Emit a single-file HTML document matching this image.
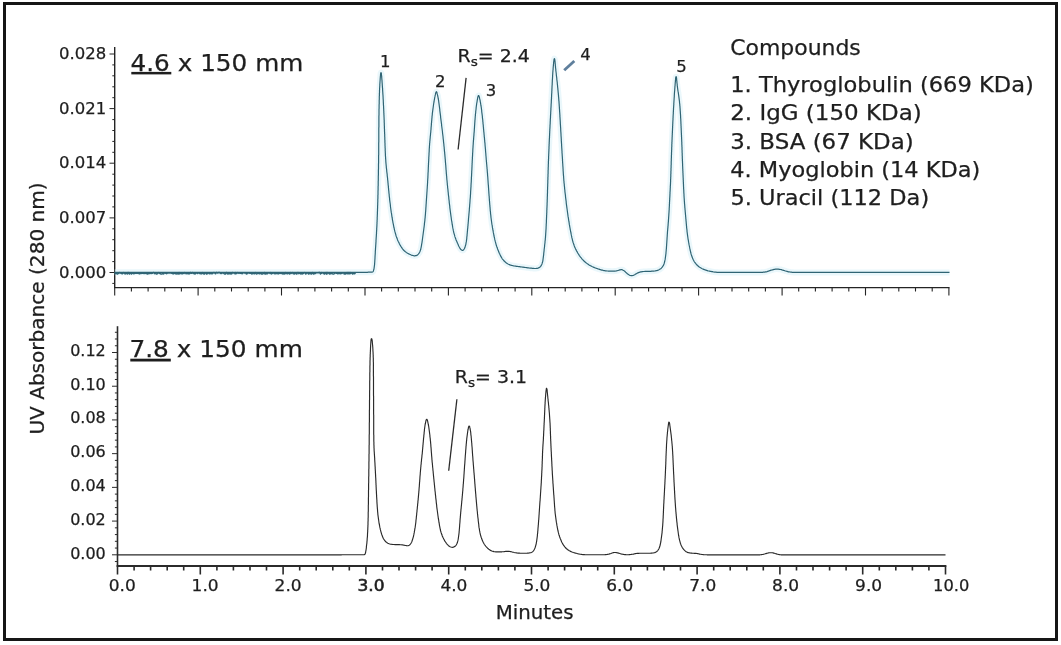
<!DOCTYPE html>
<html lang="en"><head><meta charset="utf-8"><title>SEC chromatograms</title>
<style>html,body{margin:0;padding:0;background:#fff}svg{display:block}</style></head>
<body>
<svg width="1061" height="645" viewBox="0 0 1061 645" font-family='"DejaVu Sans", "Liberation Sans", sans-serif' fill="#222">
<rect x="4.5" y="3.5" width="1052" height="636" fill="#fff" stroke="#161616" stroke-width="3"/>
<g stroke="#242424" stroke-width="1.4" fill="none">
<path d="M114.7 47 V288"/>
<path d="M114.10000000000001 287.6 H949.5" stroke-width="1.4"/>
<path d="M114.7 287.4 V295.6M131.4 287.4 V291.6M148.1 287.4 V291.6M164.8 287.4 V291.6M181.4 287.4 V291.6M198.1 287.4 V295.6M214.8 287.4 V291.6M231.5 287.4 V291.6M248.2 287.4 V291.6M264.9 287.4 V291.6M281.5 287.4 V295.6M298.2 287.4 V291.6M314.9 287.4 V291.6M331.6 287.4 V291.6M348.3 287.4 V291.6M365.0 287.4 V295.6M381.6 287.4 V291.6M398.3 287.4 V291.6M415.0 287.4 V291.6M431.7 287.4 V291.6M448.4 287.4 V295.6M465.1 287.4 V291.6M481.7 287.4 V291.6M498.4 287.4 V291.6M515.1 287.4 V291.6M531.8 287.4 V295.6M548.5 287.4 V291.6M565.2 287.4 V291.6M581.9 287.4 V291.6M598.5 287.4 V291.6M615.2 287.4 V295.6M631.9 287.4 V291.6M648.6 287.4 V291.6M665.3 287.4 V291.6M682.0 287.4 V291.6M698.6 287.4 V295.6M715.3 287.4 V291.6M732.0 287.4 V291.6M748.7 287.4 V291.6M765.4 287.4 V291.6M782.1 287.4 V295.6M798.7 287.4 V291.6M815.4 287.4 V291.6M832.1 287.4 V291.6M848.8 287.4 V291.6M865.5 287.4 V295.6M882.2 287.4 V291.6M898.8 287.4 V291.6M915.5 287.4 V291.6M932.2 287.4 V291.6M948.9 287.4 V295.6" stroke-width="1.1"/>
<path d="M112.3 283.4 H114.7M109.5 272.5 H114.7M112.3 261.6 H114.7M112.3 250.7 H114.7M112.3 239.7 H114.7M112.3 228.8 H114.7M109.5 217.9 H114.7M112.3 206.9 H114.7M112.3 196.0 H114.7M112.3 185.1 H114.7M112.3 174.2 H114.7M109.5 163.2 H114.7M112.3 152.3 H114.7M112.3 141.4 H114.7M112.3 130.5 H114.7M112.3 119.6 H114.7M109.5 108.6 H114.7M112.3 97.7 H114.7M112.3 86.8 H114.7M112.3 75.8 H114.7M112.3 64.9 H114.7M109.5 54.0 H114.7" stroke-width="1"/>
</g>
<g stroke="#2b2b2b" fill="none">
<path d="M117.5 326.2 V566.5" stroke-width="1.6"/>
<path d="M116.7 565.9 H946.3" stroke-width="2"/>
<path d="M117.5 565.5 V574.6M134.1 565.5 V570.4M150.6 565.5 V570.4M167.2 565.5 V570.4M183.7 565.5 V570.4M200.3 565.5 V574.6M216.9 565.5 V570.4M233.4 565.5 V570.4M250.0 565.5 V570.4M266.5 565.5 V570.4M283.1 565.5 V574.6M299.7 565.5 V570.4M316.2 565.5 V570.4M332.8 565.5 V570.4M349.3 565.5 V570.4M365.9 565.5 V574.6M382.5 565.5 V570.4M399.0 565.5 V570.4M415.6 565.5 V570.4M432.1 565.5 V570.4M448.7 565.5 V574.6M465.3 565.5 V570.4M481.8 565.5 V570.4M498.4 565.5 V570.4M514.9 565.5 V570.4M531.5 565.5 V574.6M548.1 565.5 V570.4M564.6 565.5 V570.4M581.2 565.5 V570.4M597.7 565.5 V570.4M614.3 565.5 V574.6M630.9 565.5 V570.4M647.4 565.5 V570.4M664.0 565.5 V570.4M680.5 565.5 V570.4M697.1 565.5 V574.6M713.7 565.5 V570.4M730.2 565.5 V570.4M746.8 565.5 V570.4M763.3 565.5 V570.4M779.9 565.5 V574.6M796.5 565.5 V570.4M813.0 565.5 V570.4M829.6 565.5 V570.4M846.1 565.5 V570.4M862.7 565.5 V574.6M879.3 565.5 V570.4M895.8 565.5 V570.4M912.4 565.5 V570.4M928.9 565.5 V570.4M945.5 565.5 V574.6" stroke-width="1.6"/>
<path d="M114.9 561.54 H117.5M112.0 554.80 H117.5M114.9 548.06 H117.5M114.9 541.31 H117.5M114.9 534.57 H117.5M114.9 527.83 H117.5M112.0 521.08 H117.5M114.9 514.34 H117.5M114.9 507.60 H117.5M114.9 500.85 H117.5M114.9 494.11 H117.5M112.0 487.37 H117.5M114.9 480.62 H117.5M114.9 473.88 H117.5M114.9 467.14 H117.5M114.9 460.39 H117.5M112.0 453.65 H117.5M114.9 446.91 H117.5M114.9 440.16 H117.5M114.9 433.42 H117.5M114.9 426.68 H117.5M112.0 419.93 H117.5M114.9 413.19 H117.5M114.9 406.45 H117.5M114.9 399.70 H117.5M114.9 392.96 H117.5M112.0 386.22 H117.5M114.9 379.47 H117.5M114.9 372.73 H117.5M114.9 365.99 H117.5M114.9 359.24 H117.5M112.0 352.50 H117.5M114.9 345.76 H117.5M114.9 339.01 H117.5M114.9 332.27 H117.5" stroke-width="1"/>
</g>
<path d="M114.7 272.3 L115.9 272.3 L116.3 272.3 L116.8 272.3 L117.3 272.3 L117.9 272.3 L118.6 272.3 L119.3 272.3 L120.0 272.3 L120.7 272.3 L121.5 272.3 L122.2 272.3 L123.0 272.3 L123.7 272.3 L124.5 272.3 L125.2 272.3 L126.0 272.3 L126.7 272.3 L127.4 272.3 L128.2 272.3 L128.9 272.3 L129.7 272.3 L130.5 272.3 L131.2 272.3 L131.9 272.3 L132.7 272.3 L133.5 272.3 L134.2 272.3 L134.9 272.3 L135.7 272.3 L136.5 272.3 L137.2 272.3 L137.9 272.3 L138.7 272.3 L139.4 272.3 L140.2 272.3 L140.9 272.3 L141.7 272.3 L142.4 272.3 L143.2 272.3 L143.9 272.3 L144.7 272.3 L145.4 272.3 L146.2 272.3 L146.9 272.3 L147.7 272.3 L148.4 272.3 L149.2 272.3 L150.0 272.3 L150.7 272.3 L151.4 272.3 L152.2 272.3 L152.9 272.3 L153.7 272.3 L154.5 272.3 L155.2 272.3 L155.9 272.3 L156.7 272.3 L157.4 272.3 L158.2 272.3 L158.9 272.3 L159.7 272.3 L160.4 272.3 L161.2 272.3 L161.9 272.3 L162.7 272.3 L163.5 272.3 L164.2 272.3 L165.0 272.3 L165.7 272.3 L166.4 272.3 L167.2 272.3 L168.0 272.3 L168.7 272.3 L169.4 272.3 L170.2 272.3 L170.9 272.3 L171.7 272.3 L172.4 272.3 L173.2 272.3 L173.9 272.3 L174.7 272.3 L175.5 272.3 L176.2 272.3 L176.9 272.3 L177.7 272.3 L178.4 272.3 L179.2 272.3 L179.9 272.3 L180.7 272.3 L181.5 272.3 L182.2 272.3 L182.9 272.3 L183.7 272.3 L184.5 272.3 L185.2 272.3 L186.0 272.3 L186.7 272.3 L187.4 272.3 L188.2 272.3 L188.9 272.3 L189.7 272.3 L190.4 272.3 L191.2 272.3 L192.0 272.3 L192.7 272.3 L193.4 272.3 L194.2 272.3 L195.0 272.3 L195.7 272.3 L196.4 272.3 L197.2 272.3 L197.9 272.3 L198.7 272.3 L199.4 272.3 L200.2 272.3 L200.9 272.3 L201.7 272.3 L202.5 272.3 L203.2 272.3 L204.0 272.3 L204.7 272.3 L205.5 272.3 L206.2 272.3 L207.0 272.3 L207.7 272.3 L208.4 272.3 L209.2 272.3 L209.9 272.3 L210.7 272.3 L211.4 272.3 L212.2 272.3 L213.0 272.3 L213.7 272.3 L214.5 272.3 L215.2 272.3 L216.0 272.3 L216.7 272.3 L217.4 272.3 L218.2 272.3 L218.9 272.3 L219.7 272.3 L220.5 272.3 L221.2 272.3 L221.9 272.3 L222.7 272.3 L223.4 272.3 L224.2 272.3 L225.0 272.3 L225.7 272.3 L226.4 272.3 L227.2 272.3 L228.0 272.3 L228.7 272.3 L229.4 272.3 L230.2 272.3 L230.9 272.3 L231.7 272.3 L232.5 272.3 L233.2 272.3 L233.9 272.3 L234.7 272.3 L235.4 272.3 L236.2 272.3 L236.9 272.3 L237.7 272.3 L238.5 272.3 L239.2 272.3 L240.0 272.3 L240.7 272.3 L241.4 272.3 L242.2 272.3 L242.9 272.3 L243.7 272.3 L244.5 272.3 L245.2 272.3 L246.0 272.3 L246.7 272.3 L247.5 272.3 L248.2 272.3 L248.9 272.3 L249.7 272.3 L250.5 272.3 L251.2 272.3 L251.9 272.3 L252.7 272.3 L253.4 272.3 L254.2 272.3 L254.9 272.3 L255.7 272.3 L256.4 272.3 L257.2 272.3 L257.9 272.3 L258.7 272.3 L259.4 272.3 L260.2 272.3 L261.0 272.3 L261.7 272.3 L262.4 272.3 L263.2 272.3 L263.9 272.3 L264.7 272.3 L265.5 272.3 L266.2 272.3 L267.0 272.3 L267.7 272.3 L268.4 272.3 L269.2 272.3 L269.9 272.3 L270.7 272.3 L271.4 272.3 L272.2 272.3 L273.0 272.3 L273.7 272.3 L274.4 272.3 L275.2 272.3 L276.0 272.3 L276.7 272.3 L277.4 272.3 L278.2 272.3 L278.9 272.3 L279.7 272.3 L280.4 272.3 L281.2 272.3 L281.9 272.3 L282.7 272.3 L283.4 272.3 L284.2 272.3 L284.9 272.3 L285.7 272.3 L286.5 272.3 L287.2 272.3 L287.9 272.3 L288.7 272.3 L289.4 272.3 L290.2 272.3 L291.0 272.3 L291.7 272.3 L292.4 272.3 L293.2 272.3 L294.0 272.3 L294.7 272.3 L295.5 272.3 L296.2 272.3 L296.9 272.3 L297.7 272.3 L298.4 272.3 L299.2 272.3 L299.9 272.3 L300.7 272.3 L301.4 272.3 L302.2 272.3 L302.9 272.3 L303.7 272.3 L304.5 272.3 L305.2 272.3 L305.9 272.3 L306.7 272.3 L307.5 272.3 L308.2 272.3 L309.0 272.3 L309.7 272.3 L310.4 272.3 L311.2 272.3 L312.0 272.3 L312.7 272.3 L313.4 272.3 L314.2 272.3 L314.9 272.3 L315.7 272.3 L316.5 272.3 L317.2 272.3 L317.9 272.3 L318.7 272.3 L319.4 272.3 L320.2 272.3 L320.9 272.3 L321.7 272.3 L322.4 272.3 L323.2 272.3 L323.9 272.3 L324.7 272.3 L325.5 272.3 L326.2 272.3 L326.9 272.3 L327.7 272.3 L328.5 272.3 L329.2 272.3 L330.0 272.3 L330.7 272.3 L331.4 272.3 L332.2 272.3 L332.9 272.3 L333.7 272.3 L334.4 272.3 L335.2 272.3 L336.0 272.3 L336.7 272.3 L337.4 272.3 L338.2 272.3 L339.0 272.3 L339.7 272.3 L340.4 272.3 L341.2 272.3 L341.9 272.3 L342.7 272.3 L343.4 272.3 L344.2 272.3 L344.9 272.3 L345.7 272.3 L346.4 272.3 L347.2 272.3 L347.9 272.3 L348.7 272.3 L349.4 272.3 L350.2 272.3 L350.9 272.3 L351.7 272.3 L352.4 272.3 L353.2 272.3 L353.9 272.3 L354.7 272.3 L355.4 272.3 L356.2 272.3 L356.9 272.3 L357.7 272.3 L358.4 272.3 L359.2 272.3 L359.9 272.3 L360.7 272.3 L361.4 272.3 L362.2 272.3 L362.9 272.3 L363.7 272.3 L364.4 272.3 L365.2 272.3 L365.9 272.3 L366.7 272.3 L367.4 272.3 L368.2 272.2 L368.9 272.2 L369.7 272.2 L370.4 272.2 L371.2 272.2 L371.9 272.2 L372.6 272.0 L373.1 271.6 L373.4 270.9 L373.6 270.2 L373.8 269.5 L374.0 268.8 L374.1 268.0 L374.2 267.3 L374.3 266.6 L374.4 265.8 L374.5 265.1 L374.6 264.3 L374.6 263.6 L374.7 262.8 L374.7 262.1 L374.8 261.3 L374.8 260.6 L374.9 259.8 L374.9 259.1 L375.0 258.3 L375.0 257.6 L375.0 256.9 L375.1 256.1 L375.1 255.4 L375.2 254.6 L375.2 253.9 L375.3 253.1 L375.3 252.4 L375.3 251.6 L375.4 250.9 L375.4 250.1 L375.5 249.4 L375.5 248.6 L375.6 247.9 L375.6 247.1 L375.7 246.4 L375.7 245.6 L375.8 244.9 L375.8 244.1 L375.9 243.4 L375.9 242.6 L376.0 241.9 L376.0 241.1 L376.0 240.4 L376.1 239.6 L376.1 238.9 L376.2 238.1 L376.2 237.4 L376.3 236.6 L376.3 235.9 L376.4 235.1 L376.4 234.4 L376.5 233.6 L376.5 232.9 L376.5 232.1 L376.6 231.4 L376.6 230.6 L376.7 229.9 L376.7 229.1 L376.7 228.4 L376.8 227.7 L376.8 226.9 L376.9 226.2 L376.9 225.4 L376.9 224.7 L377.0 223.9 L377.0 223.2 L377.0 222.4 L377.1 221.7 L377.1 220.9 L377.1 220.2 L377.2 219.4 L377.2 218.7 L377.2 217.9 L377.2 217.2 L377.3 216.4 L377.3 215.7 L377.3 214.9 L377.4 214.2 L377.4 213.4 L377.4 212.7 L377.4 211.9 L377.5 211.2 L377.5 210.4 L377.5 209.7 L377.5 208.9 L377.6 208.2 L377.6 207.4 L377.6 206.7 L377.6 205.9 L377.7 205.2 L377.7 204.4 L377.7 203.7 L377.7 202.9 L377.8 202.2 L377.8 201.4 L377.8 200.7 L377.8 199.9 L377.8 199.2 L377.9 198.4 L377.9 197.7 L377.9 196.9 L377.9 196.2 L377.9 195.4 L378.0 194.7 L378.0 193.9 L378.0 193.2 L378.0 192.4 L378.0 191.7 L378.0 190.9 L378.1 190.2 L378.1 189.4 L378.1 188.7 L378.1 187.9 L378.1 187.2 L378.1 186.4 L378.2 185.7 L378.2 184.9 L378.2 184.2 L378.2 183.4 L378.2 182.7 L378.2 181.9 L378.2 181.2 L378.3 180.4 L378.3 179.7 L378.3 178.9 L378.3 178.2 L378.3 177.4 L378.3 176.7 L378.3 175.9 L378.4 175.2 L378.4 174.4 L378.4 173.7 L378.4 172.9 L378.4 172.2 L378.4 171.4 L378.4 170.7 L378.4 169.9 L378.5 169.2 L378.5 168.4 L378.5 167.7 L378.5 166.9 L378.5 166.2 L378.5 165.4 L378.5 164.7 L378.5 163.9 L378.6 163.2 L378.6 162.4 L378.6 161.7 L378.6 160.9 L378.6 160.2 L378.6 159.4 L378.6 158.7 L378.6 157.9 L378.6 157.2 L378.6 156.4 L378.6 155.7 L378.7 154.9 L378.7 154.2 L378.7 153.4 L378.7 152.7 L378.7 151.9 L378.7 151.2 L378.7 150.4 L378.7 149.7 L378.7 148.9 L378.7 148.2 L378.7 147.4 L378.7 146.7 L378.7 145.9 L378.7 145.2 L378.7 144.4 L378.7 143.7 L378.7 142.9 L378.8 142.2 L378.8 141.4 L378.8 140.7 L378.8 139.9 L378.8 139.2 L378.8 138.4 L378.8 137.7 L378.8 136.9 L378.8 136.2 L378.8 135.4 L378.8 134.7 L378.8 133.9 L378.8 133.2 L378.8 132.4 L378.8 131.7 L378.8 130.9 L378.8 130.2 L378.8 129.4 L378.8 128.7 L378.8 127.9 L378.9 127.2 L378.9 126.4 L378.9 125.7 L378.9 124.9 L378.9 124.2 L378.9 123.4 L378.9 122.7 L378.9 121.9 L378.9 121.2 L378.9 120.4 L378.9 119.7 L378.9 118.9 L378.9 118.2 L378.9 117.4 L378.9 116.7 L378.9 115.9 L379.0 115.2 L379.0 114.4 L379.0 113.7 L379.0 112.9 L379.0 112.2 L379.0 111.4 L379.0 110.7 L379.0 109.9 L379.0 109.2 L379.1 108.4 L379.1 107.7 L379.1 106.9 L379.1 106.2 L379.1 105.4 L379.1 104.7 L379.2 103.9 L379.2 103.2 L379.2 102.4 L379.2 101.7 L379.2 100.9 L379.2 100.2 L379.3 99.4 L379.3 98.7 L379.3 97.9 L379.3 97.2 L379.3 96.4 L379.4 95.7 L379.4 94.9 L379.4 94.2 L379.4 93.4 L379.5 92.7 L379.5 91.9 L379.5 91.2 L379.5 90.4 L379.6 89.7 L379.6 88.9 L379.6 88.2 L379.7 87.4 L379.7 86.7 L379.8 85.9 L379.8 85.2 L379.8 84.4 L379.9 83.7 L379.9 82.9 L380.0 82.2 L380.0 81.5 L380.1 80.7 L380.1 80.0 L380.2 79.2 L380.2 78.5 L380.3 77.7 L380.3 77.0 L380.4 76.2 L380.5 75.5 L380.5 74.8 L380.6 74.0 L380.7 73.3 L380.9 72.7 L381.1 72.6 L381.2 73.0 L381.4 73.7 L381.4 74.4 L381.5 75.2 L381.6 75.9 L381.7 76.6 L381.7 77.4 L381.8 78.1 L381.8 78.9 L381.9 79.6 L382.0 80.4 L382.0 81.1 L382.1 81.9 L382.1 82.6 L382.2 83.4 L382.2 84.1 L382.3 84.8 L382.3 85.6 L382.4 86.3 L382.4 87.1 L382.5 87.8 L382.6 88.6 L382.6 89.3 L382.6 90.1 L382.7 90.8 L382.7 91.6 L382.8 92.3 L382.8 93.1 L382.9 93.8 L382.9 94.6 L383.0 95.3 L383.0 96.1 L383.1 96.8 L383.1 97.6 L383.1 98.3 L383.2 99.1 L383.2 99.8 L383.3 100.6 L383.3 101.3 L383.3 102.1 L383.4 102.8 L383.4 103.6 L383.4 104.3 L383.5 105.1 L383.5 105.8 L383.6 106.6 L383.6 107.3 L383.6 108.1 L383.7 108.8 L383.7 109.6 L383.7 110.3 L383.8 111.1 L383.8 111.8 L383.8 112.6 L383.9 113.3 L383.9 114.1 L383.9 114.8 L384.0 115.6 L384.0 116.3 L384.0 117.0 L384.1 117.8 L384.1 118.5 L384.1 119.3 L384.2 120.0 L384.2 120.8 L384.2 121.5 L384.2 122.3 L384.3 123.0 L384.3 123.8 L384.3 124.5 L384.3 125.3 L384.4 126.0 L384.4 126.8 L384.4 127.5 L384.4 128.3 L384.5 129.0 L384.5 129.8 L384.5 130.5 L384.5 131.3 L384.6 132.0 L384.6 132.8 L384.6 133.5 L384.7 134.3 L384.7 135.0 L384.7 135.8 L384.7 136.5 L384.8 137.3 L384.8 138.0 L384.8 138.8 L384.8 139.5 L384.9 140.3 L384.9 141.0 L384.9 141.8 L384.9 142.5 L385.0 143.3 L385.0 144.0 L385.0 144.8 L385.0 145.5 L385.1 146.3 L385.1 147.0 L385.1 147.8 L385.2 148.5 L385.2 149.3 L385.2 150.0 L385.2 150.8 L385.3 151.5 L385.3 152.3 L385.3 153.0 L385.4 153.8 L385.4 154.5 L385.4 155.3 L385.5 156.0 L385.5 156.8 L385.6 157.5 L385.6 158.3 L385.7 159.0 L385.7 159.8 L385.8 160.5 L385.8 161.3 L385.9 162.0 L385.9 162.8 L386.0 163.5 L386.1 164.3 L386.1 165.0 L386.2 165.7 L386.3 166.5 L386.3 167.2 L386.4 168.0 L386.5 168.7 L386.6 169.5 L386.7 170.2 L386.7 171.0 L386.8 171.7 L386.9 172.5 L387.0 173.2 L387.1 173.9 L387.2 174.7 L387.2 175.4 L387.3 176.2 L387.4 176.9 L387.5 177.7 L387.6 178.4 L387.6 179.2 L387.7 179.9 L387.8 180.7 L387.9 181.4 L387.9 182.2 L388.0 182.9 L388.1 183.6 L388.1 184.4 L388.2 185.1 L388.3 185.9 L388.4 186.6 L388.4 187.4 L388.5 188.1 L388.6 188.9 L388.6 189.6 L388.7 190.4 L388.8 191.1 L388.9 191.9 L388.9 192.6 L389.0 193.4 L389.1 194.1 L389.2 194.8 L389.2 195.6 L389.3 196.3 L389.4 197.1 L389.5 197.8 L389.6 198.6 L389.6 199.3 L389.7 200.1 L389.8 200.8 L389.9 201.6 L390.0 202.3 L390.1 203.0 L390.2 203.8 L390.3 204.5 L390.4 205.3 L390.4 206.0 L390.5 206.8 L390.6 207.5 L390.7 208.3 L390.8 209.0 L390.9 209.7 L391.0 210.5 L391.1 211.2 L391.2 212.0 L391.3 212.7 L391.5 213.4 L391.6 214.2 L391.7 214.9 L391.8 215.7 L391.9 216.4 L392.0 217.2 L392.2 217.9 L392.3 218.6 L392.4 219.4 L392.5 220.1 L392.7 220.8 L392.8 221.6 L392.9 222.3 L393.1 223.1 L393.2 223.8 L393.4 224.5 L393.5 225.3 L393.6 226.0 L393.8 226.7 L393.9 227.5 L394.1 228.2 L394.3 228.9 L394.4 229.7 L394.6 230.4 L394.8 231.1 L395.0 231.9 L395.2 232.6 L395.4 233.3 L395.6 234.0 L395.8 234.7 L396.0 235.5 L396.2 236.2 L396.5 236.9 L396.7 237.6 L397.0 238.3 L397.3 239.0 L397.5 239.7 L397.8 240.4 L398.1 241.1 L398.4 241.7 L398.8 242.4 L399.1 243.1 L399.4 243.8 L399.8 244.4 L400.1 245.1 L400.5 245.7 L400.9 246.4 L401.3 247.0 L401.7 247.6 L402.1 248.2 L402.5 248.8 L403.0 249.4 L403.5 250.0 L404.0 250.5 L404.6 251.0 L405.1 251.5 L405.7 251.9 L406.3 252.4 L406.9 252.8 L407.5 253.2 L408.2 253.5 L408.8 253.9 L409.5 254.2 L410.2 254.5 L410.8 254.8 L411.5 255.1 L412.2 255.3 L412.9 255.5 L413.6 255.7 L414.2 255.8 L414.9 255.8 L415.5 255.7 L416.2 255.6 L416.7 255.4 L417.3 255.1 L417.8 254.7 L418.3 254.2 L418.7 253.7 L419.1 253.1 L419.5 252.5 L419.8 251.8 L420.1 251.2 L420.3 250.5 L420.6 249.8 L420.8 249.1 L420.9 248.3 L421.1 247.6 L421.2 246.9 L421.4 246.1 L421.5 245.4 L421.6 244.7 L421.7 243.9 L421.9 243.2 L422.0 242.4 L422.1 241.7 L422.2 241.0 L422.3 240.2 L422.4 239.5 L422.5 238.7 L422.6 238.0 L422.7 237.2 L422.8 236.5 L422.9 235.7 L423.0 235.0 L423.1 234.3 L423.2 233.5 L423.3 232.8 L423.4 232.0 L423.5 231.3 L423.6 230.5 L423.7 229.8 L423.8 229.1 L423.9 228.3 L424.0 227.6 L424.1 226.8 L424.2 226.1 L424.3 225.3 L424.4 224.6 L424.4 223.9 L424.5 223.1 L424.6 222.4 L424.7 221.6 L424.8 220.9 L424.9 220.1 L424.9 219.4 L425.0 218.6 L425.1 217.9 L425.2 217.1 L425.2 216.4 L425.3 215.6 L425.4 214.9 L425.4 214.2 L425.5 213.4 L425.5 212.7 L425.6 211.9 L425.7 211.2 L425.7 210.4 L425.8 209.7 L425.8 208.9 L425.9 208.2 L425.9 207.4 L426.0 206.7 L426.0 205.9 L426.1 205.2 L426.1 204.4 L426.2 203.7 L426.2 202.9 L426.3 202.2 L426.3 201.4 L426.4 200.7 L426.4 199.9 L426.5 199.2 L426.5 198.4 L426.6 197.7 L426.6 196.9 L426.7 196.2 L426.7 195.4 L426.8 194.7 L426.8 194.0 L426.9 193.2 L426.9 192.5 L427.0 191.7 L427.0 191.0 L427.1 190.2 L427.1 189.5 L427.2 188.7 L427.2 188.0 L427.3 187.2 L427.3 186.5 L427.4 185.7 L427.4 185.0 L427.5 184.2 L427.5 183.5 L427.6 182.7 L427.6 182.0 L427.6 181.2 L427.7 180.5 L427.7 179.7 L427.8 179.0 L427.8 178.2 L427.9 177.5 L427.9 176.7 L427.9 176.0 L428.0 175.2 L428.0 174.5 L428.0 173.7 L428.1 173.0 L428.1 172.2 L428.2 171.5 L428.2 170.7 L428.2 170.0 L428.3 169.2 L428.3 168.5 L428.3 167.7 L428.4 167.0 L428.4 166.2 L428.4 165.5 L428.5 164.7 L428.5 164.0 L428.5 163.2 L428.6 162.5 L428.6 161.8 L428.7 161.0 L428.7 160.3 L428.7 159.5 L428.8 158.8 L428.8 158.0 L428.8 157.3 L428.9 156.5 L428.9 155.8 L429.0 155.0 L429.0 154.3 L429.0 153.5 L429.1 152.8 L429.1 152.0 L429.2 151.3 L429.2 150.5 L429.2 149.8 L429.3 149.0 L429.3 148.3 L429.4 147.5 L429.4 146.8 L429.5 146.0 L429.5 145.3 L429.6 144.5 L429.6 143.8 L429.7 143.0 L429.8 142.3 L429.8 141.5 L429.9 140.8 L430.0 140.0 L430.0 139.3 L430.1 138.6 L430.2 137.8 L430.2 137.1 L430.3 136.3 L430.4 135.6 L430.5 134.8 L430.5 134.1 L430.6 133.3 L430.7 132.6 L430.8 131.8 L430.8 131.1 L430.9 130.3 L431.0 129.6 L431.0 128.8 L431.1 128.1 L431.1 127.4 L431.2 126.6 L431.3 125.9 L431.3 125.1 L431.4 124.4 L431.4 123.6 L431.5 122.9 L431.6 122.1 L431.6 121.4 L431.7 120.6 L431.8 119.9 L431.8 119.1 L431.9 118.4 L432.0 117.6 L432.0 116.9 L432.1 116.1 L432.2 115.4 L432.3 114.7 L432.3 113.9 L432.4 113.2 L432.5 112.4 L432.6 111.7 L432.7 110.9 L432.8 110.2 L432.9 109.4 L433.0 108.7 L433.1 108.0 L433.2 107.2 L433.3 106.5 L433.4 105.7 L433.5 105.0 L433.6 104.2 L433.7 103.5 L433.8 102.8 L434.0 102.0 L434.1 101.3 L434.2 100.5 L434.3 99.8 L434.5 99.1 L434.6 98.3 L434.7 97.6 L434.9 96.9 L435.0 96.1 L435.2 95.4 L435.4 94.7 L435.5 94.0 L435.7 93.2 L435.9 92.5 L436.1 91.9 L436.4 91.7 L436.7 92.1 L437.0 92.7 L437.1 93.4 L437.3 94.1 L437.5 94.9 L437.7 95.6 L437.8 96.3 L438.0 97.1 L438.1 97.8 L438.2 98.5 L438.4 99.3 L438.5 100.0 L438.6 100.7 L438.7 101.5 L438.8 102.2 L438.9 103.0 L439.0 103.7 L439.1 104.4 L439.2 105.2 L439.3 105.9 L439.4 106.7 L439.5 107.4 L439.6 108.2 L439.7 108.9 L439.8 109.7 L439.8 110.4 L439.9 111.1 L440.0 111.9 L440.1 112.6 L440.2 113.4 L440.3 114.1 L440.4 114.9 L440.5 115.6 L440.6 116.4 L440.6 117.1 L440.7 117.8 L440.8 118.6 L440.9 119.3 L441.0 120.1 L441.1 120.8 L441.2 121.6 L441.3 122.3 L441.4 123.1 L441.5 123.8 L441.6 124.5 L441.6 125.3 L441.7 126.0 L441.8 126.8 L441.9 127.5 L442.0 128.3 L442.1 129.0 L442.2 129.8 L442.3 130.5 L442.4 131.3 L442.5 132.0 L442.5 132.7 L442.6 133.5 L442.7 134.2 L442.8 135.0 L442.9 135.7 L443.0 136.5 L443.1 137.2 L443.1 138.0 L443.2 138.7 L443.3 139.4 L443.4 140.2 L443.5 140.9 L443.5 141.7 L443.6 142.4 L443.7 143.2 L443.8 143.9 L443.9 144.7 L443.9 145.4 L444.0 146.2 L444.1 146.9 L444.2 147.7 L444.2 148.4 L444.3 149.1 L444.4 149.9 L444.4 150.6 L444.5 151.4 L444.6 152.1 L444.7 152.9 L444.7 153.6 L444.8 154.4 L444.9 155.1 L444.9 155.9 L445.0 156.6 L445.1 157.4 L445.1 158.1 L445.2 158.9 L445.3 159.6 L445.3 160.3 L445.4 161.1 L445.4 161.8 L445.5 162.6 L445.6 163.3 L445.6 164.1 L445.7 164.8 L445.8 165.6 L445.8 166.3 L445.9 167.1 L445.9 167.8 L446.0 168.6 L446.0 169.3 L446.1 170.1 L446.2 170.8 L446.2 171.6 L446.3 172.3 L446.3 173.1 L446.4 173.8 L446.5 174.6 L446.5 175.3 L446.6 176.0 L446.7 176.8 L446.7 177.5 L446.8 178.3 L446.8 179.0 L446.9 179.8 L447.0 180.5 L447.1 181.3 L447.1 182.0 L447.2 182.8 L447.3 183.5 L447.3 184.3 L447.4 185.0 L447.5 185.8 L447.6 186.5 L447.6 187.2 L447.7 188.0 L447.8 188.7 L447.9 189.5 L448.0 190.2 L448.0 191.0 L448.1 191.7 L448.2 192.5 L448.3 193.2 L448.3 194.0 L448.4 194.7 L448.5 195.5 L448.6 196.2 L448.7 196.9 L448.8 197.7 L448.8 198.4 L448.9 199.2 L449.0 199.9 L449.1 200.7 L449.2 201.4 L449.2 202.2 L449.3 202.9 L449.4 203.7 L449.5 204.4 L449.6 205.1 L449.7 205.9 L449.8 206.6 L449.8 207.4 L449.9 208.1 L450.0 208.9 L450.1 209.6 L450.2 210.4 L450.3 211.1 L450.4 211.8 L450.5 212.6 L450.6 213.3 L450.7 214.1 L450.8 214.8 L450.9 215.6 L451.0 216.3 L451.1 217.0 L451.2 217.8 L451.3 218.5 L451.4 219.3 L451.5 220.0 L451.6 220.8 L451.8 221.5 L451.9 222.2 L452.0 223.0 L452.1 223.7 L452.2 224.5 L452.4 225.2 L452.5 225.9 L452.6 226.7 L452.7 227.4 L452.9 228.2 L453.0 228.9 L453.2 229.6 L453.3 230.4 L453.5 231.1 L453.6 231.8 L453.8 232.6 L454.0 233.3 L454.2 234.0 L454.4 234.7 L454.6 235.4 L454.8 236.2 L455.0 236.9 L455.3 237.6 L455.5 238.3 L455.8 239.0 L456.0 239.7 L456.3 240.4 L456.6 241.1 L456.9 241.8 L457.2 242.5 L457.5 243.2 L457.8 243.8 L458.1 244.5 L458.4 245.2 L458.7 245.9 L459.0 246.5 L459.4 247.2 L459.7 247.8 L460.1 248.4 L460.4 249.0 L460.8 249.4 L461.2 249.8 L461.7 250.1 L462.1 250.3 L462.5 250.4 L462.9 250.3 L463.3 250.1 L463.7 249.8 L464.0 249.3 L464.3 248.8 L464.6 248.2 L464.9 247.6 L465.1 246.9 L465.3 246.2 L465.5 245.5 L465.7 244.8 L465.9 244.1 L466.0 243.3 L466.1 242.6 L466.3 241.9 L466.4 241.1 L466.5 240.4 L466.6 239.6 L466.7 238.9 L466.8 238.1 L466.8 237.4 L466.9 236.7 L467.0 235.9 L467.1 235.2 L467.1 234.4 L467.2 233.7 L467.3 232.9 L467.3 232.2 L467.4 231.4 L467.5 230.7 L467.5 229.9 L467.6 229.2 L467.7 228.4 L467.8 227.7 L467.8 226.9 L467.9 226.2 L468.0 225.5 L468.0 224.7 L468.1 224.0 L468.2 223.2 L468.2 222.5 L468.3 221.7 L468.4 221.0 L468.4 220.2 L468.5 219.5 L468.5 218.7 L468.6 218.0 L468.7 217.2 L468.7 216.5 L468.8 215.7 L468.9 215.0 L468.9 214.2 L469.0 213.5 L469.1 212.7 L469.1 212.0 L469.2 211.3 L469.3 210.5 L469.3 209.8 L469.4 209.0 L469.4 208.3 L469.5 207.5 L469.6 206.8 L469.6 206.0 L469.7 205.3 L469.7 204.5 L469.8 203.8 L469.9 203.0 L469.9 202.3 L470.0 201.5 L470.0 200.8 L470.1 200.0 L470.1 199.3 L470.2 198.5 L470.3 197.8 L470.3 197.0 L470.4 196.3 L470.4 195.6 L470.5 194.8 L470.5 194.1 L470.6 193.3 L470.6 192.6 L470.6 191.8 L470.7 191.1 L470.7 190.3 L470.8 189.6 L470.8 188.8 L470.9 188.1 L470.9 187.3 L471.0 186.6 L471.0 185.8 L471.0 185.1 L471.1 184.3 L471.1 183.6 L471.2 182.8 L471.2 182.1 L471.3 181.3 L471.3 180.6 L471.3 179.8 L471.4 179.1 L471.4 178.3 L471.4 177.6 L471.5 176.8 L471.5 176.1 L471.6 175.3 L471.6 174.6 L471.6 173.8 L471.7 173.1 L471.7 172.3 L471.7 171.6 L471.8 170.8 L471.8 170.1 L471.9 169.3 L471.9 168.6 L471.9 167.8 L472.0 167.1 L472.0 166.3 L472.0 165.6 L472.1 164.8 L472.1 164.1 L472.1 163.3 L472.2 162.6 L472.2 161.9 L472.2 161.1 L472.3 160.4 L472.3 159.6 L472.4 158.9 L472.4 158.1 L472.4 157.4 L472.5 156.6 L472.5 155.9 L472.6 155.1 L472.6 154.4 L472.6 153.6 L472.7 152.9 L472.7 152.1 L472.8 151.4 L472.8 150.6 L472.8 149.9 L472.9 149.1 L472.9 148.4 L473.0 147.6 L473.0 146.9 L473.1 146.1 L473.1 145.4 L473.2 144.6 L473.2 143.9 L473.3 143.1 L473.3 142.4 L473.4 141.6 L473.4 140.9 L473.5 140.1 L473.6 139.4 L473.6 138.6 L473.7 137.9 L473.7 137.1 L473.8 136.4 L473.9 135.7 L473.9 134.9 L474.0 134.2 L474.0 133.4 L474.1 132.7 L474.2 131.9 L474.2 131.2 L474.3 130.4 L474.3 129.7 L474.4 128.9 L474.4 128.2 L474.5 127.4 L474.5 126.7 L474.6 125.9 L474.6 125.2 L474.7 124.4 L474.7 123.7 L474.8 122.9 L474.8 122.2 L474.9 121.4 L474.9 120.7 L475.0 119.9 L475.1 119.2 L475.1 118.5 L475.2 117.7 L475.2 117.0 L475.3 116.2 L475.4 115.5 L475.4 114.7 L475.5 114.0 L475.6 113.2 L475.7 112.5 L475.7 111.7 L475.8 111.0 L475.9 110.2 L476.0 109.5 L476.1 108.7 L476.1 108.0 L476.2 107.3 L476.3 106.5 L476.4 105.8 L476.5 105.0 L476.6 104.3 L476.7 103.5 L476.8 102.8 L477.0 102.1 L477.1 101.3 L477.2 100.6 L477.3 99.9 L477.5 99.1 L477.6 98.4 L477.7 97.7 L477.9 96.9 L478.1 96.2 L478.3 95.7 L478.7 95.6 L479.0 96.1 L479.2 96.7 L479.4 97.4 L479.6 98.2 L479.7 98.9 L479.9 99.6 L480.1 100.4 L480.2 101.1 L480.3 101.8 L480.5 102.6 L480.6 103.3 L480.7 104.0 L480.8 104.8 L480.9 105.5 L481.1 106.3 L481.2 107.0 L481.3 107.7 L481.4 108.5 L481.5 109.2 L481.6 110.0 L481.7 110.7 L481.7 111.5 L481.8 112.2 L481.9 113.0 L482.0 113.7 L482.1 114.4 L482.2 115.2 L482.3 115.9 L482.4 116.7 L482.4 117.4 L482.5 118.2 L482.6 118.9 L482.7 119.7 L482.8 120.4 L482.8 121.2 L482.9 121.9 L483.0 122.6 L483.0 123.4 L483.1 124.1 L483.2 124.9 L483.3 125.6 L483.3 126.4 L483.4 127.1 L483.5 127.9 L483.5 128.6 L483.6 129.4 L483.7 130.1 L483.7 130.9 L483.8 131.6 L483.9 132.4 L484.0 133.1 L484.0 133.8 L484.1 134.6 L484.2 135.3 L484.2 136.1 L484.3 136.8 L484.4 137.6 L484.5 138.3 L484.5 139.1 L484.6 139.8 L484.7 140.6 L484.7 141.3 L484.8 142.1 L484.9 142.8 L485.0 143.6 L485.0 144.3 L485.1 145.0 L485.1 145.8 L485.2 146.5 L485.3 147.3 L485.3 148.0 L485.4 148.8 L485.5 149.5 L485.5 150.3 L485.6 151.0 L485.6 151.8 L485.7 152.5 L485.8 153.3 L485.8 154.0 L485.9 154.8 L485.9 155.5 L486.0 156.3 L486.1 157.0 L486.1 157.8 L486.2 158.5 L486.2 159.2 L486.3 160.0 L486.4 160.7 L486.4 161.5 L486.5 162.2 L486.6 163.0 L486.6 163.7 L486.7 164.5 L486.8 165.2 L486.8 166.0 L486.9 166.7 L487.0 167.5 L487.0 168.2 L487.1 169.0 L487.2 169.7 L487.2 170.5 L487.3 171.2 L487.3 172.0 L487.4 172.7 L487.5 173.4 L487.5 174.2 L487.6 174.9 L487.6 175.7 L487.7 176.4 L487.8 177.2 L487.8 177.9 L487.9 178.7 L487.9 179.4 L488.0 180.2 L488.0 180.9 L488.1 181.7 L488.1 182.4 L488.2 183.2 L488.2 183.9 L488.3 184.7 L488.4 185.4 L488.4 186.2 L488.5 186.9 L488.5 187.7 L488.6 188.4 L488.6 189.2 L488.7 189.9 L488.7 190.6 L488.8 191.4 L488.8 192.1 L488.9 192.9 L488.9 193.6 L489.0 194.4 L489.0 195.1 L489.1 195.9 L489.2 196.6 L489.2 197.4 L489.3 198.1 L489.3 198.9 L489.4 199.6 L489.4 200.4 L489.5 201.1 L489.6 201.9 L489.6 202.6 L489.7 203.4 L489.7 204.1 L489.8 204.9 L489.9 205.6 L489.9 206.4 L490.0 207.1 L490.1 207.8 L490.1 208.6 L490.2 209.3 L490.2 210.1 L490.3 210.8 L490.4 211.6 L490.5 212.3 L490.5 213.1 L490.6 213.8 L490.7 214.6 L490.8 215.3 L490.9 216.1 L490.9 216.8 L491.0 217.5 L491.1 218.3 L491.2 219.0 L491.3 219.8 L491.4 220.5 L491.5 221.3 L491.6 222.0 L491.7 222.8 L491.8 223.5 L491.9 224.2 L492.1 225.0 L492.2 225.7 L492.3 226.5 L492.4 227.2 L492.5 227.9 L492.7 228.7 L492.8 229.4 L492.9 230.2 L493.1 230.9 L493.2 231.6 L493.3 232.4 L493.5 233.1 L493.6 233.8 L493.8 234.6 L493.9 235.3 L494.0 236.0 L494.2 236.8 L494.4 237.5 L494.5 238.2 L494.7 239.0 L494.8 239.7 L495.0 240.4 L495.2 241.2 L495.4 241.9 L495.6 242.6 L495.8 243.3 L496.0 244.1 L496.2 244.8 L496.4 245.5 L496.6 246.2 L496.9 246.9 L497.1 247.6 L497.4 248.3 L497.6 249.0 L497.9 249.7 L498.2 250.4 L498.5 251.1 L498.7 251.8 L499.0 252.5 L499.3 253.2 L499.7 253.9 L500.0 254.6 L500.3 255.2 L500.6 255.9 L501.0 256.6 L501.3 257.2 L501.7 257.8 L502.1 258.5 L502.5 259.1 L503.0 259.7 L503.5 260.2 L503.9 260.8 L504.5 261.3 L505.0 261.8 L505.6 262.3 L506.1 262.8 L506.7 263.2 L507.3 263.6 L508.0 264.0 L508.6 264.3 L509.3 264.6 L510.0 264.9 L510.7 265.1 L511.4 265.3 L512.1 265.5 L512.9 265.7 L513.6 265.8 L514.3 266.0 L515.1 266.1 L515.8 266.2 L516.5 266.3 L517.3 266.4 L518.0 266.5 L518.8 266.6 L519.5 266.7 L520.3 266.8 L521.0 266.9 L521.7 267.0 L522.5 267.1 L523.2 267.2 L524.0 267.3 L524.7 267.4 L525.5 267.5 L526.2 267.6 L526.9 267.7 L527.7 267.8 L528.4 267.9 L529.2 268.0 L529.9 268.1 L530.7 268.2 L531.4 268.2 L532.2 268.3 L532.9 268.4 L533.6 268.4 L534.4 268.5 L535.1 268.5 L535.8 268.5 L536.5 268.4 L537.2 268.3 L537.9 268.1 L538.5 267.9 L539.1 267.6 L539.7 267.3 L540.2 266.8 L540.6 266.4 L541.0 265.8 L541.4 265.2 L541.7 264.6 L542.0 263.9 L542.2 263.2 L542.4 262.5 L542.6 261.8 L542.8 261.1 L542.9 260.4 L543.0 259.6 L543.1 258.9 L543.2 258.2 L543.3 257.4 L543.4 256.7 L543.5 255.9 L543.6 255.2 L543.7 254.4 L543.7 253.7 L543.8 252.9 L543.9 252.2 L544.0 251.4 L544.1 250.7 L544.1 250.0 L544.2 249.2 L544.3 248.5 L544.4 247.7 L544.5 247.0 L544.6 246.2 L544.6 245.5 L544.7 244.7 L544.8 244.0 L544.9 243.2 L545.0 242.5 L545.0 241.8 L545.1 241.0 L545.2 240.3 L545.3 239.5 L545.3 238.8 L545.4 238.0 L545.5 237.3 L545.5 236.5 L545.6 235.8 L545.6 235.0 L545.7 234.3 L545.7 233.5 L545.8 232.8 L545.8 232.0 L545.9 231.3 L545.9 230.5 L546.0 229.8 L546.0 229.0 L546.1 228.3 L546.1 227.5 L546.1 226.8 L546.2 226.0 L546.2 225.3 L546.2 224.5 L546.3 223.8 L546.3 223.1 L546.4 222.3 L546.4 221.6 L546.4 220.8 L546.4 220.1 L546.5 219.3 L546.5 218.6 L546.5 217.8 L546.6 217.1 L546.6 216.3 L546.6 215.6 L546.7 214.8 L546.7 214.1 L546.7 213.3 L546.8 212.6 L546.8 211.8 L546.8 211.1 L546.8 210.3 L546.9 209.6 L546.9 208.8 L546.9 208.1 L547.0 207.3 L547.0 206.6 L547.0 205.8 L547.1 205.1 L547.1 204.3 L547.1 203.6 L547.1 202.8 L547.2 202.1 L547.2 201.3 L547.2 200.6 L547.2 199.8 L547.3 199.1 L547.3 198.3 L547.3 197.6 L547.3 196.8 L547.4 196.1 L547.4 195.3 L547.4 194.6 L547.4 193.8 L547.5 193.1 L547.5 192.3 L547.5 191.6 L547.5 190.8 L547.5 190.1 L547.6 189.3 L547.6 188.6 L547.6 187.8 L547.6 187.1 L547.7 186.3 L547.7 185.6 L547.7 184.8 L547.7 184.1 L547.8 183.3 L547.8 182.6 L547.8 181.8 L547.8 181.1 L547.8 180.3 L547.9 179.6 L547.9 178.8 L547.9 178.1 L547.9 177.3 L548.0 176.6 L548.0 175.8 L548.0 175.1 L548.0 174.3 L548.1 173.6 L548.1 172.8 L548.1 172.1 L548.1 171.3 L548.1 170.6 L548.2 169.8 L548.2 169.1 L548.2 168.3 L548.2 167.6 L548.3 166.8 L548.3 166.1 L548.3 165.3 L548.3 164.6 L548.4 163.8 L548.4 163.1 L548.4 162.3 L548.4 161.6 L548.5 160.8 L548.5 160.1 L548.5 159.3 L548.6 158.6 L548.6 157.8 L548.6 157.1 L548.6 156.3 L548.7 155.6 L548.7 154.8 L548.7 154.1 L548.8 153.3 L548.8 152.6 L548.8 151.8 L548.9 151.1 L548.9 150.3 L548.9 149.6 L549.0 148.8 L549.0 148.1 L549.0 147.3 L549.0 146.6 L549.1 145.9 L549.1 145.1 L549.1 144.4 L549.2 143.6 L549.2 142.9 L549.2 142.1 L549.3 141.4 L549.3 140.6 L549.3 139.9 L549.4 139.1 L549.4 138.4 L549.5 137.6 L549.5 136.9 L549.5 136.1 L549.6 135.4 L549.6 134.6 L549.6 133.9 L549.7 133.1 L549.7 132.4 L549.7 131.6 L549.8 130.9 L549.8 130.1 L549.8 129.4 L549.9 128.6 L549.9 127.9 L550.0 127.1 L550.0 126.4 L550.0 125.6 L550.1 124.9 L550.1 124.1 L550.2 123.4 L550.2 122.6 L550.2 121.9 L550.3 121.1 L550.3 120.4 L550.3 119.6 L550.4 118.9 L550.4 118.1 L550.5 117.4 L550.5 116.6 L550.5 115.9 L550.6 115.1 L550.6 114.4 L550.7 113.6 L550.7 112.9 L550.7 112.1 L550.8 111.4 L550.8 110.6 L550.9 109.9 L550.9 109.1 L550.9 108.4 L551.0 107.6 L551.0 106.9 L551.1 106.2 L551.1 105.4 L551.1 104.7 L551.2 103.9 L551.2 103.2 L551.3 102.4 L551.3 101.7 L551.3 100.9 L551.4 100.2 L551.4 99.4 L551.5 98.7 L551.5 97.9 L551.5 97.2 L551.6 96.4 L551.6 95.7 L551.6 94.9 L551.7 94.2 L551.7 93.4 L551.8 92.7 L551.8 91.9 L551.8 91.2 L551.9 90.4 L551.9 89.7 L551.9 88.9 L552.0 88.2 L552.0 87.4 L552.0 86.7 L552.1 85.9 L552.1 85.2 L552.2 84.4 L552.2 83.7 L552.2 82.9 L552.3 82.2 L552.3 81.4 L552.3 80.7 L552.4 79.9 L552.4 79.2 L552.5 78.4 L552.5 77.7 L552.6 76.9 L552.6 76.2 L552.6 75.4 L552.7 74.7 L552.7 73.9 L552.8 73.2 L552.8 72.4 L552.9 71.7 L552.9 71.0 L553.0 70.2 L553.1 69.5 L553.1 68.7 L553.2 68.0 L553.2 67.2 L553.3 66.5 L553.4 65.7 L553.4 65.0 L553.5 64.2 L553.6 63.5 L553.6 62.8 L553.7 62.0 L553.8 61.3 L553.9 60.5 L554.0 59.8 L554.1 59.1 L554.3 58.6 L554.5 58.7 L554.7 59.2 L554.8 59.9 L554.9 60.6 L555.0 61.4 L555.1 62.1 L555.1 62.8 L555.2 63.6 L555.3 64.3 L555.3 65.1 L555.4 65.8 L555.5 66.6 L555.5 67.3 L555.6 68.0 L555.7 68.8 L555.8 69.5 L555.8 70.3 L555.9 71.0 L556.0 71.8 L556.1 72.5 L556.2 73.3 L556.3 74.0 L556.3 74.8 L556.4 75.5 L556.5 76.2 L556.6 77.0 L556.7 77.7 L556.8 78.5 L556.8 79.2 L556.9 80.0 L557.0 80.7 L557.1 81.5 L557.2 82.2 L557.3 83.0 L557.3 83.7 L557.4 84.4 L557.5 85.2 L557.6 85.9 L557.6 86.7 L557.7 87.4 L557.8 88.2 L557.9 88.9 L557.9 89.7 L558.0 90.4 L558.1 91.2 L558.1 91.9 L558.2 92.7 L558.3 93.4 L558.3 94.2 L558.4 94.9 L558.5 95.6 L558.5 96.4 L558.6 97.1 L558.7 97.9 L558.7 98.6 L558.8 99.4 L558.8 100.1 L558.9 100.9 L559.0 101.6 L559.0 102.4 L559.1 103.1 L559.1 103.9 L559.2 104.6 L559.2 105.4 L559.3 106.1 L559.3 106.9 L559.4 107.6 L559.4 108.4 L559.5 109.1 L559.5 109.9 L559.6 110.6 L559.6 111.4 L559.7 112.1 L559.7 112.9 L559.8 113.6 L559.8 114.3 L559.9 115.1 L559.9 115.8 L559.9 116.6 L560.0 117.3 L560.0 118.1 L560.1 118.8 L560.1 119.6 L560.2 120.3 L560.2 121.1 L560.3 121.8 L560.3 122.6 L560.3 123.3 L560.4 124.1 L560.4 124.8 L560.5 125.6 L560.5 126.3 L560.6 127.1 L560.6 127.8 L560.7 128.6 L560.7 129.3 L560.7 130.1 L560.8 130.8 L560.8 131.6 L560.9 132.3 L560.9 133.1 L561.0 133.8 L561.0 134.6 L561.0 135.3 L561.1 136.1 L561.1 136.8 L561.2 137.6 L561.2 138.3 L561.3 139.1 L561.3 139.8 L561.3 140.6 L561.4 141.3 L561.4 142.1 L561.5 142.8 L561.5 143.5 L561.6 144.3 L561.6 145.0 L561.6 145.8 L561.7 146.5 L561.7 147.3 L561.8 148.0 L561.8 148.8 L561.9 149.5 L561.9 150.3 L562.0 151.0 L562.0 151.8 L562.0 152.5 L562.1 153.3 L562.1 154.0 L562.2 154.8 L562.2 155.5 L562.3 156.3 L562.3 157.0 L562.4 157.8 L562.4 158.5 L562.5 159.3 L562.5 160.0 L562.5 160.8 L562.6 161.5 L562.6 162.3 L562.7 163.0 L562.7 163.8 L562.8 164.5 L562.8 165.3 L562.9 166.0 L562.9 166.8 L563.0 167.5 L563.0 168.3 L563.1 169.0 L563.1 169.8 L563.1 170.5 L563.2 171.2 L563.2 172.0 L563.3 172.7 L563.3 173.5 L563.4 174.2 L563.4 175.0 L563.5 175.7 L563.6 176.5 L563.6 177.2 L563.7 178.0 L563.7 178.7 L563.8 179.5 L563.8 180.2 L563.9 181.0 L564.0 181.7 L564.0 182.5 L564.1 183.2 L564.2 184.0 L564.3 184.7 L564.3 185.5 L564.4 186.2 L564.5 186.9 L564.6 187.7 L564.6 188.4 L564.7 189.2 L564.8 189.9 L564.9 190.7 L564.9 191.4 L565.0 192.2 L565.1 192.9 L565.2 193.7 L565.3 194.4 L565.4 195.1 L565.5 195.9 L565.5 196.6 L565.6 197.4 L565.7 198.1 L565.8 198.9 L565.9 199.6 L566.0 200.4 L566.1 201.1 L566.2 201.9 L566.2 202.6 L566.3 203.3 L566.4 204.1 L566.5 204.8 L566.6 205.6 L566.7 206.3 L566.8 207.1 L566.9 207.8 L567.0 208.5 L567.1 209.3 L567.2 210.0 L567.3 210.8 L567.4 211.5 L567.5 212.3 L567.6 213.0 L567.7 213.7 L567.8 214.5 L567.9 215.2 L568.0 216.0 L568.1 216.7 L568.3 217.5 L568.4 218.2 L568.5 218.9 L568.6 219.7 L568.7 220.4 L568.8 221.2 L569.0 221.9 L569.1 222.6 L569.2 223.4 L569.3 224.1 L569.4 224.9 L569.6 225.6 L569.7 226.3 L569.8 227.1 L570.0 227.8 L570.1 228.6 L570.2 229.3 L570.4 230.0 L570.5 230.8 L570.6 231.5 L570.8 232.2 L570.9 233.0 L571.1 233.7 L571.2 234.4 L571.4 235.2 L571.5 235.9 L571.7 236.7 L571.8 237.4 L572.0 238.1 L572.2 238.8 L572.4 239.6 L572.5 240.3 L572.7 241.0 L572.9 241.7 L573.1 242.5 L573.4 243.2 L573.6 243.9 L573.8 244.6 L574.1 245.3 L574.3 246.0 L574.6 246.7 L574.9 247.4 L575.2 248.1 L575.5 248.8 L575.8 249.4 L576.2 250.1 L576.5 250.8 L576.9 251.4 L577.3 252.1 L577.6 252.7 L578.0 253.4 L578.4 254.0 L578.8 254.6 L579.2 255.3 L579.6 255.9 L580.1 256.5 L580.5 257.1 L581.0 257.7 L581.5 258.2 L581.9 258.8 L582.4 259.4 L582.9 259.9 L583.5 260.5 L584.0 261.0 L584.6 261.5 L585.1 262.0 L585.7 262.5 L586.3 262.9 L586.9 263.4 L587.5 263.8 L588.1 264.2 L588.7 264.7 L589.3 265.1 L590.0 265.4 L590.6 265.8 L591.3 266.1 L592.0 266.5 L592.6 266.8 L593.3 267.1 L594.0 267.4 L594.7 267.7 L595.4 268.0 L596.1 268.2 L596.8 268.5 L597.5 268.7 L598.2 269.0 L598.9 269.2 L599.6 269.4 L600.3 269.7 L601.1 269.9 L601.8 270.1 L602.5 270.2 L603.2 270.4 L604.0 270.6 L604.7 270.7 L605.4 270.8 L606.2 270.9 L606.9 271.0 L607.7 271.0 L608.4 271.1 L609.2 271.1 L609.9 271.1 L610.7 271.2 L611.4 271.2 L612.1 271.2 L612.9 271.2 L613.6 271.2 L614.4 271.1 L615.1 271.1 L615.8 271.0 L616.5 270.9 L617.2 270.7 L617.8 270.5 L618.5 270.3 L619.1 270.1 L619.7 269.9 L620.3 269.8 L620.9 269.7 L621.5 269.7 L622.0 269.7 L622.6 269.9 L623.1 270.2 L623.7 270.5 L624.2 270.9 L624.7 271.3 L625.3 271.8 L625.8 272.3 L626.3 272.8 L626.9 273.3 L627.4 273.8 L628.0 274.2 L628.6 274.6 L629.2 275.0 L629.7 275.3 L630.4 275.5 L631.0 275.6 L631.6 275.7 L632.2 275.6 L632.8 275.5 L633.5 275.3 L634.1 275.0 L634.7 274.7 L635.3 274.3 L635.9 273.9 L636.5 273.6 L637.2 273.2 L637.8 272.9 L638.5 272.6 L639.2 272.3 L639.9 272.1 L640.6 271.9 L641.3 271.8 L642.0 271.7 L642.7 271.6 L643.5 271.5 L644.2 271.5 L645.0 271.4 L645.7 271.4 L646.5 271.4 L647.2 271.4 L648.0 271.3 L648.7 271.3 L649.5 271.3 L650.2 271.3 L651.0 271.3 L651.7 271.2 L652.5 271.2 L653.2 271.1 L653.9 271.1 L654.7 271.0 L655.4 270.9 L656.1 270.7 L656.8 270.6 L657.5 270.4 L658.2 270.1 L658.9 269.8 L659.5 269.5 L660.1 269.1 L660.7 268.7 L661.3 268.2 L661.8 267.7 L662.2 267.2 L662.6 266.6 L663.0 266.0 L663.4 265.4 L663.7 264.7 L664.0 264.0 L664.2 263.3 L664.4 262.6 L664.6 261.9 L664.8 261.2 L664.9 260.4 L665.1 259.7 L665.2 259.0 L665.3 258.2 L665.4 257.5 L665.5 256.8 L665.6 256.0 L665.7 255.3 L665.8 254.5 L665.9 253.8 L666.0 253.0 L666.0 252.3 L666.1 251.5 L666.2 250.8 L666.2 250.0 L666.3 249.3 L666.4 248.6 L666.4 247.8 L666.5 247.1 L666.5 246.3 L666.6 245.6 L666.6 244.8 L666.7 244.1 L666.7 243.3 L666.8 242.6 L666.8 241.8 L666.9 241.1 L666.9 240.3 L667.0 239.6 L667.0 238.8 L667.1 238.1 L667.1 237.3 L667.2 236.6 L667.2 235.8 L667.3 235.1 L667.3 234.3 L667.4 233.6 L667.4 232.8 L667.5 232.1 L667.5 231.3 L667.6 230.6 L667.7 229.8 L667.7 229.1 L667.8 228.4 L667.9 227.6 L667.9 226.9 L668.0 226.1 L668.1 225.4 L668.1 224.6 L668.2 223.9 L668.2 223.1 L668.3 222.4 L668.4 221.6 L668.4 220.9 L668.5 220.1 L668.5 219.4 L668.6 218.6 L668.6 217.9 L668.7 217.1 L668.7 216.4 L668.8 215.6 L668.8 214.9 L668.9 214.1 L668.9 213.4 L669.0 212.6 L669.0 211.9 L669.1 211.2 L669.1 210.4 L669.2 209.7 L669.2 208.9 L669.2 208.2 L669.3 207.4 L669.3 206.7 L669.4 205.9 L669.4 205.2 L669.4 204.4 L669.5 203.7 L669.5 202.9 L669.5 202.2 L669.6 201.4 L669.6 200.7 L669.7 199.9 L669.7 199.2 L669.7 198.4 L669.8 197.7 L669.8 196.9 L669.9 196.2 L669.9 195.4 L669.9 194.7 L670.0 193.9 L670.0 193.2 L670.0 192.4 L670.1 191.7 L670.1 190.9 L670.2 190.2 L670.2 189.4 L670.2 188.7 L670.3 187.9 L670.3 187.2 L670.3 186.4 L670.4 185.7 L670.4 184.9 L670.5 184.2 L670.5 183.4 L670.5 182.7 L670.6 181.9 L670.6 181.2 L670.6 180.4 L670.6 179.7 L670.7 178.9 L670.7 178.2 L670.7 177.4 L670.8 176.7 L670.8 175.9 L670.8 175.2 L670.8 174.4 L670.9 173.7 L670.9 172.9 L670.9 172.2 L670.9 171.4 L671.0 170.7 L671.0 169.9 L671.0 169.2 L671.0 168.4 L671.1 167.7 L671.1 166.9 L671.1 166.2 L671.1 165.4 L671.2 164.7 L671.2 163.9 L671.2 163.2 L671.2 162.5 L671.2 161.7 L671.3 161.0 L671.3 160.2 L671.3 159.5 L671.3 158.7 L671.4 158.0 L671.4 157.2 L671.4 156.5 L671.4 155.7 L671.5 155.0 L671.5 154.2 L671.5 153.5 L671.5 152.7 L671.6 152.0 L671.6 151.2 L671.6 150.5 L671.7 149.7 L671.7 149.0 L671.7 148.2 L671.7 147.5 L671.8 146.7 L671.8 146.0 L671.8 145.2 L671.8 144.5 L671.9 143.7 L671.9 143.0 L671.9 142.2 L672.0 141.5 L672.0 140.7 L672.0 140.0 L672.1 139.2 L672.1 138.5 L672.1 137.7 L672.2 137.0 L672.2 136.2 L672.2 135.5 L672.3 134.7 L672.3 134.0 L672.3 133.2 L672.4 132.5 L672.4 131.7 L672.4 131.0 L672.5 130.2 L672.5 129.5 L672.5 128.7 L672.6 128.0 L672.6 127.2 L672.6 126.5 L672.7 125.7 L672.7 125.0 L672.7 124.2 L672.8 123.5 L672.8 122.7 L672.8 122.0 L672.9 121.2 L672.9 120.5 L673.0 119.7 L673.0 119.0 L673.0 118.2 L673.1 117.5 L673.1 116.7 L673.1 116.0 L673.2 115.2 L673.2 114.5 L673.3 113.7 L673.3 113.0 L673.3 112.2 L673.4 111.5 L673.4 110.7 L673.5 110.0 L673.5 109.3 L673.5 108.5 L673.6 107.8 L673.6 107.0 L673.7 106.3 L673.7 105.5 L673.8 104.8 L673.8 104.0 L673.8 103.3 L673.9 102.5 L673.9 101.8 L674.0 101.0 L674.0 100.3 L674.1 99.5 L674.1 98.8 L674.2 98.0 L674.2 97.3 L674.3 96.5 L674.3 95.8 L674.3 95.0 L674.4 94.3 L674.4 93.5 L674.5 92.8 L674.5 92.0 L674.6 91.3 L674.7 90.5 L674.7 89.8 L674.8 89.0 L674.8 88.3 L674.9 87.5 L674.9 86.8 L675.0 86.0 L675.1 85.3 L675.1 84.6 L675.2 83.8 L675.2 83.1 L675.3 82.3 L675.4 81.6 L675.4 80.8 L675.5 80.1 L675.6 79.4 L675.6 78.6 L675.7 77.9 L675.8 77.2 L676.0 76.7 L676.2 76.7 L676.4 77.1 L676.5 77.8 L676.6 78.6 L676.6 79.3 L676.7 80.1 L676.8 80.8 L676.9 81.5 L676.9 82.3 L677.0 83.0 L677.1 83.8 L677.2 84.5 L677.2 85.2 L677.3 86.0 L677.4 86.7 L677.5 87.5 L677.6 88.2 L677.7 89.0 L677.8 89.7 L677.9 90.5 L678.0 91.2 L678.2 91.9 L678.3 92.7 L678.4 93.4 L678.5 94.2 L678.6 94.9 L678.7 95.6 L678.8 96.4 L678.9 97.1 L679.0 97.9 L679.1 98.6 L679.2 99.4 L679.3 100.1 L679.4 100.8 L679.5 101.6 L679.5 102.3 L679.6 103.1 L679.7 103.8 L679.8 104.6 L679.8 105.3 L679.9 106.1 L680.0 106.8 L680.0 107.6 L680.1 108.3 L680.1 109.1 L680.2 109.8 L680.2 110.6 L680.3 111.3 L680.3 112.1 L680.4 112.8 L680.4 113.6 L680.5 114.3 L680.5 115.1 L680.6 115.8 L680.6 116.5 L680.6 117.3 L680.7 118.0 L680.7 118.8 L680.8 119.5 L680.8 120.3 L680.8 121.0 L680.9 121.8 L680.9 122.5 L680.9 123.3 L681.0 124.0 L681.0 124.8 L681.0 125.5 L681.1 126.3 L681.1 127.0 L681.1 127.8 L681.2 128.5 L681.2 129.3 L681.2 130.0 L681.3 130.8 L681.3 131.5 L681.3 132.3 L681.4 133.0 L681.4 133.8 L681.4 134.5 L681.5 135.3 L681.5 136.0 L681.5 136.8 L681.6 137.5 L681.6 138.3 L681.6 139.0 L681.7 139.8 L681.7 140.5 L681.7 141.3 L681.8 142.0 L681.8 142.8 L681.8 143.5 L681.8 144.3 L681.9 145.0 L681.9 145.8 L681.9 146.5 L682.0 147.3 L682.0 148.0 L682.0 148.8 L682.0 149.5 L682.1 150.3 L682.1 151.0 L682.1 151.8 L682.1 152.5 L682.2 153.3 L682.2 154.0 L682.2 154.8 L682.2 155.5 L682.3 156.3 L682.3 157.0 L682.3 157.8 L682.3 158.5 L682.4 159.3 L682.4 160.0 L682.4 160.8 L682.5 161.5 L682.5 162.3 L682.5 163.0 L682.6 163.8 L682.6 164.5 L682.6 165.3 L682.6 166.0 L682.7 166.8 L682.7 167.5 L682.7 168.3 L682.8 169.0 L682.8 169.8 L682.8 170.5 L682.9 171.3 L682.9 172.0 L682.9 172.7 L683.0 173.5 L683.0 174.2 L683.0 175.0 L683.1 175.7 L683.1 176.5 L683.1 177.2 L683.2 178.0 L683.2 178.7 L683.2 179.5 L683.3 180.2 L683.3 181.0 L683.3 181.7 L683.4 182.5 L683.4 183.2 L683.4 184.0 L683.5 184.7 L683.5 185.5 L683.5 186.2 L683.6 187.0 L683.6 187.7 L683.6 188.5 L683.7 189.2 L683.7 190.0 L683.8 190.7 L683.8 191.5 L683.8 192.2 L683.9 193.0 L683.9 193.7 L684.0 194.5 L684.0 195.2 L684.0 196.0 L684.1 196.7 L684.1 197.5 L684.2 198.2 L684.2 199.0 L684.3 199.7 L684.3 200.5 L684.4 201.2 L684.4 202.0 L684.5 202.7 L684.5 203.5 L684.6 204.2 L684.7 205.0 L684.7 205.7 L684.8 206.4 L684.8 207.2 L684.9 207.9 L685.0 208.7 L685.0 209.4 L685.1 210.2 L685.2 210.9 L685.2 211.7 L685.3 212.4 L685.4 213.2 L685.4 213.9 L685.5 214.7 L685.6 215.4 L685.6 216.2 L685.7 216.9 L685.8 217.7 L685.8 218.4 L685.9 219.1 L686.0 219.9 L686.0 220.6 L686.1 221.4 L686.2 222.1 L686.2 222.9 L686.3 223.6 L686.4 224.4 L686.4 225.1 L686.5 225.9 L686.6 226.6 L686.6 227.4 L686.7 228.1 L686.8 228.9 L686.9 229.6 L687.0 230.3 L687.0 231.1 L687.1 231.8 L687.2 232.6 L687.3 233.3 L687.4 234.1 L687.5 234.8 L687.6 235.6 L687.7 236.3 L687.8 237.0 L687.9 237.8 L688.0 238.5 L688.1 239.3 L688.3 240.0 L688.4 240.7 L688.5 241.5 L688.6 242.2 L688.8 243.0 L688.9 243.7 L689.0 244.4 L689.2 245.2 L689.3 245.9 L689.5 246.6 L689.6 247.4 L689.8 248.1 L689.9 248.9 L690.1 249.6 L690.2 250.3 L690.4 251.0 L690.6 251.8 L690.7 252.5 L690.9 253.2 L691.1 254.0 L691.3 254.7 L691.6 255.4 L691.8 256.1 L692.0 256.8 L692.3 257.5 L692.6 258.2 L692.9 258.9 L693.2 259.6 L693.5 260.2 L693.9 260.9 L694.2 261.5 L694.6 262.1 L695.1 262.7 L695.5 263.3 L696.0 263.9 L696.5 264.5 L697.0 265.0 L697.5 265.5 L698.1 266.0 L698.6 266.5 L699.2 266.9 L699.8 267.3 L700.5 267.7 L701.1 268.1 L701.8 268.5 L702.4 268.8 L703.1 269.1 L703.8 269.4 L704.5 269.7 L705.2 269.9 L705.9 270.2 L706.6 270.4 L707.3 270.6 L708.0 270.8 L708.8 271.0 L709.5 271.1 L710.2 271.3 L711.0 271.4 L711.7 271.6 L712.4 271.7 L713.2 271.9 L713.9 272.0 L714.6 272.1 L715.4 272.2 L716.1 272.2 L716.9 272.3 L717.6 272.3 L718.4 272.4 L719.1 272.4 L719.9 272.4 L720.6 272.4 L721.4 272.4 L722.1 272.4 L722.9 272.4 L723.6 272.4 L724.4 272.4 L725.1 272.4 L725.9 272.4 L726.6 272.4 L727.4 272.4 L728.1 272.4 L728.9 272.4 L729.6 272.4 L730.4 272.4 L731.1 272.4 L731.9 272.4 L732.6 272.4 L733.4 272.4 L734.1 272.4 L734.9 272.4 L735.6 272.4 L736.4 272.4 L737.1 272.4 L737.9 272.4 L738.6 272.4 L739.4 272.4 L740.1 272.4 L740.9 272.4 L741.6 272.4 L742.4 272.4 L743.1 272.4 L743.9 272.4 L744.6 272.4 L745.4 272.4 L746.1 272.4 L746.9 272.4 L747.6 272.4 L748.4 272.4 L749.1 272.4 L749.9 272.4 L750.6 272.4 L751.4 272.4 L752.1 272.4 L752.9 272.4 L753.6 272.4 L754.4 272.4 L755.1 272.4 L755.9 272.4 L756.6 272.4 L757.4 272.4 L758.1 272.4 L758.9 272.4 L759.6 272.4 L760.4 272.4 L761.1 272.4 L761.8 272.3 L762.6 272.3 L763.3 272.2 L764.1 272.2 L764.8 272.1 L765.5 271.9 L766.2 271.8 L767.0 271.6 L767.7 271.4 L768.4 271.2 L769.1 270.9 L769.8 270.7 L770.5 270.4 L771.2 270.2 L771.9 270.0 L772.6 269.8 L773.3 269.6 L774.1 269.4 L774.8 269.3 L775.5 269.2 L776.2 269.1 L777.0 269.1 L777.7 269.1 L778.4 269.2 L779.2 269.3 L779.9 269.4 L780.6 269.5 L781.3 269.7 L782.0 269.9 L782.8 270.1 L783.5 270.3 L784.2 270.5 L784.9 270.8 L785.6 271.0 L786.3 271.2 L787.1 271.4 L787.8 271.6 L788.5 271.8 L789.2 271.9 L790.0 272.0 L790.7 272.1 L791.4 272.2 L792.2 272.3 L792.9 272.3 L793.7 272.4 L794.4 272.4 L795.2 272.4 L795.9 272.4 L796.7 272.4 L797.4 272.4 L798.2 272.4 L798.9 272.4 L799.7 272.4 L800.4 272.4 L801.2 272.4 L801.9 272.4 L802.7 272.4 L803.4 272.4 L804.2 272.4 L804.9 272.4 L805.7 272.4 L806.4 272.4 L807.2 272.4 L807.9 272.4 L808.7 272.4 L809.4 272.4 L810.2 272.4 L810.9 272.4 L811.7 272.4 L812.4 272.4 L813.2 272.4 L813.9 272.4 L814.7 272.4 L815.4 272.4 L816.2 272.4 L816.9 272.4 L817.7 272.4 L818.4 272.4 L819.2 272.4 L819.9 272.4 L820.7 272.4 L821.4 272.4 L822.2 272.4 L822.9 272.4 L823.7 272.4 L824.4 272.4 L825.2 272.4 L825.9 272.4 L826.7 272.4 L827.4 272.4 L828.2 272.4 L828.9 272.4 L829.7 272.4 L830.4 272.4 L831.2 272.4 L831.9 272.4 L832.7 272.4 L833.4 272.4 L834.2 272.4 L834.9 272.4 L835.7 272.4 L836.4 272.4 L837.2 272.4 L837.9 272.4 L838.7 272.4 L839.4 272.4 L840.2 272.4 L840.9 272.4 L841.7 272.4 L842.4 272.4 L843.2 272.4 L843.9 272.4 L844.7 272.4 L845.4 272.4 L846.2 272.4 L846.9 272.4 L847.7 272.4 L848.4 272.4 L849.2 272.4 L849.9 272.4 L850.7 272.4 L851.4 272.4 L852.2 272.4 L852.9 272.4 L853.7 272.4 L854.4 272.4 L855.2 272.4 L855.9 272.4 L856.7 272.4 L857.4 272.4 L858.2 272.4 L858.9 272.4 L859.7 272.4 L860.4 272.4 L861.2 272.4 L861.9 272.4 L862.7 272.4 L863.4 272.4 L864.2 272.4 L864.9 272.4 L865.7 272.4 L866.4 272.4 L867.2 272.4 L867.9 272.4 L868.7 272.4 L869.4 272.4 L870.2 272.4 L870.9 272.4 L871.7 272.4 L872.4 272.4 L873.2 272.4 L873.9 272.4 L874.7 272.4 L875.4 272.4 L876.2 272.4 L876.9 272.4 L877.7 272.4 L878.4 272.4 L879.2 272.4 L879.9 272.4 L880.7 272.4 L881.4 272.4 L882.2 272.4 L882.9 272.4 L883.7 272.4 L884.4 272.4 L885.2 272.4 L885.9 272.4 L886.7 272.4 L887.4 272.4 L888.2 272.4 L888.9 272.4 L889.7 272.4 L890.4 272.4 L891.2 272.4 L891.9 272.4 L892.7 272.4 L893.4 272.4 L894.2 272.4 L894.9 272.4 L895.7 272.4 L896.4 272.4 L897.2 272.4 L897.9 272.4 L898.7 272.4 L899.4 272.4 L900.2 272.4 L900.9 272.4 L901.7 272.4 L902.4 272.4 L903.2 272.4 L903.9 272.4 L904.7 272.4 L905.4 272.4 L906.2 272.4 L906.9 272.4 L907.7 272.4 L908.4 272.4 L909.2 272.4 L909.9 272.4 L910.7 272.4 L911.4 272.4 L912.2 272.4 L912.9 272.4 L913.7 272.4 L914.4 272.4 L915.2 272.4 L915.9 272.4 L916.7 272.4 L917.4 272.4 L918.2 272.4 L918.9 272.4 L919.7 272.4 L920.4 272.4 L921.2 272.4 L921.9 272.4 L922.7 272.4 L923.4 272.4 L924.2 272.4 L924.9 272.4 L925.7 272.4 L926.4 272.4 L927.2 272.4 L927.9 272.4 L928.7 272.4 L929.4 272.4 L930.2 272.4 L930.9 272.4 L931.7 272.4 L932.4 272.4 L933.2 272.4 L933.9 272.4 L934.7 272.4 L935.4 272.4 L936.2 272.4 L936.9 272.4 L937.7 272.4 L938.4 272.4 L939.2 272.4 L939.9 272.4 L940.7 272.4 L941.4 272.4 L942.1 272.4 L942.9 272.4 L943.6 272.4 L944.3 272.4 L945.0 272.4 L945.7 272.4 L946.4 272.4 L947.0 272.4 L947.5 272.4 L947.9 272.4 L949.5 272.4" fill="none" stroke="#d9f1f7" stroke-opacity="0.55" stroke-width="6" stroke-linejoin="round"/>
<path d="M114.7 272.62 L115.4 273.75 L116.1 273.20 L116.8 273.66 L117.5 274.06 L118.2 273.36 L118.9 273.30 L119.6 272.62 L120.3 272.93 L121.0 273.30 L121.7 273.59 L122.4 273.79 L123.1 273.11 L123.8 272.61 L124.5 272.96 L125.2 273.96 L125.9 272.84 L126.6 273.22 L127.3 273.99 L128.0 272.54 L128.7 273.46 L129.4 274.02 L130.1 272.87 L130.8 273.38 L131.5 273.95 L132.2 272.71 L132.9 273.34 L133.6 273.70 L134.3 273.57 L135.0 273.25 L135.7 272.83 L136.4 273.29 L137.1 273.10 L137.8 273.26 L138.5 273.09 L139.2 273.84 L139.9 273.73 L140.6 273.00 L141.3 273.42 L142.0 272.94 L142.7 273.22 L143.4 273.06 L144.1 273.55 L144.8 273.09 L145.5 273.23 L146.2 273.65 L146.9 273.16 L147.6 273.95 L148.3 272.79 L149.0 273.69 L149.7 273.18 L150.4 273.18 L151.1 273.52 L151.8 273.34 L152.5 273.16 L153.2 272.50 L153.9 272.65 L154.6 273.64 L155.3 273.34 L156.0 273.61 L156.7 274.03 L157.4 273.59 L158.1 272.59 L158.8 272.99 L159.5 273.45 L160.2 272.88 L160.9 274.04 L161.6 274.01 L162.3 273.86 L163.0 273.26 L163.7 273.85 L164.4 272.71 L165.1 272.99 L165.8 273.24 L166.5 273.69 L167.2 273.28 L167.9 272.72 L168.6 273.05 L169.3 273.02 L170.0 272.98 L170.7 272.76 L171.4 273.16 L172.1 273.22 L172.8 273.74 L173.5 273.77 L174.2 273.34 L174.9 273.24 L175.6 273.75 L176.3 273.92 L177.0 273.58 L177.7 273.78 L178.4 274.00 L179.1 272.57 L179.8 273.90 L180.5 272.94 L181.2 273.26 L181.9 273.77 L182.6 273.65 L183.3 272.74 L184.0 273.55 L184.7 272.61 L185.4 273.07 L186.1 273.80 L186.8 273.18 L187.5 273.46 L188.2 273.67 L188.9 273.81 L189.6 273.72 L190.3 272.51 L191.0 273.17 L191.7 273.24 L192.4 272.59 L193.1 273.37 L193.8 273.47 L194.5 273.83 L195.2 274.01 L195.9 272.71 L196.6 272.87 L197.3 273.55 L198.0 272.71 L198.7 272.86 L199.4 273.42 L200.1 272.77 L200.8 273.75 L201.5 273.87 L202.2 272.55 L202.9 273.35 L203.6 273.78 L204.3 274.06 L205.0 272.94 L205.7 272.77 L206.4 273.90 L207.1 273.95 L207.8 272.82 L208.5 273.21 L209.2 273.65 L209.9 273.85 L210.6 272.77 L211.3 273.56 L212.0 273.79 L212.7 273.38 L213.4 272.76 L214.1 272.56 L214.8 272.95 L215.5 273.79 L216.2 272.57 L216.9 272.51 L217.6 273.08 L218.3 272.60 L219.0 272.74 L219.7 272.54 L220.4 273.34 L221.1 273.61 L221.8 273.18 L222.5 272.72 L223.2 273.03 L223.9 273.44 L224.6 274.01 L225.3 274.09 L226.0 272.89 L226.7 272.52 L227.4 273.83 L228.1 273.98 L228.8 273.23 L229.5 273.73 L230.2 273.89 L230.9 273.48 L231.6 273.90 L232.3 272.54 L233.0 272.93 L233.7 272.94 L234.4 272.69 L235.1 273.96 L235.8 272.55 L236.5 273.58 L237.2 272.61 L237.9 273.08 L238.6 273.17 L239.3 272.79 L240.0 273.33 L240.7 273.36 L241.4 273.01 L242.1 273.68 L242.8 272.76 L243.5 272.81 L244.2 273.07 L244.9 273.11 L245.6 272.83 L246.3 273.97 L247.0 273.82 L247.7 272.67 L248.4 273.09 L249.1 272.87 L249.8 273.22 L250.5 272.94 L251.2 273.30 L251.9 273.98 L252.6 273.11 L253.3 273.54 L254.0 273.45 L254.7 273.70 L255.4 272.60 L256.1 273.69 L256.8 274.01 L257.5 273.47 L258.2 272.96 L258.9 273.58 L259.6 273.64 L260.3 273.55 L261.0 272.74 L261.7 274.06 L262.4 274.03 L263.1 273.18 L263.8 273.45 L264.5 272.56 L265.2 274.08 L265.9 273.81 L266.6 273.52 L267.3 273.72 L268.0 272.80 L268.7 272.99 L269.4 272.89 L270.1 273.45 L270.8 272.65 L271.5 273.93 L272.2 273.24 L272.9 273.21 L273.6 272.67 L274.3 273.60 L275.0 273.81 L275.7 273.51 L276.4 272.89 L277.1 273.76 L277.8 272.73 L278.5 273.82 L279.2 273.43 L279.9 272.96 L280.6 273.32 L281.3 273.51 L282.0 272.91 L282.7 273.86 L283.4 273.17 L284.1 273.93 L284.8 273.84 L285.5 272.66 L286.2 273.53 L286.9 273.00 L287.6 273.71 L288.3 273.37 L289.0 273.23 L289.7 273.93 L290.4 272.59 L291.1 273.39 L291.8 273.02 L292.5 272.56 L293.2 273.71 L293.9 273.40 L294.6 273.93 L295.3 273.46 L296.0 273.04 L296.7 274.08 L297.4 272.69 L298.1 272.58 L298.8 273.67 L299.5 273.09 L300.2 273.08 L300.9 273.90 L301.6 273.02 L302.3 273.92 L303.0 273.53 L303.7 273.03 L304.4 272.60 L305.1 272.89 L305.8 274.05 L306.5 273.15 L307.2 272.76 L307.9 272.98 L308.6 273.94 L309.3 272.76 L310.0 273.74 L310.7 272.72 L311.4 274.04 L312.1 273.35 L312.8 272.57 L313.5 273.99 L314.2 273.07 L314.9 273.67 L315.6 273.34 L316.3 272.65 L317.0 272.67 L317.7 272.74 L318.4 272.76 L319.1 272.58 L319.8 272.58 L320.5 274.02 L321.2 272.65 L321.9 273.31 L322.6 272.69 L323.3 272.84 L324.0 273.72 L324.7 274.00 L325.4 273.25 L326.1 272.51 L326.8 274.10 L327.5 272.58 L328.2 273.12 L328.9 273.36 L329.6 273.93 L330.3 273.82 L331.0 273.48 L331.7 273.14 L332.4 273.84 L333.1 273.89 L333.8 273.90 L334.5 273.65 L335.2 272.66 L335.9 272.98 L336.6 273.28 L337.3 273.31 L338.0 273.83 L338.7 272.88 L339.4 273.56 L340.1 273.10 L340.8 273.74 L341.5 272.81 L342.2 273.26 L342.9 272.67 L343.6 272.84 L344.3 274.00 L345.0 273.01 L345.7 273.93 L346.4 273.34 L347.1 272.56 L347.8 273.77 L348.5 272.58 L349.2 273.82 L349.9 272.51 L350.6 273.58 L351.3 272.77 L352.0 273.05 L352.7 274.02 L353.4 273.28 L354.1 273.55 L354.8 273.69 L355.5 272.68" fill="none" stroke="#2f6474" stroke-width="1.5" stroke-linejoin="round"/>
<path d="M114.7 272.3 L115.9 272.3 L116.3 272.3 L116.8 272.3 L117.3 272.3 L117.9 272.3 L118.6 272.3 L119.3 272.3 L120.0 272.3 L120.7 272.3 L121.5 272.3 L122.2 272.3 L123.0 272.3 L123.7 272.3 L124.5 272.3 L125.2 272.3 L126.0 272.3 L126.7 272.3 L127.4 272.3 L128.2 272.3 L128.9 272.3 L129.7 272.3 L130.5 272.3 L131.2 272.3 L131.9 272.3 L132.7 272.3 L133.5 272.3 L134.2 272.3 L134.9 272.3 L135.7 272.3 L136.5 272.3 L137.2 272.3 L137.9 272.3 L138.7 272.3 L139.4 272.3 L140.2 272.3 L140.9 272.3 L141.7 272.3 L142.4 272.3 L143.2 272.3 L143.9 272.3 L144.7 272.3 L145.4 272.3 L146.2 272.3 L146.9 272.3 L147.7 272.3 L148.4 272.3 L149.2 272.3 L150.0 272.3 L150.7 272.3 L151.4 272.3 L152.2 272.3 L152.9 272.3 L153.7 272.3 L154.5 272.3 L155.2 272.3 L155.9 272.3 L156.7 272.3 L157.4 272.3 L158.2 272.3 L158.9 272.3 L159.7 272.3 L160.4 272.3 L161.2 272.3 L161.9 272.3 L162.7 272.3 L163.5 272.3 L164.2 272.3 L165.0 272.3 L165.7 272.3 L166.4 272.3 L167.2 272.3 L168.0 272.3 L168.7 272.3 L169.4 272.3 L170.2 272.3 L170.9 272.3 L171.7 272.3 L172.4 272.3 L173.2 272.3 L173.9 272.3 L174.7 272.3 L175.5 272.3 L176.2 272.3 L176.9 272.3 L177.7 272.3 L178.4 272.3 L179.2 272.3 L179.9 272.3 L180.7 272.3 L181.5 272.3 L182.2 272.3 L182.9 272.3 L183.7 272.3 L184.5 272.3 L185.2 272.3 L186.0 272.3 L186.7 272.3 L187.4 272.3 L188.2 272.3 L188.9 272.3 L189.7 272.3 L190.4 272.3 L191.2 272.3 L192.0 272.3 L192.7 272.3 L193.4 272.3 L194.2 272.3 L195.0 272.3 L195.7 272.3 L196.4 272.3 L197.2 272.3 L197.9 272.3 L198.7 272.3 L199.4 272.3 L200.2 272.3 L200.9 272.3 L201.7 272.3 L202.5 272.3 L203.2 272.3 L204.0 272.3 L204.7 272.3 L205.5 272.3 L206.2 272.3 L207.0 272.3 L207.7 272.3 L208.4 272.3 L209.2 272.3 L209.9 272.3 L210.7 272.3 L211.4 272.3 L212.2 272.3 L213.0 272.3 L213.7 272.3 L214.5 272.3 L215.2 272.3 L216.0 272.3 L216.7 272.3 L217.4 272.3 L218.2 272.3 L218.9 272.3 L219.7 272.3 L220.5 272.3 L221.2 272.3 L221.9 272.3 L222.7 272.3 L223.4 272.3 L224.2 272.3 L225.0 272.3 L225.7 272.3 L226.4 272.3 L227.2 272.3 L228.0 272.3 L228.7 272.3 L229.4 272.3 L230.2 272.3 L230.9 272.3 L231.7 272.3 L232.5 272.3 L233.2 272.3 L233.9 272.3 L234.7 272.3 L235.4 272.3 L236.2 272.3 L236.9 272.3 L237.7 272.3 L238.5 272.3 L239.2 272.3 L240.0 272.3 L240.7 272.3 L241.4 272.3 L242.2 272.3 L242.9 272.3 L243.7 272.3 L244.5 272.3 L245.2 272.3 L246.0 272.3 L246.7 272.3 L247.5 272.3 L248.2 272.3 L248.9 272.3 L249.7 272.3 L250.5 272.3 L251.2 272.3 L251.9 272.3 L252.7 272.3 L253.4 272.3 L254.2 272.3 L254.9 272.3 L255.7 272.3 L256.4 272.3 L257.2 272.3 L257.9 272.3 L258.7 272.3 L259.4 272.3 L260.2 272.3 L261.0 272.3 L261.7 272.3 L262.4 272.3 L263.2 272.3 L263.9 272.3 L264.7 272.3 L265.5 272.3 L266.2 272.3 L267.0 272.3 L267.7 272.3 L268.4 272.3 L269.2 272.3 L269.9 272.3 L270.7 272.3 L271.4 272.3 L272.2 272.3 L273.0 272.3 L273.7 272.3 L274.4 272.3 L275.2 272.3 L276.0 272.3 L276.7 272.3 L277.4 272.3 L278.2 272.3 L278.9 272.3 L279.7 272.3 L280.4 272.3 L281.2 272.3 L281.9 272.3 L282.7 272.3 L283.4 272.3 L284.2 272.3 L284.9 272.3 L285.7 272.3 L286.5 272.3 L287.2 272.3 L287.9 272.3 L288.7 272.3 L289.4 272.3 L290.2 272.3 L291.0 272.3 L291.7 272.3 L292.4 272.3 L293.2 272.3 L294.0 272.3 L294.7 272.3 L295.5 272.3 L296.2 272.3 L296.9 272.3 L297.7 272.3 L298.4 272.3 L299.2 272.3 L299.9 272.3 L300.7 272.3 L301.4 272.3 L302.2 272.3 L302.9 272.3 L303.7 272.3 L304.5 272.3 L305.2 272.3 L305.9 272.3 L306.7 272.3 L307.5 272.3 L308.2 272.3 L309.0 272.3 L309.7 272.3 L310.4 272.3 L311.2 272.3 L312.0 272.3 L312.7 272.3 L313.4 272.3 L314.2 272.3 L314.9 272.3 L315.7 272.3 L316.5 272.3 L317.2 272.3 L317.9 272.3 L318.7 272.3 L319.4 272.3 L320.2 272.3 L320.9 272.3 L321.7 272.3 L322.4 272.3 L323.2 272.3 L323.9 272.3 L324.7 272.3 L325.5 272.3 L326.2 272.3 L326.9 272.3 L327.7 272.3 L328.5 272.3 L329.2 272.3 L330.0 272.3 L330.7 272.3 L331.4 272.3 L332.2 272.3 L332.9 272.3 L333.7 272.3 L334.4 272.3 L335.2 272.3 L336.0 272.3 L336.7 272.3 L337.4 272.3 L338.2 272.3 L339.0 272.3 L339.7 272.3 L340.4 272.3 L341.2 272.3 L341.9 272.3 L342.7 272.3 L343.4 272.3 L344.2 272.3 L344.9 272.3 L345.7 272.3 L346.4 272.3 L347.2 272.3 L347.9 272.3 L348.7 272.3 L349.4 272.3 L350.2 272.3 L350.9 272.3 L351.7 272.3 L352.4 272.3 L353.2 272.3 L353.9 272.3 L354.7 272.3 L355.4 272.3 L356.2 272.3 L356.9 272.3 L357.7 272.3 L358.4 272.3 L359.2 272.3 L359.9 272.3 L360.7 272.3 L361.4 272.3 L362.2 272.3 L362.9 272.3 L363.7 272.3 L364.4 272.3 L365.2 272.3 L365.9 272.3 L366.7 272.3 L367.4 272.3 L368.2 272.2 L368.9 272.2 L369.7 272.2 L370.4 272.2 L371.2 272.2 L371.9 272.2 L372.6 272.0 L373.1 271.6 L373.4 270.9 L373.6 270.2 L373.8 269.5 L374.0 268.8 L374.1 268.0 L374.2 267.3 L374.3 266.6 L374.4 265.8 L374.5 265.1 L374.6 264.3 L374.6 263.6 L374.7 262.8 L374.7 262.1 L374.8 261.3 L374.8 260.6 L374.9 259.8 L374.9 259.1 L375.0 258.3 L375.0 257.6 L375.0 256.9 L375.1 256.1 L375.1 255.4 L375.2 254.6 L375.2 253.9 L375.3 253.1 L375.3 252.4 L375.3 251.6 L375.4 250.9 L375.4 250.1 L375.5 249.4 L375.5 248.6 L375.6 247.9 L375.6 247.1 L375.7 246.4 L375.7 245.6 L375.8 244.9 L375.8 244.1 L375.9 243.4 L375.9 242.6 L376.0 241.9 L376.0 241.1 L376.0 240.4 L376.1 239.6 L376.1 238.9 L376.2 238.1 L376.2 237.4 L376.3 236.6 L376.3 235.9 L376.4 235.1 L376.4 234.4 L376.5 233.6 L376.5 232.9 L376.5 232.1 L376.6 231.4 L376.6 230.6 L376.7 229.9 L376.7 229.1 L376.7 228.4 L376.8 227.7 L376.8 226.9 L376.9 226.2 L376.9 225.4 L376.9 224.7 L377.0 223.9 L377.0 223.2 L377.0 222.4 L377.1 221.7 L377.1 220.9 L377.1 220.2 L377.2 219.4 L377.2 218.7 L377.2 217.9 L377.2 217.2 L377.3 216.4 L377.3 215.7 L377.3 214.9 L377.4 214.2 L377.4 213.4 L377.4 212.7 L377.4 211.9 L377.5 211.2 L377.5 210.4 L377.5 209.7 L377.5 208.9 L377.6 208.2 L377.6 207.4 L377.6 206.7 L377.6 205.9 L377.7 205.2 L377.7 204.4 L377.7 203.7 L377.7 202.9 L377.8 202.2 L377.8 201.4 L377.8 200.7 L377.8 199.9 L377.8 199.2 L377.9 198.4 L377.9 197.7 L377.9 196.9 L377.9 196.2 L377.9 195.4 L378.0 194.7 L378.0 193.9 L378.0 193.2 L378.0 192.4 L378.0 191.7 L378.0 190.9 L378.1 190.2 L378.1 189.4 L378.1 188.7 L378.1 187.9 L378.1 187.2 L378.1 186.4 L378.2 185.7 L378.2 184.9 L378.2 184.2 L378.2 183.4 L378.2 182.7 L378.2 181.9 L378.2 181.2 L378.3 180.4 L378.3 179.7 L378.3 178.9 L378.3 178.2 L378.3 177.4 L378.3 176.7 L378.3 175.9 L378.4 175.2 L378.4 174.4 L378.4 173.7 L378.4 172.9 L378.4 172.2 L378.4 171.4 L378.4 170.7 L378.4 169.9 L378.5 169.2 L378.5 168.4 L378.5 167.7 L378.5 166.9 L378.5 166.2 L378.5 165.4 L378.5 164.7 L378.5 163.9 L378.6 163.2 L378.6 162.4 L378.6 161.7 L378.6 160.9 L378.6 160.2 L378.6 159.4 L378.6 158.7 L378.6 157.9 L378.6 157.2 L378.6 156.4 L378.6 155.7 L378.7 154.9 L378.7 154.2 L378.7 153.4 L378.7 152.7 L378.7 151.9 L378.7 151.2 L378.7 150.4 L378.7 149.7 L378.7 148.9 L378.7 148.2 L378.7 147.4 L378.7 146.7 L378.7 145.9 L378.7 145.2 L378.7 144.4 L378.7 143.7 L378.7 142.9 L378.8 142.2 L378.8 141.4 L378.8 140.7 L378.8 139.9 L378.8 139.2 L378.8 138.4 L378.8 137.7 L378.8 136.9 L378.8 136.2 L378.8 135.4 L378.8 134.7 L378.8 133.9 L378.8 133.2 L378.8 132.4 L378.8 131.7 L378.8 130.9 L378.8 130.2 L378.8 129.4 L378.8 128.7 L378.8 127.9 L378.9 127.2 L378.9 126.4 L378.9 125.7 L378.9 124.9 L378.9 124.2 L378.9 123.4 L378.9 122.7 L378.9 121.9 L378.9 121.2 L378.9 120.4 L378.9 119.7 L378.9 118.9 L378.9 118.2 L378.9 117.4 L378.9 116.7 L378.9 115.9 L379.0 115.2 L379.0 114.4 L379.0 113.7 L379.0 112.9 L379.0 112.2 L379.0 111.4 L379.0 110.7 L379.0 109.9 L379.0 109.2 L379.1 108.4 L379.1 107.7 L379.1 106.9 L379.1 106.2 L379.1 105.4 L379.1 104.7 L379.2 103.9 L379.2 103.2 L379.2 102.4 L379.2 101.7 L379.2 100.9 L379.2 100.2 L379.3 99.4 L379.3 98.7 L379.3 97.9 L379.3 97.2 L379.3 96.4 L379.4 95.7 L379.4 94.9 L379.4 94.2 L379.4 93.4 L379.5 92.7 L379.5 91.9 L379.5 91.2 L379.5 90.4 L379.6 89.7 L379.6 88.9 L379.6 88.2 L379.7 87.4 L379.7 86.7 L379.8 85.9 L379.8 85.2 L379.8 84.4 L379.9 83.7 L379.9 82.9 L380.0 82.2 L380.0 81.5 L380.1 80.7 L380.1 80.0 L380.2 79.2 L380.2 78.5 L380.3 77.7 L380.3 77.0 L380.4 76.2 L380.5 75.5 L380.5 74.8 L380.6 74.0 L380.7 73.3 L380.9 72.7 L381.1 72.6 L381.2 73.0 L381.4 73.7 L381.4 74.4 L381.5 75.2 L381.6 75.9 L381.7 76.6 L381.7 77.4 L381.8 78.1 L381.8 78.9 L381.9 79.6 L382.0 80.4 L382.0 81.1 L382.1 81.9 L382.1 82.6 L382.2 83.4 L382.2 84.1 L382.3 84.8 L382.3 85.6 L382.4 86.3 L382.4 87.1 L382.5 87.8 L382.6 88.6 L382.6 89.3 L382.6 90.1 L382.7 90.8 L382.7 91.6 L382.8 92.3 L382.8 93.1 L382.9 93.8 L382.9 94.6 L383.0 95.3 L383.0 96.1 L383.1 96.8 L383.1 97.6 L383.1 98.3 L383.2 99.1 L383.2 99.8 L383.3 100.6 L383.3 101.3 L383.3 102.1 L383.4 102.8 L383.4 103.6 L383.4 104.3 L383.5 105.1 L383.5 105.8 L383.6 106.6 L383.6 107.3 L383.6 108.1 L383.7 108.8 L383.7 109.6 L383.7 110.3 L383.8 111.1 L383.8 111.8 L383.8 112.6 L383.9 113.3 L383.9 114.1 L383.9 114.8 L384.0 115.6 L384.0 116.3 L384.0 117.0 L384.1 117.8 L384.1 118.5 L384.1 119.3 L384.2 120.0 L384.2 120.8 L384.2 121.5 L384.2 122.3 L384.3 123.0 L384.3 123.8 L384.3 124.5 L384.3 125.3 L384.4 126.0 L384.4 126.8 L384.4 127.5 L384.4 128.3 L384.5 129.0 L384.5 129.8 L384.5 130.5 L384.5 131.3 L384.6 132.0 L384.6 132.8 L384.6 133.5 L384.7 134.3 L384.7 135.0 L384.7 135.8 L384.7 136.5 L384.8 137.3 L384.8 138.0 L384.8 138.8 L384.8 139.5 L384.9 140.3 L384.9 141.0 L384.9 141.8 L384.9 142.5 L385.0 143.3 L385.0 144.0 L385.0 144.8 L385.0 145.5 L385.1 146.3 L385.1 147.0 L385.1 147.8 L385.2 148.5 L385.2 149.3 L385.2 150.0 L385.2 150.8 L385.3 151.5 L385.3 152.3 L385.3 153.0 L385.4 153.8 L385.4 154.5 L385.4 155.3 L385.5 156.0 L385.5 156.8 L385.6 157.5 L385.6 158.3 L385.7 159.0 L385.7 159.8 L385.8 160.5 L385.8 161.3 L385.9 162.0 L385.9 162.8 L386.0 163.5 L386.1 164.3 L386.1 165.0 L386.2 165.7 L386.3 166.5 L386.3 167.2 L386.4 168.0 L386.5 168.7 L386.6 169.5 L386.7 170.2 L386.7 171.0 L386.8 171.7 L386.9 172.5 L387.0 173.2 L387.1 173.9 L387.2 174.7 L387.2 175.4 L387.3 176.2 L387.4 176.9 L387.5 177.7 L387.6 178.4 L387.6 179.2 L387.7 179.9 L387.8 180.7 L387.9 181.4 L387.9 182.2 L388.0 182.9 L388.1 183.6 L388.1 184.4 L388.2 185.1 L388.3 185.9 L388.4 186.6 L388.4 187.4 L388.5 188.1 L388.6 188.9 L388.6 189.6 L388.7 190.4 L388.8 191.1 L388.9 191.9 L388.9 192.6 L389.0 193.4 L389.1 194.1 L389.2 194.8 L389.2 195.6 L389.3 196.3 L389.4 197.1 L389.5 197.8 L389.6 198.6 L389.6 199.3 L389.7 200.1 L389.8 200.8 L389.9 201.6 L390.0 202.3 L390.1 203.0 L390.2 203.8 L390.3 204.5 L390.4 205.3 L390.4 206.0 L390.5 206.8 L390.6 207.5 L390.7 208.3 L390.8 209.0 L390.9 209.7 L391.0 210.5 L391.1 211.2 L391.2 212.0 L391.3 212.7 L391.5 213.4 L391.6 214.2 L391.7 214.9 L391.8 215.7 L391.9 216.4 L392.0 217.2 L392.2 217.9 L392.3 218.6 L392.4 219.4 L392.5 220.1 L392.7 220.8 L392.8 221.6 L392.9 222.3 L393.1 223.1 L393.2 223.8 L393.4 224.5 L393.5 225.3 L393.6 226.0 L393.8 226.7 L393.9 227.5 L394.1 228.2 L394.3 228.9 L394.4 229.7 L394.6 230.4 L394.8 231.1 L395.0 231.9 L395.2 232.6 L395.4 233.3 L395.6 234.0 L395.8 234.7 L396.0 235.5 L396.2 236.2 L396.5 236.9 L396.7 237.6 L397.0 238.3 L397.3 239.0 L397.5 239.7 L397.8 240.4 L398.1 241.1 L398.4 241.7 L398.8 242.4 L399.1 243.1 L399.4 243.8 L399.8 244.4 L400.1 245.1 L400.5 245.7 L400.9 246.4 L401.3 247.0 L401.7 247.6 L402.1 248.2 L402.5 248.8 L403.0 249.4 L403.5 250.0 L404.0 250.5 L404.6 251.0 L405.1 251.5 L405.7 251.9 L406.3 252.4 L406.9 252.8 L407.5 253.2 L408.2 253.5 L408.8 253.9 L409.5 254.2 L410.2 254.5 L410.8 254.8 L411.5 255.1 L412.2 255.3 L412.9 255.5 L413.6 255.7 L414.2 255.8 L414.9 255.8 L415.5 255.7 L416.2 255.6 L416.7 255.4 L417.3 255.1 L417.8 254.7 L418.3 254.2 L418.7 253.7 L419.1 253.1 L419.5 252.5 L419.8 251.8 L420.1 251.2 L420.3 250.5 L420.6 249.8 L420.8 249.1 L420.9 248.3 L421.1 247.6 L421.2 246.9 L421.4 246.1 L421.5 245.4 L421.6 244.7 L421.7 243.9 L421.9 243.2 L422.0 242.4 L422.1 241.7 L422.2 241.0 L422.3 240.2 L422.4 239.5 L422.5 238.7 L422.6 238.0 L422.7 237.2 L422.8 236.5 L422.9 235.7 L423.0 235.0 L423.1 234.3 L423.2 233.5 L423.3 232.8 L423.4 232.0 L423.5 231.3 L423.6 230.5 L423.7 229.8 L423.8 229.1 L423.9 228.3 L424.0 227.6 L424.1 226.8 L424.2 226.1 L424.3 225.3 L424.4 224.6 L424.4 223.9 L424.5 223.1 L424.6 222.4 L424.7 221.6 L424.8 220.9 L424.9 220.1 L424.9 219.4 L425.0 218.6 L425.1 217.9 L425.2 217.1 L425.2 216.4 L425.3 215.6 L425.4 214.9 L425.4 214.2 L425.5 213.4 L425.5 212.7 L425.6 211.9 L425.7 211.2 L425.7 210.4 L425.8 209.7 L425.8 208.9 L425.9 208.2 L425.9 207.4 L426.0 206.7 L426.0 205.9 L426.1 205.2 L426.1 204.4 L426.2 203.7 L426.2 202.9 L426.3 202.2 L426.3 201.4 L426.4 200.7 L426.4 199.9 L426.5 199.2 L426.5 198.4 L426.6 197.7 L426.6 196.9 L426.7 196.2 L426.7 195.4 L426.8 194.7 L426.8 194.0 L426.9 193.2 L426.9 192.5 L427.0 191.7 L427.0 191.0 L427.1 190.2 L427.1 189.5 L427.2 188.7 L427.2 188.0 L427.3 187.2 L427.3 186.5 L427.4 185.7 L427.4 185.0 L427.5 184.2 L427.5 183.5 L427.6 182.7 L427.6 182.0 L427.6 181.2 L427.7 180.5 L427.7 179.7 L427.8 179.0 L427.8 178.2 L427.9 177.5 L427.9 176.7 L427.9 176.0 L428.0 175.2 L428.0 174.5 L428.0 173.7 L428.1 173.0 L428.1 172.2 L428.2 171.5 L428.2 170.7 L428.2 170.0 L428.3 169.2 L428.3 168.5 L428.3 167.7 L428.4 167.0 L428.4 166.2 L428.4 165.5 L428.5 164.7 L428.5 164.0 L428.5 163.2 L428.6 162.5 L428.6 161.8 L428.7 161.0 L428.7 160.3 L428.7 159.5 L428.8 158.8 L428.8 158.0 L428.8 157.3 L428.9 156.5 L428.9 155.8 L429.0 155.0 L429.0 154.3 L429.0 153.5 L429.1 152.8 L429.1 152.0 L429.2 151.3 L429.2 150.5 L429.2 149.8 L429.3 149.0 L429.3 148.3 L429.4 147.5 L429.4 146.8 L429.5 146.0 L429.5 145.3 L429.6 144.5 L429.6 143.8 L429.7 143.0 L429.8 142.3 L429.8 141.5 L429.9 140.8 L430.0 140.0 L430.0 139.3 L430.1 138.6 L430.2 137.8 L430.2 137.1 L430.3 136.3 L430.4 135.6 L430.5 134.8 L430.5 134.1 L430.6 133.3 L430.7 132.6 L430.8 131.8 L430.8 131.1 L430.9 130.3 L431.0 129.6 L431.0 128.8 L431.1 128.1 L431.1 127.4 L431.2 126.6 L431.3 125.9 L431.3 125.1 L431.4 124.4 L431.4 123.6 L431.5 122.9 L431.6 122.1 L431.6 121.4 L431.7 120.6 L431.8 119.9 L431.8 119.1 L431.9 118.4 L432.0 117.6 L432.0 116.9 L432.1 116.1 L432.2 115.4 L432.3 114.7 L432.3 113.9 L432.4 113.2 L432.5 112.4 L432.6 111.7 L432.7 110.9 L432.8 110.2 L432.9 109.4 L433.0 108.7 L433.1 108.0 L433.2 107.2 L433.3 106.5 L433.4 105.7 L433.5 105.0 L433.6 104.2 L433.7 103.5 L433.8 102.8 L434.0 102.0 L434.1 101.3 L434.2 100.5 L434.3 99.8 L434.5 99.1 L434.6 98.3 L434.7 97.6 L434.9 96.9 L435.0 96.1 L435.2 95.4 L435.4 94.7 L435.5 94.0 L435.7 93.2 L435.9 92.5 L436.1 91.9 L436.4 91.7 L436.7 92.1 L437.0 92.7 L437.1 93.4 L437.3 94.1 L437.5 94.9 L437.7 95.6 L437.8 96.3 L438.0 97.1 L438.1 97.8 L438.2 98.5 L438.4 99.3 L438.5 100.0 L438.6 100.7 L438.7 101.5 L438.8 102.2 L438.9 103.0 L439.0 103.7 L439.1 104.4 L439.2 105.2 L439.3 105.9 L439.4 106.7 L439.5 107.4 L439.6 108.2 L439.7 108.9 L439.8 109.7 L439.8 110.4 L439.9 111.1 L440.0 111.9 L440.1 112.6 L440.2 113.4 L440.3 114.1 L440.4 114.9 L440.5 115.6 L440.6 116.4 L440.6 117.1 L440.7 117.8 L440.8 118.6 L440.9 119.3 L441.0 120.1 L441.1 120.8 L441.2 121.6 L441.3 122.3 L441.4 123.1 L441.5 123.8 L441.6 124.5 L441.6 125.3 L441.7 126.0 L441.8 126.8 L441.9 127.5 L442.0 128.3 L442.1 129.0 L442.2 129.8 L442.3 130.5 L442.4 131.3 L442.5 132.0 L442.5 132.7 L442.6 133.5 L442.7 134.2 L442.8 135.0 L442.9 135.7 L443.0 136.5 L443.1 137.2 L443.1 138.0 L443.2 138.7 L443.3 139.4 L443.4 140.2 L443.5 140.9 L443.5 141.7 L443.6 142.4 L443.7 143.2 L443.8 143.9 L443.9 144.7 L443.9 145.4 L444.0 146.2 L444.1 146.9 L444.2 147.7 L444.2 148.4 L444.3 149.1 L444.4 149.9 L444.4 150.6 L444.5 151.4 L444.6 152.1 L444.7 152.9 L444.7 153.6 L444.8 154.4 L444.9 155.1 L444.9 155.9 L445.0 156.6 L445.1 157.4 L445.1 158.1 L445.2 158.9 L445.3 159.6 L445.3 160.3 L445.4 161.1 L445.4 161.8 L445.5 162.6 L445.6 163.3 L445.6 164.1 L445.7 164.8 L445.8 165.6 L445.8 166.3 L445.9 167.1 L445.9 167.8 L446.0 168.6 L446.0 169.3 L446.1 170.1 L446.2 170.8 L446.2 171.6 L446.3 172.3 L446.3 173.1 L446.4 173.8 L446.5 174.6 L446.5 175.3 L446.6 176.0 L446.7 176.8 L446.7 177.5 L446.8 178.3 L446.8 179.0 L446.9 179.8 L447.0 180.5 L447.1 181.3 L447.1 182.0 L447.2 182.8 L447.3 183.5 L447.3 184.3 L447.4 185.0 L447.5 185.8 L447.6 186.5 L447.6 187.2 L447.7 188.0 L447.8 188.7 L447.9 189.5 L448.0 190.2 L448.0 191.0 L448.1 191.7 L448.2 192.5 L448.3 193.2 L448.3 194.0 L448.4 194.7 L448.5 195.5 L448.6 196.2 L448.7 196.9 L448.8 197.7 L448.8 198.4 L448.9 199.2 L449.0 199.9 L449.1 200.7 L449.2 201.4 L449.2 202.2 L449.3 202.9 L449.4 203.7 L449.5 204.4 L449.6 205.1 L449.7 205.9 L449.8 206.6 L449.8 207.4 L449.9 208.1 L450.0 208.9 L450.1 209.6 L450.2 210.4 L450.3 211.1 L450.4 211.8 L450.5 212.6 L450.6 213.3 L450.7 214.1 L450.8 214.8 L450.9 215.6 L451.0 216.3 L451.1 217.0 L451.2 217.8 L451.3 218.5 L451.4 219.3 L451.5 220.0 L451.6 220.8 L451.8 221.5 L451.9 222.2 L452.0 223.0 L452.1 223.7 L452.2 224.5 L452.4 225.2 L452.5 225.9 L452.6 226.7 L452.7 227.4 L452.9 228.2 L453.0 228.9 L453.2 229.6 L453.3 230.4 L453.5 231.1 L453.6 231.8 L453.8 232.6 L454.0 233.3 L454.2 234.0 L454.4 234.7 L454.6 235.4 L454.8 236.2 L455.0 236.9 L455.3 237.6 L455.5 238.3 L455.8 239.0 L456.0 239.7 L456.3 240.4 L456.6 241.1 L456.9 241.8 L457.2 242.5 L457.5 243.2 L457.8 243.8 L458.1 244.5 L458.4 245.2 L458.7 245.9 L459.0 246.5 L459.4 247.2 L459.7 247.8 L460.1 248.4 L460.4 249.0 L460.8 249.4 L461.2 249.8 L461.7 250.1 L462.1 250.3 L462.5 250.4 L462.9 250.3 L463.3 250.1 L463.7 249.8 L464.0 249.3 L464.3 248.8 L464.6 248.2 L464.9 247.6 L465.1 246.9 L465.3 246.2 L465.5 245.5 L465.7 244.8 L465.9 244.1 L466.0 243.3 L466.1 242.6 L466.3 241.9 L466.4 241.1 L466.5 240.4 L466.6 239.6 L466.7 238.9 L466.8 238.1 L466.8 237.4 L466.9 236.7 L467.0 235.9 L467.1 235.2 L467.1 234.4 L467.2 233.7 L467.3 232.9 L467.3 232.2 L467.4 231.4 L467.5 230.7 L467.5 229.9 L467.6 229.2 L467.7 228.4 L467.8 227.7 L467.8 226.9 L467.9 226.2 L468.0 225.5 L468.0 224.7 L468.1 224.0 L468.2 223.2 L468.2 222.5 L468.3 221.7 L468.4 221.0 L468.4 220.2 L468.5 219.5 L468.5 218.7 L468.6 218.0 L468.7 217.2 L468.7 216.5 L468.8 215.7 L468.9 215.0 L468.9 214.2 L469.0 213.5 L469.1 212.7 L469.1 212.0 L469.2 211.3 L469.3 210.5 L469.3 209.8 L469.4 209.0 L469.4 208.3 L469.5 207.5 L469.6 206.8 L469.6 206.0 L469.7 205.3 L469.7 204.5 L469.8 203.8 L469.9 203.0 L469.9 202.3 L470.0 201.5 L470.0 200.8 L470.1 200.0 L470.1 199.3 L470.2 198.5 L470.3 197.8 L470.3 197.0 L470.4 196.3 L470.4 195.6 L470.5 194.8 L470.5 194.1 L470.6 193.3 L470.6 192.6 L470.6 191.8 L470.7 191.1 L470.7 190.3 L470.8 189.6 L470.8 188.8 L470.9 188.1 L470.9 187.3 L471.0 186.6 L471.0 185.8 L471.0 185.1 L471.1 184.3 L471.1 183.6 L471.2 182.8 L471.2 182.1 L471.3 181.3 L471.3 180.6 L471.3 179.8 L471.4 179.1 L471.4 178.3 L471.4 177.6 L471.5 176.8 L471.5 176.1 L471.6 175.3 L471.6 174.6 L471.6 173.8 L471.7 173.1 L471.7 172.3 L471.7 171.6 L471.8 170.8 L471.8 170.1 L471.9 169.3 L471.9 168.6 L471.9 167.8 L472.0 167.1 L472.0 166.3 L472.0 165.6 L472.1 164.8 L472.1 164.1 L472.1 163.3 L472.2 162.6 L472.2 161.9 L472.2 161.1 L472.3 160.4 L472.3 159.6 L472.4 158.9 L472.4 158.1 L472.4 157.4 L472.5 156.6 L472.5 155.9 L472.6 155.1 L472.6 154.4 L472.6 153.6 L472.7 152.9 L472.7 152.1 L472.8 151.4 L472.8 150.6 L472.8 149.9 L472.9 149.1 L472.9 148.4 L473.0 147.6 L473.0 146.9 L473.1 146.1 L473.1 145.4 L473.2 144.6 L473.2 143.9 L473.3 143.1 L473.3 142.4 L473.4 141.6 L473.4 140.9 L473.5 140.1 L473.6 139.4 L473.6 138.6 L473.7 137.9 L473.7 137.1 L473.8 136.4 L473.9 135.7 L473.9 134.9 L474.0 134.2 L474.0 133.4 L474.1 132.7 L474.2 131.9 L474.2 131.2 L474.3 130.4 L474.3 129.7 L474.4 128.9 L474.4 128.2 L474.5 127.4 L474.5 126.7 L474.6 125.9 L474.6 125.2 L474.7 124.4 L474.7 123.7 L474.8 122.9 L474.8 122.2 L474.9 121.4 L474.9 120.7 L475.0 119.9 L475.1 119.2 L475.1 118.5 L475.2 117.7 L475.2 117.0 L475.3 116.2 L475.4 115.5 L475.4 114.7 L475.5 114.0 L475.6 113.2 L475.7 112.5 L475.7 111.7 L475.8 111.0 L475.9 110.2 L476.0 109.5 L476.1 108.7 L476.1 108.0 L476.2 107.3 L476.3 106.5 L476.4 105.8 L476.5 105.0 L476.6 104.3 L476.7 103.5 L476.8 102.8 L477.0 102.1 L477.1 101.3 L477.2 100.6 L477.3 99.9 L477.5 99.1 L477.6 98.4 L477.7 97.7 L477.9 96.9 L478.1 96.2 L478.3 95.7 L478.7 95.6 L479.0 96.1 L479.2 96.7 L479.4 97.4 L479.6 98.2 L479.7 98.9 L479.9 99.6 L480.1 100.4 L480.2 101.1 L480.3 101.8 L480.5 102.6 L480.6 103.3 L480.7 104.0 L480.8 104.8 L480.9 105.5 L481.1 106.3 L481.2 107.0 L481.3 107.7 L481.4 108.5 L481.5 109.2 L481.6 110.0 L481.7 110.7 L481.7 111.5 L481.8 112.2 L481.9 113.0 L482.0 113.7 L482.1 114.4 L482.2 115.2 L482.3 115.9 L482.4 116.7 L482.4 117.4 L482.5 118.2 L482.6 118.9 L482.7 119.7 L482.8 120.4 L482.8 121.2 L482.9 121.9 L483.0 122.6 L483.0 123.4 L483.1 124.1 L483.2 124.9 L483.3 125.6 L483.3 126.4 L483.4 127.1 L483.5 127.9 L483.5 128.6 L483.6 129.4 L483.7 130.1 L483.7 130.9 L483.8 131.6 L483.9 132.4 L484.0 133.1 L484.0 133.8 L484.1 134.6 L484.2 135.3 L484.2 136.1 L484.3 136.8 L484.4 137.6 L484.5 138.3 L484.5 139.1 L484.6 139.8 L484.7 140.6 L484.7 141.3 L484.8 142.1 L484.9 142.8 L485.0 143.6 L485.0 144.3 L485.1 145.0 L485.1 145.8 L485.2 146.5 L485.3 147.3 L485.3 148.0 L485.4 148.8 L485.5 149.5 L485.5 150.3 L485.6 151.0 L485.6 151.8 L485.7 152.5 L485.8 153.3 L485.8 154.0 L485.9 154.8 L485.9 155.5 L486.0 156.3 L486.1 157.0 L486.1 157.8 L486.2 158.5 L486.2 159.2 L486.3 160.0 L486.4 160.7 L486.4 161.5 L486.5 162.2 L486.6 163.0 L486.6 163.7 L486.7 164.5 L486.8 165.2 L486.8 166.0 L486.9 166.7 L487.0 167.5 L487.0 168.2 L487.1 169.0 L487.2 169.7 L487.2 170.5 L487.3 171.2 L487.3 172.0 L487.4 172.7 L487.5 173.4 L487.5 174.2 L487.6 174.9 L487.6 175.7 L487.7 176.4 L487.8 177.2 L487.8 177.9 L487.9 178.7 L487.9 179.4 L488.0 180.2 L488.0 180.9 L488.1 181.7 L488.1 182.4 L488.2 183.2 L488.2 183.9 L488.3 184.7 L488.4 185.4 L488.4 186.2 L488.5 186.9 L488.5 187.7 L488.6 188.4 L488.6 189.2 L488.7 189.9 L488.7 190.6 L488.8 191.4 L488.8 192.1 L488.9 192.9 L488.9 193.6 L489.0 194.4 L489.0 195.1 L489.1 195.9 L489.2 196.6 L489.2 197.4 L489.3 198.1 L489.3 198.9 L489.4 199.6 L489.4 200.4 L489.5 201.1 L489.6 201.9 L489.6 202.6 L489.7 203.4 L489.7 204.1 L489.8 204.9 L489.9 205.6 L489.9 206.4 L490.0 207.1 L490.1 207.8 L490.1 208.6 L490.2 209.3 L490.2 210.1 L490.3 210.8 L490.4 211.6 L490.5 212.3 L490.5 213.1 L490.6 213.8 L490.7 214.6 L490.8 215.3 L490.9 216.1 L490.9 216.8 L491.0 217.5 L491.1 218.3 L491.2 219.0 L491.3 219.8 L491.4 220.5 L491.5 221.3 L491.6 222.0 L491.7 222.8 L491.8 223.5 L491.9 224.2 L492.1 225.0 L492.2 225.7 L492.3 226.5 L492.4 227.2 L492.5 227.9 L492.7 228.7 L492.8 229.4 L492.9 230.2 L493.1 230.9 L493.2 231.6 L493.3 232.4 L493.5 233.1 L493.6 233.8 L493.8 234.6 L493.9 235.3 L494.0 236.0 L494.2 236.8 L494.4 237.5 L494.5 238.2 L494.7 239.0 L494.8 239.7 L495.0 240.4 L495.2 241.2 L495.4 241.9 L495.6 242.6 L495.8 243.3 L496.0 244.1 L496.2 244.8 L496.4 245.5 L496.6 246.2 L496.9 246.9 L497.1 247.6 L497.4 248.3 L497.6 249.0 L497.9 249.7 L498.2 250.4 L498.5 251.1 L498.7 251.8 L499.0 252.5 L499.3 253.2 L499.7 253.9 L500.0 254.6 L500.3 255.2 L500.6 255.9 L501.0 256.6 L501.3 257.2 L501.7 257.8 L502.1 258.5 L502.5 259.1 L503.0 259.7 L503.5 260.2 L503.9 260.8 L504.5 261.3 L505.0 261.8 L505.6 262.3 L506.1 262.8 L506.7 263.2 L507.3 263.6 L508.0 264.0 L508.6 264.3 L509.3 264.6 L510.0 264.9 L510.7 265.1 L511.4 265.3 L512.1 265.5 L512.9 265.7 L513.6 265.8 L514.3 266.0 L515.1 266.1 L515.8 266.2 L516.5 266.3 L517.3 266.4 L518.0 266.5 L518.8 266.6 L519.5 266.7 L520.3 266.8 L521.0 266.9 L521.7 267.0 L522.5 267.1 L523.2 267.2 L524.0 267.3 L524.7 267.4 L525.5 267.5 L526.2 267.6 L526.9 267.7 L527.7 267.8 L528.4 267.9 L529.2 268.0 L529.9 268.1 L530.7 268.2 L531.4 268.2 L532.2 268.3 L532.9 268.4 L533.6 268.4 L534.4 268.5 L535.1 268.5 L535.8 268.5 L536.5 268.4 L537.2 268.3 L537.9 268.1 L538.5 267.9 L539.1 267.6 L539.7 267.3 L540.2 266.8 L540.6 266.4 L541.0 265.8 L541.4 265.2 L541.7 264.6 L542.0 263.9 L542.2 263.2 L542.4 262.5 L542.6 261.8 L542.8 261.1 L542.9 260.4 L543.0 259.6 L543.1 258.9 L543.2 258.2 L543.3 257.4 L543.4 256.7 L543.5 255.9 L543.6 255.2 L543.7 254.4 L543.7 253.7 L543.8 252.9 L543.9 252.2 L544.0 251.4 L544.1 250.7 L544.1 250.0 L544.2 249.2 L544.3 248.5 L544.4 247.7 L544.5 247.0 L544.6 246.2 L544.6 245.5 L544.7 244.7 L544.8 244.0 L544.9 243.2 L545.0 242.5 L545.0 241.8 L545.1 241.0 L545.2 240.3 L545.3 239.5 L545.3 238.8 L545.4 238.0 L545.5 237.3 L545.5 236.5 L545.6 235.8 L545.6 235.0 L545.7 234.3 L545.7 233.5 L545.8 232.8 L545.8 232.0 L545.9 231.3 L545.9 230.5 L546.0 229.8 L546.0 229.0 L546.1 228.3 L546.1 227.5 L546.1 226.8 L546.2 226.0 L546.2 225.3 L546.2 224.5 L546.3 223.8 L546.3 223.1 L546.4 222.3 L546.4 221.6 L546.4 220.8 L546.4 220.1 L546.5 219.3 L546.5 218.6 L546.5 217.8 L546.6 217.1 L546.6 216.3 L546.6 215.6 L546.7 214.8 L546.7 214.1 L546.7 213.3 L546.8 212.6 L546.8 211.8 L546.8 211.1 L546.8 210.3 L546.9 209.6 L546.9 208.8 L546.9 208.1 L547.0 207.3 L547.0 206.6 L547.0 205.8 L547.1 205.1 L547.1 204.3 L547.1 203.6 L547.1 202.8 L547.2 202.1 L547.2 201.3 L547.2 200.6 L547.2 199.8 L547.3 199.1 L547.3 198.3 L547.3 197.6 L547.3 196.8 L547.4 196.1 L547.4 195.3 L547.4 194.6 L547.4 193.8 L547.5 193.1 L547.5 192.3 L547.5 191.6 L547.5 190.8 L547.5 190.1 L547.6 189.3 L547.6 188.6 L547.6 187.8 L547.6 187.1 L547.7 186.3 L547.7 185.6 L547.7 184.8 L547.7 184.1 L547.8 183.3 L547.8 182.6 L547.8 181.8 L547.8 181.1 L547.8 180.3 L547.9 179.6 L547.9 178.8 L547.9 178.1 L547.9 177.3 L548.0 176.6 L548.0 175.8 L548.0 175.1 L548.0 174.3 L548.1 173.6 L548.1 172.8 L548.1 172.1 L548.1 171.3 L548.1 170.6 L548.2 169.8 L548.2 169.1 L548.2 168.3 L548.2 167.6 L548.3 166.8 L548.3 166.1 L548.3 165.3 L548.3 164.6 L548.4 163.8 L548.4 163.1 L548.4 162.3 L548.4 161.6 L548.5 160.8 L548.5 160.1 L548.5 159.3 L548.6 158.6 L548.6 157.8 L548.6 157.1 L548.6 156.3 L548.7 155.6 L548.7 154.8 L548.7 154.1 L548.8 153.3 L548.8 152.6 L548.8 151.8 L548.9 151.1 L548.9 150.3 L548.9 149.6 L549.0 148.8 L549.0 148.1 L549.0 147.3 L549.0 146.6 L549.1 145.9 L549.1 145.1 L549.1 144.4 L549.2 143.6 L549.2 142.9 L549.2 142.1 L549.3 141.4 L549.3 140.6 L549.3 139.9 L549.4 139.1 L549.4 138.4 L549.5 137.6 L549.5 136.9 L549.5 136.1 L549.6 135.4 L549.6 134.6 L549.6 133.9 L549.7 133.1 L549.7 132.4 L549.7 131.6 L549.8 130.9 L549.8 130.1 L549.8 129.4 L549.9 128.6 L549.9 127.9 L550.0 127.1 L550.0 126.4 L550.0 125.6 L550.1 124.9 L550.1 124.1 L550.2 123.4 L550.2 122.6 L550.2 121.9 L550.3 121.1 L550.3 120.4 L550.3 119.6 L550.4 118.9 L550.4 118.1 L550.5 117.4 L550.5 116.6 L550.5 115.9 L550.6 115.1 L550.6 114.4 L550.7 113.6 L550.7 112.9 L550.7 112.1 L550.8 111.4 L550.8 110.6 L550.9 109.9 L550.9 109.1 L550.9 108.4 L551.0 107.6 L551.0 106.9 L551.1 106.2 L551.1 105.4 L551.1 104.7 L551.2 103.9 L551.2 103.2 L551.3 102.4 L551.3 101.7 L551.3 100.9 L551.4 100.2 L551.4 99.4 L551.5 98.7 L551.5 97.9 L551.5 97.2 L551.6 96.4 L551.6 95.7 L551.6 94.9 L551.7 94.2 L551.7 93.4 L551.8 92.7 L551.8 91.9 L551.8 91.2 L551.9 90.4 L551.9 89.7 L551.9 88.9 L552.0 88.2 L552.0 87.4 L552.0 86.7 L552.1 85.9 L552.1 85.2 L552.2 84.4 L552.2 83.7 L552.2 82.9 L552.3 82.2 L552.3 81.4 L552.3 80.7 L552.4 79.9 L552.4 79.2 L552.5 78.4 L552.5 77.7 L552.6 76.9 L552.6 76.2 L552.6 75.4 L552.7 74.7 L552.7 73.9 L552.8 73.2 L552.8 72.4 L552.9 71.7 L552.9 71.0 L553.0 70.2 L553.1 69.5 L553.1 68.7 L553.2 68.0 L553.2 67.2 L553.3 66.5 L553.4 65.7 L553.4 65.0 L553.5 64.2 L553.6 63.5 L553.6 62.8 L553.7 62.0 L553.8 61.3 L553.9 60.5 L554.0 59.8 L554.1 59.1 L554.3 58.6 L554.5 58.7 L554.7 59.2 L554.8 59.9 L554.9 60.6 L555.0 61.4 L555.1 62.1 L555.1 62.8 L555.2 63.6 L555.3 64.3 L555.3 65.1 L555.4 65.8 L555.5 66.6 L555.5 67.3 L555.6 68.0 L555.7 68.8 L555.8 69.5 L555.8 70.3 L555.9 71.0 L556.0 71.8 L556.1 72.5 L556.2 73.3 L556.3 74.0 L556.3 74.8 L556.4 75.5 L556.5 76.2 L556.6 77.0 L556.7 77.7 L556.8 78.5 L556.8 79.2 L556.9 80.0 L557.0 80.7 L557.1 81.5 L557.2 82.2 L557.3 83.0 L557.3 83.7 L557.4 84.4 L557.5 85.2 L557.6 85.9 L557.6 86.7 L557.7 87.4 L557.8 88.2 L557.9 88.9 L557.9 89.7 L558.0 90.4 L558.1 91.2 L558.1 91.9 L558.2 92.7 L558.3 93.4 L558.3 94.2 L558.4 94.9 L558.5 95.6 L558.5 96.4 L558.6 97.1 L558.7 97.9 L558.7 98.6 L558.8 99.4 L558.8 100.1 L558.9 100.9 L559.0 101.6 L559.0 102.4 L559.1 103.1 L559.1 103.9 L559.2 104.6 L559.2 105.4 L559.3 106.1 L559.3 106.9 L559.4 107.6 L559.4 108.4 L559.5 109.1 L559.5 109.9 L559.6 110.6 L559.6 111.4 L559.7 112.1 L559.7 112.9 L559.8 113.6 L559.8 114.3 L559.9 115.1 L559.9 115.8 L559.9 116.6 L560.0 117.3 L560.0 118.1 L560.1 118.8 L560.1 119.6 L560.2 120.3 L560.2 121.1 L560.3 121.8 L560.3 122.6 L560.3 123.3 L560.4 124.1 L560.4 124.8 L560.5 125.6 L560.5 126.3 L560.6 127.1 L560.6 127.8 L560.7 128.6 L560.7 129.3 L560.7 130.1 L560.8 130.8 L560.8 131.6 L560.9 132.3 L560.9 133.1 L561.0 133.8 L561.0 134.6 L561.0 135.3 L561.1 136.1 L561.1 136.8 L561.2 137.6 L561.2 138.3 L561.3 139.1 L561.3 139.8 L561.3 140.6 L561.4 141.3 L561.4 142.1 L561.5 142.8 L561.5 143.5 L561.6 144.3 L561.6 145.0 L561.6 145.8 L561.7 146.5 L561.7 147.3 L561.8 148.0 L561.8 148.8 L561.9 149.5 L561.9 150.3 L562.0 151.0 L562.0 151.8 L562.0 152.5 L562.1 153.3 L562.1 154.0 L562.2 154.8 L562.2 155.5 L562.3 156.3 L562.3 157.0 L562.4 157.8 L562.4 158.5 L562.5 159.3 L562.5 160.0 L562.5 160.8 L562.6 161.5 L562.6 162.3 L562.7 163.0 L562.7 163.8 L562.8 164.5 L562.8 165.3 L562.9 166.0 L562.9 166.8 L563.0 167.5 L563.0 168.3 L563.1 169.0 L563.1 169.8 L563.1 170.5 L563.2 171.2 L563.2 172.0 L563.3 172.7 L563.3 173.5 L563.4 174.2 L563.4 175.0 L563.5 175.7 L563.6 176.5 L563.6 177.2 L563.7 178.0 L563.7 178.7 L563.8 179.5 L563.8 180.2 L563.9 181.0 L564.0 181.7 L564.0 182.5 L564.1 183.2 L564.2 184.0 L564.3 184.7 L564.3 185.5 L564.4 186.2 L564.5 186.9 L564.6 187.7 L564.6 188.4 L564.7 189.2 L564.8 189.9 L564.9 190.7 L564.9 191.4 L565.0 192.2 L565.1 192.9 L565.2 193.7 L565.3 194.4 L565.4 195.1 L565.5 195.9 L565.5 196.6 L565.6 197.4 L565.7 198.1 L565.8 198.9 L565.9 199.6 L566.0 200.4 L566.1 201.1 L566.2 201.9 L566.2 202.6 L566.3 203.3 L566.4 204.1 L566.5 204.8 L566.6 205.6 L566.7 206.3 L566.8 207.1 L566.9 207.8 L567.0 208.5 L567.1 209.3 L567.2 210.0 L567.3 210.8 L567.4 211.5 L567.5 212.3 L567.6 213.0 L567.7 213.7 L567.8 214.5 L567.9 215.2 L568.0 216.0 L568.1 216.7 L568.3 217.5 L568.4 218.2 L568.5 218.9 L568.6 219.7 L568.7 220.4 L568.8 221.2 L569.0 221.9 L569.1 222.6 L569.2 223.4 L569.3 224.1 L569.4 224.9 L569.6 225.6 L569.7 226.3 L569.8 227.1 L570.0 227.8 L570.1 228.6 L570.2 229.3 L570.4 230.0 L570.5 230.8 L570.6 231.5 L570.8 232.2 L570.9 233.0 L571.1 233.7 L571.2 234.4 L571.4 235.2 L571.5 235.9 L571.7 236.7 L571.8 237.4 L572.0 238.1 L572.2 238.8 L572.4 239.6 L572.5 240.3 L572.7 241.0 L572.9 241.7 L573.1 242.5 L573.4 243.2 L573.6 243.9 L573.8 244.6 L574.1 245.3 L574.3 246.0 L574.6 246.7 L574.9 247.4 L575.2 248.1 L575.5 248.8 L575.8 249.4 L576.2 250.1 L576.5 250.8 L576.9 251.4 L577.3 252.1 L577.6 252.7 L578.0 253.4 L578.4 254.0 L578.8 254.6 L579.2 255.3 L579.6 255.9 L580.1 256.5 L580.5 257.1 L581.0 257.7 L581.5 258.2 L581.9 258.8 L582.4 259.4 L582.9 259.9 L583.5 260.5 L584.0 261.0 L584.6 261.5 L585.1 262.0 L585.7 262.5 L586.3 262.9 L586.9 263.4 L587.5 263.8 L588.1 264.2 L588.7 264.7 L589.3 265.1 L590.0 265.4 L590.6 265.8 L591.3 266.1 L592.0 266.5 L592.6 266.8 L593.3 267.1 L594.0 267.4 L594.7 267.7 L595.4 268.0 L596.1 268.2 L596.8 268.5 L597.5 268.7 L598.2 269.0 L598.9 269.2 L599.6 269.4 L600.3 269.7 L601.1 269.9 L601.8 270.1 L602.5 270.2 L603.2 270.4 L604.0 270.6 L604.7 270.7 L605.4 270.8 L606.2 270.9 L606.9 271.0 L607.7 271.0 L608.4 271.1 L609.2 271.1 L609.9 271.1 L610.7 271.2 L611.4 271.2 L612.1 271.2 L612.9 271.2 L613.6 271.2 L614.4 271.1 L615.1 271.1 L615.8 271.0 L616.5 270.9 L617.2 270.7 L617.8 270.5 L618.5 270.3 L619.1 270.1 L619.7 269.9 L620.3 269.8 L620.9 269.7 L621.5 269.7 L622.0 269.7 L622.6 269.9 L623.1 270.2 L623.7 270.5 L624.2 270.9 L624.7 271.3 L625.3 271.8 L625.8 272.3 L626.3 272.8 L626.9 273.3 L627.4 273.8 L628.0 274.2 L628.6 274.6 L629.2 275.0 L629.7 275.3 L630.4 275.5 L631.0 275.6 L631.6 275.7 L632.2 275.6 L632.8 275.5 L633.5 275.3 L634.1 275.0 L634.7 274.7 L635.3 274.3 L635.9 273.9 L636.5 273.6 L637.2 273.2 L637.8 272.9 L638.5 272.6 L639.2 272.3 L639.9 272.1 L640.6 271.9 L641.3 271.8 L642.0 271.7 L642.7 271.6 L643.5 271.5 L644.2 271.5 L645.0 271.4 L645.7 271.4 L646.5 271.4 L647.2 271.4 L648.0 271.3 L648.7 271.3 L649.5 271.3 L650.2 271.3 L651.0 271.3 L651.7 271.2 L652.5 271.2 L653.2 271.1 L653.9 271.1 L654.7 271.0 L655.4 270.9 L656.1 270.7 L656.8 270.6 L657.5 270.4 L658.2 270.1 L658.9 269.8 L659.5 269.5 L660.1 269.1 L660.7 268.7 L661.3 268.2 L661.8 267.7 L662.2 267.2 L662.6 266.6 L663.0 266.0 L663.4 265.4 L663.7 264.7 L664.0 264.0 L664.2 263.3 L664.4 262.6 L664.6 261.9 L664.8 261.2 L664.9 260.4 L665.1 259.7 L665.2 259.0 L665.3 258.2 L665.4 257.5 L665.5 256.8 L665.6 256.0 L665.7 255.3 L665.8 254.5 L665.9 253.8 L666.0 253.0 L666.0 252.3 L666.1 251.5 L666.2 250.8 L666.2 250.0 L666.3 249.3 L666.4 248.6 L666.4 247.8 L666.5 247.1 L666.5 246.3 L666.6 245.6 L666.6 244.8 L666.7 244.1 L666.7 243.3 L666.8 242.6 L666.8 241.8 L666.9 241.1 L666.9 240.3 L667.0 239.6 L667.0 238.8 L667.1 238.1 L667.1 237.3 L667.2 236.6 L667.2 235.8 L667.3 235.1 L667.3 234.3 L667.4 233.6 L667.4 232.8 L667.5 232.1 L667.5 231.3 L667.6 230.6 L667.7 229.8 L667.7 229.1 L667.8 228.4 L667.9 227.6 L667.9 226.9 L668.0 226.1 L668.1 225.4 L668.1 224.6 L668.2 223.9 L668.2 223.1 L668.3 222.4 L668.4 221.6 L668.4 220.9 L668.5 220.1 L668.5 219.4 L668.6 218.6 L668.6 217.9 L668.7 217.1 L668.7 216.4 L668.8 215.6 L668.8 214.9 L668.9 214.1 L668.9 213.4 L669.0 212.6 L669.0 211.9 L669.1 211.2 L669.1 210.4 L669.2 209.7 L669.2 208.9 L669.2 208.2 L669.3 207.4 L669.3 206.7 L669.4 205.9 L669.4 205.2 L669.4 204.4 L669.5 203.7 L669.5 202.9 L669.5 202.2 L669.6 201.4 L669.6 200.7 L669.7 199.9 L669.7 199.2 L669.7 198.4 L669.8 197.7 L669.8 196.9 L669.9 196.2 L669.9 195.4 L669.9 194.7 L670.0 193.9 L670.0 193.2 L670.0 192.4 L670.1 191.7 L670.1 190.9 L670.2 190.2 L670.2 189.4 L670.2 188.7 L670.3 187.9 L670.3 187.2 L670.3 186.4 L670.4 185.7 L670.4 184.9 L670.5 184.2 L670.5 183.4 L670.5 182.7 L670.6 181.9 L670.6 181.2 L670.6 180.4 L670.6 179.7 L670.7 178.9 L670.7 178.2 L670.7 177.4 L670.8 176.7 L670.8 175.9 L670.8 175.2 L670.8 174.4 L670.9 173.7 L670.9 172.9 L670.9 172.2 L670.9 171.4 L671.0 170.7 L671.0 169.9 L671.0 169.2 L671.0 168.4 L671.1 167.7 L671.1 166.9 L671.1 166.2 L671.1 165.4 L671.2 164.7 L671.2 163.9 L671.2 163.2 L671.2 162.5 L671.2 161.7 L671.3 161.0 L671.3 160.2 L671.3 159.5 L671.3 158.7 L671.4 158.0 L671.4 157.2 L671.4 156.5 L671.4 155.7 L671.5 155.0 L671.5 154.2 L671.5 153.5 L671.5 152.7 L671.6 152.0 L671.6 151.2 L671.6 150.5 L671.7 149.7 L671.7 149.0 L671.7 148.2 L671.7 147.5 L671.8 146.7 L671.8 146.0 L671.8 145.2 L671.8 144.5 L671.9 143.7 L671.9 143.0 L671.9 142.2 L672.0 141.5 L672.0 140.7 L672.0 140.0 L672.1 139.2 L672.1 138.5 L672.1 137.7 L672.2 137.0 L672.2 136.2 L672.2 135.5 L672.3 134.7 L672.3 134.0 L672.3 133.2 L672.4 132.5 L672.4 131.7 L672.4 131.0 L672.5 130.2 L672.5 129.5 L672.5 128.7 L672.6 128.0 L672.6 127.2 L672.6 126.5 L672.7 125.7 L672.7 125.0 L672.7 124.2 L672.8 123.5 L672.8 122.7 L672.8 122.0 L672.9 121.2 L672.9 120.5 L673.0 119.7 L673.0 119.0 L673.0 118.2 L673.1 117.5 L673.1 116.7 L673.1 116.0 L673.2 115.2 L673.2 114.5 L673.3 113.7 L673.3 113.0 L673.3 112.2 L673.4 111.5 L673.4 110.7 L673.5 110.0 L673.5 109.3 L673.5 108.5 L673.6 107.8 L673.6 107.0 L673.7 106.3 L673.7 105.5 L673.8 104.8 L673.8 104.0 L673.8 103.3 L673.9 102.5 L673.9 101.8 L674.0 101.0 L674.0 100.3 L674.1 99.5 L674.1 98.8 L674.2 98.0 L674.2 97.3 L674.3 96.5 L674.3 95.8 L674.3 95.0 L674.4 94.3 L674.4 93.5 L674.5 92.8 L674.5 92.0 L674.6 91.3 L674.7 90.5 L674.7 89.8 L674.8 89.0 L674.8 88.3 L674.9 87.5 L674.9 86.8 L675.0 86.0 L675.1 85.3 L675.1 84.6 L675.2 83.8 L675.2 83.1 L675.3 82.3 L675.4 81.6 L675.4 80.8 L675.5 80.1 L675.6 79.4 L675.6 78.6 L675.7 77.9 L675.8 77.2 L676.0 76.7 L676.2 76.7 L676.4 77.1 L676.5 77.8 L676.6 78.6 L676.6 79.3 L676.7 80.1 L676.8 80.8 L676.9 81.5 L676.9 82.3 L677.0 83.0 L677.1 83.8 L677.2 84.5 L677.2 85.2 L677.3 86.0 L677.4 86.7 L677.5 87.5 L677.6 88.2 L677.7 89.0 L677.8 89.7 L677.9 90.5 L678.0 91.2 L678.2 91.9 L678.3 92.7 L678.4 93.4 L678.5 94.2 L678.6 94.9 L678.7 95.6 L678.8 96.4 L678.9 97.1 L679.0 97.9 L679.1 98.6 L679.2 99.4 L679.3 100.1 L679.4 100.8 L679.5 101.6 L679.5 102.3 L679.6 103.1 L679.7 103.8 L679.8 104.6 L679.8 105.3 L679.9 106.1 L680.0 106.8 L680.0 107.6 L680.1 108.3 L680.1 109.1 L680.2 109.8 L680.2 110.6 L680.3 111.3 L680.3 112.1 L680.4 112.8 L680.4 113.6 L680.5 114.3 L680.5 115.1 L680.6 115.8 L680.6 116.5 L680.6 117.3 L680.7 118.0 L680.7 118.8 L680.8 119.5 L680.8 120.3 L680.8 121.0 L680.9 121.8 L680.9 122.5 L680.9 123.3 L681.0 124.0 L681.0 124.8 L681.0 125.5 L681.1 126.3 L681.1 127.0 L681.1 127.8 L681.2 128.5 L681.2 129.3 L681.2 130.0 L681.3 130.8 L681.3 131.5 L681.3 132.3 L681.4 133.0 L681.4 133.8 L681.4 134.5 L681.5 135.3 L681.5 136.0 L681.5 136.8 L681.6 137.5 L681.6 138.3 L681.6 139.0 L681.7 139.8 L681.7 140.5 L681.7 141.3 L681.8 142.0 L681.8 142.8 L681.8 143.5 L681.8 144.3 L681.9 145.0 L681.9 145.8 L681.9 146.5 L682.0 147.3 L682.0 148.0 L682.0 148.8 L682.0 149.5 L682.1 150.3 L682.1 151.0 L682.1 151.8 L682.1 152.5 L682.2 153.3 L682.2 154.0 L682.2 154.8 L682.2 155.5 L682.3 156.3 L682.3 157.0 L682.3 157.8 L682.3 158.5 L682.4 159.3 L682.4 160.0 L682.4 160.8 L682.5 161.5 L682.5 162.3 L682.5 163.0 L682.6 163.8 L682.6 164.5 L682.6 165.3 L682.6 166.0 L682.7 166.8 L682.7 167.5 L682.7 168.3 L682.8 169.0 L682.8 169.8 L682.8 170.5 L682.9 171.3 L682.9 172.0 L682.9 172.7 L683.0 173.5 L683.0 174.2 L683.0 175.0 L683.1 175.7 L683.1 176.5 L683.1 177.2 L683.2 178.0 L683.2 178.7 L683.2 179.5 L683.3 180.2 L683.3 181.0 L683.3 181.7 L683.4 182.5 L683.4 183.2 L683.4 184.0 L683.5 184.7 L683.5 185.5 L683.5 186.2 L683.6 187.0 L683.6 187.7 L683.6 188.5 L683.7 189.2 L683.7 190.0 L683.8 190.7 L683.8 191.5 L683.8 192.2 L683.9 193.0 L683.9 193.7 L684.0 194.5 L684.0 195.2 L684.0 196.0 L684.1 196.7 L684.1 197.5 L684.2 198.2 L684.2 199.0 L684.3 199.7 L684.3 200.5 L684.4 201.2 L684.4 202.0 L684.5 202.7 L684.5 203.5 L684.6 204.2 L684.7 205.0 L684.7 205.7 L684.8 206.4 L684.8 207.2 L684.9 207.9 L685.0 208.7 L685.0 209.4 L685.1 210.2 L685.2 210.9 L685.2 211.7 L685.3 212.4 L685.4 213.2 L685.4 213.9 L685.5 214.7 L685.6 215.4 L685.6 216.2 L685.7 216.9 L685.8 217.7 L685.8 218.4 L685.9 219.1 L686.0 219.9 L686.0 220.6 L686.1 221.4 L686.2 222.1 L686.2 222.9 L686.3 223.6 L686.4 224.4 L686.4 225.1 L686.5 225.9 L686.6 226.6 L686.6 227.4 L686.7 228.1 L686.8 228.9 L686.9 229.6 L687.0 230.3 L687.0 231.1 L687.1 231.8 L687.2 232.6 L687.3 233.3 L687.4 234.1 L687.5 234.8 L687.6 235.6 L687.7 236.3 L687.8 237.0 L687.9 237.8 L688.0 238.5 L688.1 239.3 L688.3 240.0 L688.4 240.7 L688.5 241.5 L688.6 242.2 L688.8 243.0 L688.9 243.7 L689.0 244.4 L689.2 245.2 L689.3 245.9 L689.5 246.6 L689.6 247.4 L689.8 248.1 L689.9 248.9 L690.1 249.6 L690.2 250.3 L690.4 251.0 L690.6 251.8 L690.7 252.5 L690.9 253.2 L691.1 254.0 L691.3 254.7 L691.6 255.4 L691.8 256.1 L692.0 256.8 L692.3 257.5 L692.6 258.2 L692.9 258.9 L693.2 259.6 L693.5 260.2 L693.9 260.9 L694.2 261.5 L694.6 262.1 L695.1 262.7 L695.5 263.3 L696.0 263.9 L696.5 264.5 L697.0 265.0 L697.5 265.5 L698.1 266.0 L698.6 266.5 L699.2 266.9 L699.8 267.3 L700.5 267.7 L701.1 268.1 L701.8 268.5 L702.4 268.8 L703.1 269.1 L703.8 269.4 L704.5 269.7 L705.2 269.9 L705.9 270.2 L706.6 270.4 L707.3 270.6 L708.0 270.8 L708.8 271.0 L709.5 271.1 L710.2 271.3 L711.0 271.4 L711.7 271.6 L712.4 271.7 L713.2 271.9 L713.9 272.0 L714.6 272.1 L715.4 272.2 L716.1 272.2 L716.9 272.3 L717.6 272.3 L718.4 272.4 L719.1 272.4 L719.9 272.4 L720.6 272.4 L721.4 272.4 L722.1 272.4 L722.9 272.4 L723.6 272.4 L724.4 272.4 L725.1 272.4 L725.9 272.4 L726.6 272.4 L727.4 272.4 L728.1 272.4 L728.9 272.4 L729.6 272.4 L730.4 272.4 L731.1 272.4 L731.9 272.4 L732.6 272.4 L733.4 272.4 L734.1 272.4 L734.9 272.4 L735.6 272.4 L736.4 272.4 L737.1 272.4 L737.9 272.4 L738.6 272.4 L739.4 272.4 L740.1 272.4 L740.9 272.4 L741.6 272.4 L742.4 272.4 L743.1 272.4 L743.9 272.4 L744.6 272.4 L745.4 272.4 L746.1 272.4 L746.9 272.4 L747.6 272.4 L748.4 272.4 L749.1 272.4 L749.9 272.4 L750.6 272.4 L751.4 272.4 L752.1 272.4 L752.9 272.4 L753.6 272.4 L754.4 272.4 L755.1 272.4 L755.9 272.4 L756.6 272.4 L757.4 272.4 L758.1 272.4 L758.9 272.4 L759.6 272.4 L760.4 272.4 L761.1 272.4 L761.8 272.3 L762.6 272.3 L763.3 272.2 L764.1 272.2 L764.8 272.1 L765.5 271.9 L766.2 271.8 L767.0 271.6 L767.7 271.4 L768.4 271.2 L769.1 270.9 L769.8 270.7 L770.5 270.4 L771.2 270.2 L771.9 270.0 L772.6 269.8 L773.3 269.6 L774.1 269.4 L774.8 269.3 L775.5 269.2 L776.2 269.1 L777.0 269.1 L777.7 269.1 L778.4 269.2 L779.2 269.3 L779.9 269.4 L780.6 269.5 L781.3 269.7 L782.0 269.9 L782.8 270.1 L783.5 270.3 L784.2 270.5 L784.9 270.8 L785.6 271.0 L786.3 271.2 L787.1 271.4 L787.8 271.6 L788.5 271.8 L789.2 271.9 L790.0 272.0 L790.7 272.1 L791.4 272.2 L792.2 272.3 L792.9 272.3 L793.7 272.4 L794.4 272.4 L795.2 272.4 L795.9 272.4 L796.7 272.4 L797.4 272.4 L798.2 272.4 L798.9 272.4 L799.7 272.4 L800.4 272.4 L801.2 272.4 L801.9 272.4 L802.7 272.4 L803.4 272.4 L804.2 272.4 L804.9 272.4 L805.7 272.4 L806.4 272.4 L807.2 272.4 L807.9 272.4 L808.7 272.4 L809.4 272.4 L810.2 272.4 L810.9 272.4 L811.7 272.4 L812.4 272.4 L813.2 272.4 L813.9 272.4 L814.7 272.4 L815.4 272.4 L816.2 272.4 L816.9 272.4 L817.7 272.4 L818.4 272.4 L819.2 272.4 L819.9 272.4 L820.7 272.4 L821.4 272.4 L822.2 272.4 L822.9 272.4 L823.7 272.4 L824.4 272.4 L825.2 272.4 L825.9 272.4 L826.7 272.4 L827.4 272.4 L828.2 272.4 L828.9 272.4 L829.7 272.4 L830.4 272.4 L831.2 272.4 L831.9 272.4 L832.7 272.4 L833.4 272.4 L834.2 272.4 L834.9 272.4 L835.7 272.4 L836.4 272.4 L837.2 272.4 L837.9 272.4 L838.7 272.4 L839.4 272.4 L840.2 272.4 L840.9 272.4 L841.7 272.4 L842.4 272.4 L843.2 272.4 L843.9 272.4 L844.7 272.4 L845.4 272.4 L846.2 272.4 L846.9 272.4 L847.7 272.4 L848.4 272.4 L849.2 272.4 L849.9 272.4 L850.7 272.4 L851.4 272.4 L852.2 272.4 L852.9 272.4 L853.7 272.4 L854.4 272.4 L855.2 272.4 L855.9 272.4 L856.7 272.4 L857.4 272.4 L858.2 272.4 L858.9 272.4 L859.7 272.4 L860.4 272.4 L861.2 272.4 L861.9 272.4 L862.7 272.4 L863.4 272.4 L864.2 272.4 L864.9 272.4 L865.7 272.4 L866.4 272.4 L867.2 272.4 L867.9 272.4 L868.7 272.4 L869.4 272.4 L870.2 272.4 L870.9 272.4 L871.7 272.4 L872.4 272.4 L873.2 272.4 L873.9 272.4 L874.7 272.4 L875.4 272.4 L876.2 272.4 L876.9 272.4 L877.7 272.4 L878.4 272.4 L879.2 272.4 L879.9 272.4 L880.7 272.4 L881.4 272.4 L882.2 272.4 L882.9 272.4 L883.7 272.4 L884.4 272.4 L885.2 272.4 L885.9 272.4 L886.7 272.4 L887.4 272.4 L888.2 272.4 L888.9 272.4 L889.7 272.4 L890.4 272.4 L891.2 272.4 L891.9 272.4 L892.7 272.4 L893.4 272.4 L894.2 272.4 L894.9 272.4 L895.7 272.4 L896.4 272.4 L897.2 272.4 L897.9 272.4 L898.7 272.4 L899.4 272.4 L900.2 272.4 L900.9 272.4 L901.7 272.4 L902.4 272.4 L903.2 272.4 L903.9 272.4 L904.7 272.4 L905.4 272.4 L906.2 272.4 L906.9 272.4 L907.7 272.4 L908.4 272.4 L909.2 272.4 L909.9 272.4 L910.7 272.4 L911.4 272.4 L912.2 272.4 L912.9 272.4 L913.7 272.4 L914.4 272.4 L915.2 272.4 L915.9 272.4 L916.7 272.4 L917.4 272.4 L918.2 272.4 L918.9 272.4 L919.7 272.4 L920.4 272.4 L921.2 272.4 L921.9 272.4 L922.7 272.4 L923.4 272.4 L924.2 272.4 L924.9 272.4 L925.7 272.4 L926.4 272.4 L927.2 272.4 L927.9 272.4 L928.7 272.4 L929.4 272.4 L930.2 272.4 L930.9 272.4 L931.7 272.4 L932.4 272.4 L933.2 272.4 L933.9 272.4 L934.7 272.4 L935.4 272.4 L936.2 272.4 L936.9 272.4 L937.7 272.4 L938.4 272.4 L939.2 272.4 L939.9 272.4 L940.7 272.4 L941.4 272.4 L942.1 272.4 L942.9 272.4 L943.6 272.4 L944.3 272.4 L945.0 272.4 L945.7 272.4 L946.4 272.4 L947.0 272.4 L947.5 272.4 L947.9 272.4 L949.5 272.4" fill="none" stroke="#2f6474" stroke-width="1.2" stroke-linejoin="round"/>
<path d="M117.5 554.9 L118.7 554.9 L119.1 554.9 L119.6 554.9 L120.1 554.9 L120.7 554.9 L121.4 554.9 L122.1 554.9 L122.8 554.9 L123.5 554.9 L124.3 554.9 L125.0 554.9 L125.8 554.9 L126.5 554.9 L127.3 554.9 L128.0 554.9 L128.8 554.9 L129.5 554.9 L130.2 554.9 L131.0 554.9 L131.7 554.9 L132.5 554.9 L133.2 554.9 L134.0 554.9 L134.7 554.9 L135.5 554.9 L136.2 554.9 L137.0 554.9 L137.7 554.9 L138.5 554.9 L139.2 554.9 L140.0 554.9 L140.7 554.9 L141.5 554.9 L142.2 554.9 L143.0 554.9 L143.7 554.9 L144.5 554.9 L145.2 554.9 L146.0 554.9 L146.7 554.9 L147.5 554.9 L148.2 554.9 L149.0 554.9 L149.7 554.9 L150.5 554.9 L151.2 554.9 L152.0 554.9 L152.7 554.9 L153.5 554.9 L154.2 554.9 L155.0 554.9 L155.7 554.9 L156.5 554.9 L157.2 554.9 L158.0 554.9 L158.7 554.9 L159.5 554.9 L160.2 554.9 L161.0 554.9 L161.7 554.9 L162.5 554.9 L163.2 554.9 L164.0 554.9 L164.7 554.9 L165.5 554.9 L166.2 554.9 L167.0 554.9 L167.7 554.9 L168.5 554.9 L169.2 554.9 L170.0 554.9 L170.7 554.9 L171.5 554.9 L172.2 554.9 L173.0 554.9 L173.7 554.9 L174.5 554.9 L175.2 554.9 L176.0 554.9 L176.7 554.9 L177.5 554.9 L178.2 554.9 L179.0 554.9 L179.7 554.9 L180.5 554.9 L181.2 554.9 L182.0 554.9 L182.7 554.9 L183.5 554.9 L184.2 554.9 L185.0 554.9 L185.7 554.9 L186.5 554.9 L187.2 554.9 L188.0 554.9 L188.7 554.9 L189.5 554.9 L190.2 554.9 L191.0 554.9 L191.7 554.9 L192.5 554.9 L193.2 554.9 L194.0 554.9 L194.7 554.9 L195.5 554.9 L196.2 554.9 L197.0 554.9 L197.7 554.9 L198.5 554.9 L199.2 554.9 L200.0 554.9 L200.7 554.9 L201.5 554.9 L202.2 554.9 L203.0 554.9 L203.7 554.9 L204.5 554.9 L205.2 554.9 L206.0 554.9 L206.7 554.9 L207.5 554.9 L208.2 554.9 L209.0 554.9 L209.7 554.9 L210.5 554.9 L211.2 554.9 L212.0 554.9 L212.7 554.9 L213.5 554.9 L214.2 554.9 L215.0 554.9 L215.7 554.9 L216.5 554.9 L217.2 554.9 L218.0 554.9 L218.7 554.9 L219.5 554.9 L220.2 554.9 L221.0 554.9 L221.7 554.9 L222.5 554.9 L223.2 554.9 L224.0 554.9 L224.7 554.9 L225.5 554.9 L226.2 554.9 L227.0 554.9 L227.7 554.9 L228.5 554.9 L229.2 554.9 L230.0 554.9 L230.7 554.9 L231.5 554.9 L232.2 554.9 L233.0 554.9 L233.7 554.9 L234.5 554.9 L235.2 554.9 L236.0 554.9 L236.7 554.9 L237.5 554.9 L238.2 554.9 L239.0 554.9 L239.7 554.9 L240.5 554.9 L241.2 554.9 L242.0 554.9 L242.7 554.9 L243.5 554.9 L244.2 554.9 L245.0 554.9 L245.7 554.9 L246.5 554.9 L247.2 554.9 L248.0 554.9 L248.7 554.9 L249.5 554.9 L250.2 554.9 L251.0 554.9 L251.7 554.9 L252.5 554.9 L253.2 554.9 L254.0 554.9 L254.7 554.9 L255.5 554.9 L256.2 554.9 L257.0 554.9 L257.7 554.9 L258.5 554.9 L259.2 554.9 L260.0 554.9 L260.7 554.9 L261.5 554.9 L262.2 554.9 L263.0 554.9 L263.7 554.9 L264.5 554.9 L265.2 554.9 L266.0 554.9 L266.7 554.9 L267.5 554.9 L268.2 554.9 L269.0 554.9 L269.7 554.9 L270.5 554.9 L271.2 554.9 L272.0 554.9 L272.7 554.8 L273.5 554.8 L274.2 554.8 L275.0 554.8 L275.7 554.8 L276.5 554.8 L277.2 554.8 L278.0 554.8 L278.7 554.8 L279.5 554.8 L280.2 554.8 L281.0 554.8 L281.7 554.8 L282.5 554.8 L283.2 554.8 L284.0 554.8 L284.7 554.8 L285.5 554.8 L286.2 554.8 L287.0 554.8 L287.7 554.8 L288.5 554.8 L289.2 554.8 L290.0 554.8 L290.7 554.8 L291.5 554.8 L292.2 554.8 L293.0 554.8 L293.7 554.8 L294.5 554.8 L295.2 554.8 L296.0 554.8 L296.7 554.8 L297.5 554.8 L298.2 554.8 L299.0 554.8 L299.7 554.8 L300.5 554.8 L301.2 554.8 L302.0 554.8 L302.7 554.8 L303.5 554.8 L304.2 554.8 L305.0 554.8 L305.7 554.8 L306.5 554.8 L307.2 554.8 L308.0 554.8 L308.7 554.8 L309.5 554.8 L310.2 554.8 L311.0 554.8 L311.7 554.8 L312.5 554.8 L313.2 554.8 L314.0 554.8 L314.7 554.8 L315.5 554.8 L316.2 554.8 L317.0 554.8 L317.7 554.8 L318.5 554.8 L319.2 554.8 L320.0 554.8 L320.7 554.8 L321.5 554.8 L322.2 554.8 L323.0 554.8 L323.7 554.8 L324.5 554.8 L325.2 554.8 L326.0 554.8 L326.7 554.8 L327.5 554.8 L328.2 554.8 L329.0 554.8 L329.7 554.8 L330.5 554.8 L331.2 554.8 L332.0 554.8 L332.7 554.8 L333.5 554.8 L334.2 554.8 L335.0 554.8 L335.7 554.8 L336.5 554.8 L337.2 554.8 L338.0 554.8 L338.7 554.8 L339.5 554.8 L340.2 554.8 L341.0 554.8 L341.7 554.8 L342.5 554.7 L343.2 554.7 L344.0 554.7 L344.7 554.7 L345.5 554.7 L346.2 554.7 L347.0 554.7 L347.7 554.7 L348.5 554.7 L349.2 554.7 L350.0 554.7 L350.7 554.7 L351.5 554.7 L352.2 554.7 L353.0 554.7 L353.7 554.7 L354.5 554.7 L355.2 554.7 L356.0 554.7 L356.7 554.7 L357.5 554.7 L358.2 554.7 L359.0 554.7 L359.7 554.7 L360.5 554.7 L361.2 554.7 L362.0 554.7 L362.7 554.7 L363.5 554.7 L364.2 554.6 L364.8 554.4 L365.2 553.9 L365.4 553.2 L365.6 552.5 L365.7 551.8 L365.8 551.0 L366.0 550.3 L366.1 549.5 L366.2 548.8 L366.3 548.1 L366.4 547.3 L366.4 546.6 L366.5 545.8 L366.6 545.1 L366.7 544.3 L366.8 543.6 L366.9 542.9 L366.9 542.1 L367.0 541.4 L367.1 540.6 L367.1 539.9 L367.2 539.1 L367.2 538.4 L367.3 537.6 L367.4 536.9 L367.4 536.1 L367.5 535.4 L367.5 534.6 L367.5 533.9 L367.6 533.1 L367.6 532.4 L367.7 531.6 L367.7 530.9 L367.7 530.1 L367.8 529.4 L367.8 528.6 L367.8 527.9 L367.9 527.1 L367.9 526.4 L367.9 525.6 L368.0 524.9 L368.0 524.1 L368.0 523.4 L368.0 522.6 L368.0 521.9 L368.1 521.1 L368.1 520.4 L368.1 519.6 L368.1 518.9 L368.1 518.1 L368.2 517.4 L368.2 516.6 L368.2 515.9 L368.2 515.1 L368.2 514.4 L368.2 513.6 L368.2 512.9 L368.2 512.1 L368.3 511.4 L368.3 510.6 L368.3 509.9 L368.3 509.1 L368.3 508.4 L368.3 507.6 L368.3 506.9 L368.3 506.1 L368.3 505.4 L368.4 504.6 L368.4 503.9 L368.4 503.1 L368.4 502.4 L368.4 501.6 L368.4 500.9 L368.4 500.1 L368.4 499.4 L368.4 498.6 L368.4 497.9 L368.5 497.1 L368.5 496.4 L368.5 495.6 L368.5 494.9 L368.5 494.1 L368.5 493.4 L368.5 492.6 L368.5 491.9 L368.5 491.1 L368.5 490.4 L368.6 489.6 L368.6 488.9 L368.6 488.1 L368.6 487.4 L368.6 486.6 L368.6 485.9 L368.6 485.1 L368.6 484.4 L368.6 483.6 L368.7 482.9 L368.7 482.1 L368.7 481.4 L368.7 480.7 L368.7 479.9 L368.7 479.2 L368.7 478.4 L368.7 477.7 L368.7 476.9 L368.8 476.2 L368.8 475.4 L368.8 474.7 L368.8 473.9 L368.8 473.2 L368.8 472.4 L368.8 471.7 L368.8 470.9 L368.8 470.2 L368.8 469.4 L368.9 468.7 L368.9 467.9 L368.9 467.2 L368.9 466.4 L368.9 465.7 L368.9 464.9 L368.9 464.2 L368.9 463.4 L368.9 462.7 L368.9 461.9 L369.0 461.2 L369.0 460.4 L369.0 459.7 L369.0 458.9 L369.0 458.2 L369.0 457.4 L369.0 456.7 L369.0 455.9 L369.0 455.2 L369.0 454.4 L369.1 453.7 L369.1 452.9 L369.1 452.2 L369.1 451.4 L369.1 450.7 L369.1 449.9 L369.1 449.2 L369.1 448.4 L369.1 447.7 L369.1 446.9 L369.1 446.2 L369.1 445.4 L369.2 444.7 L369.2 443.9 L369.2 443.2 L369.2 442.4 L369.2 441.7 L369.2 440.9 L369.2 440.2 L369.2 439.4 L369.2 438.7 L369.2 437.9 L369.2 437.2 L369.2 436.4 L369.2 435.7 L369.2 434.9 L369.3 434.2 L369.3 433.4 L369.3 432.7 L369.3 431.9 L369.3 431.2 L369.3 430.4 L369.3 429.7 L369.3 428.9 L369.3 428.2 L369.3 427.4 L369.3 426.7 L369.3 425.9 L369.3 425.2 L369.3 424.4 L369.3 423.7 L369.3 422.9 L369.4 422.2 L369.4 421.4 L369.4 420.7 L369.4 419.9 L369.4 419.2 L369.4 418.4 L369.4 417.7 L369.4 416.9 L369.4 416.2 L369.4 415.4 L369.4 414.7 L369.4 413.9 L369.4 413.2 L369.4 412.4 L369.4 411.7 L369.4 410.9 L369.4 410.2 L369.5 409.4 L369.5 408.7 L369.5 407.9 L369.5 407.2 L369.5 406.4 L369.5 405.7 L369.5 404.9 L369.5 404.2 L369.5 403.4 L369.5 402.7 L369.5 401.9 L369.5 401.2 L369.5 400.4 L369.6 399.7 L369.6 398.9 L369.6 398.2 L369.6 397.4 L369.6 396.7 L369.6 395.9 L369.6 395.2 L369.6 394.4 L369.6 393.7 L369.6 392.9 L369.6 392.2 L369.6 391.4 L369.6 390.7 L369.7 389.9 L369.7 389.2 L369.7 388.4 L369.7 387.7 L369.7 386.9 L369.7 386.2 L369.7 385.4 L369.7 384.7 L369.7 383.9 L369.7 383.2 L369.7 382.4 L369.7 381.7 L369.7 380.9 L369.8 380.2 L369.8 379.4 L369.8 378.7 L369.8 377.9 L369.8 377.2 L369.8 376.4 L369.8 375.7 L369.8 374.9 L369.8 374.2 L369.8 373.4 L369.8 372.7 L369.9 371.9 L369.9 371.2 L369.9 370.4 L369.9 369.7 L369.9 368.9 L369.9 368.2 L369.9 367.4 L369.9 366.7 L369.9 365.9 L370.0 365.2 L370.0 364.4 L370.0 363.7 L370.0 362.9 L370.0 362.2 L370.0 361.4 L370.0 360.7 L370.1 359.9 L370.1 359.2 L370.1 358.4 L370.1 357.7 L370.2 356.9 L370.2 356.2 L370.2 355.4 L370.2 354.7 L370.3 353.9 L370.3 353.2 L370.3 352.4 L370.4 351.7 L370.4 350.9 L370.4 350.2 L370.5 349.4 L370.5 348.7 L370.5 347.9 L370.6 347.2 L370.6 346.4 L370.6 345.7 L370.7 344.9 L370.7 344.2 L370.8 343.4 L370.8 342.7 L370.9 342.0 L370.9 341.2 L371.0 340.5 L371.1 339.7 L371.2 339.1 L371.4 338.7 L371.7 338.8 L371.9 339.3 L372.1 340.1 L372.2 340.8 L372.3 341.5 L372.3 342.3 L372.4 343.0 L372.5 343.8 L372.5 344.5 L372.6 345.2 L372.7 346.0 L372.7 346.7 L372.8 347.5 L372.8 348.2 L372.9 349.0 L372.9 349.7 L372.9 350.5 L373.0 351.2 L373.0 352.0 L373.1 352.7 L373.1 353.5 L373.1 354.2 L373.2 355.0 L373.2 355.7 L373.2 356.5 L373.2 357.2 L373.3 358.0 L373.3 358.7 L373.3 359.5 L373.3 360.2 L373.3 361.0 L373.3 361.7 L373.4 362.5 L373.4 363.2 L373.4 364.0 L373.4 364.7 L373.4 365.5 L373.4 366.2 L373.4 367.0 L373.4 367.7 L373.4 368.5 L373.4 369.2 L373.4 370.0 L373.4 370.7 L373.4 371.5 L373.4 372.2 L373.4 373.0 L373.4 373.7 L373.4 374.5 L373.4 375.2 L373.4 376.0 L373.5 376.7 L373.5 377.5 L373.5 378.2 L373.5 379.0 L373.5 379.7 L373.5 380.5 L373.5 381.2 L373.5 382.0 L373.5 382.7 L373.5 383.5 L373.5 384.2 L373.5 385.0 L373.5 385.7 L373.5 386.5 L373.5 387.2 L373.5 388.0 L373.5 388.7 L373.5 389.5 L373.5 390.2 L373.5 391.0 L373.5 391.7 L373.5 392.5 L373.5 393.2 L373.5 394.0 L373.5 394.7 L373.5 395.5 L373.6 396.2 L373.6 397.0 L373.6 397.7 L373.6 398.5 L373.6 399.2 L373.6 400.0 L373.6 400.7 L373.6 401.5 L373.6 402.2 L373.6 403.0 L373.6 403.7 L373.6 404.5 L373.6 405.2 L373.6 406.0 L373.6 406.7 L373.6 407.5 L373.6 408.2 L373.6 409.0 L373.6 409.7 L373.6 410.5 L373.6 411.2 L373.6 412.0 L373.6 412.7 L373.6 413.5 L373.6 414.2 L373.7 415.0 L373.7 415.7 L373.7 416.5 L373.7 417.2 L373.7 418.0 L373.7 418.7 L373.7 419.5 L373.7 420.2 L373.7 421.0 L373.7 421.7 L373.7 422.5 L373.7 423.2 L373.7 424.0 L373.7 424.7 L373.7 425.5 L373.7 426.2 L373.7 427.0 L373.7 427.7 L373.7 428.5 L373.7 429.2 L373.7 430.0 L373.7 430.7 L373.7 431.5 L373.7 432.2 L373.7 433.0 L373.7 433.7 L373.7 434.5 L373.8 435.2 L373.8 436.0 L373.8 436.7 L373.8 437.5 L373.8 438.2 L373.8 439.0 L373.8 439.7 L373.8 440.5 L373.8 441.2 L373.9 442.0 L373.9 442.7 L373.9 443.5 L373.9 444.2 L373.9 445.0 L374.0 445.7 L374.0 446.5 L374.0 447.2 L374.0 448.0 L374.1 448.7 L374.1 449.5 L374.1 450.2 L374.2 451.0 L374.2 451.7 L374.3 452.5 L374.3 453.2 L374.4 454.0 L374.4 454.7 L374.5 455.5 L374.5 456.2 L374.6 456.9 L374.6 457.7 L374.7 458.4 L374.7 459.2 L374.7 459.9 L374.8 460.7 L374.8 461.4 L374.9 462.2 L374.9 462.9 L375.0 463.7 L375.0 464.4 L375.0 465.2 L375.1 465.9 L375.1 466.7 L375.2 467.4 L375.2 468.2 L375.2 468.9 L375.3 469.7 L375.3 470.4 L375.4 471.2 L375.4 471.9 L375.4 472.7 L375.5 473.4 L375.5 474.2 L375.6 474.9 L375.6 475.7 L375.6 476.4 L375.7 477.2 L375.7 477.9 L375.8 478.7 L375.8 479.4 L375.8 480.2 L375.9 480.9 L375.9 481.7 L375.9 482.4 L376.0 483.2 L376.0 483.9 L376.0 484.7 L376.1 485.4 L376.1 486.2 L376.1 486.9 L376.2 487.7 L376.2 488.4 L376.2 489.2 L376.3 489.9 L376.3 490.7 L376.4 491.4 L376.4 492.2 L376.4 492.9 L376.5 493.6 L376.5 494.4 L376.6 495.1 L376.6 495.9 L376.6 496.6 L376.7 497.4 L376.7 498.1 L376.8 498.9 L376.8 499.6 L376.9 500.4 L376.9 501.1 L376.9 501.9 L377.0 502.6 L377.0 503.4 L377.1 504.1 L377.1 504.9 L377.2 505.6 L377.2 506.4 L377.3 507.1 L377.3 507.9 L377.4 508.6 L377.5 509.4 L377.5 510.1 L377.6 510.9 L377.6 511.6 L377.7 512.4 L377.8 513.1 L377.8 513.9 L377.9 514.6 L378.0 515.3 L378.1 516.1 L378.2 516.8 L378.3 517.6 L378.4 518.3 L378.5 519.1 L378.6 519.8 L378.7 520.5 L378.8 521.3 L378.9 522.0 L379.0 522.8 L379.1 523.5 L379.3 524.2 L379.4 525.0 L379.6 525.7 L379.7 526.5 L379.8 527.2 L380.0 527.9 L380.2 528.7 L380.3 529.4 L380.5 530.1 L380.7 530.8 L380.9 531.6 L381.1 532.3 L381.3 533.0 L381.5 533.7 L381.7 534.4 L382.0 535.1 L382.2 535.8 L382.5 536.5 L382.8 537.2 L383.1 537.9 L383.4 538.6 L383.8 539.2 L384.2 539.8 L384.6 540.4 L385.1 541.0 L385.6 541.5 L386.1 542.0 L386.6 542.4 L387.2 542.8 L387.8 543.2 L388.5 543.5 L389.1 543.8 L389.8 544.0 L390.5 544.2 L391.2 544.3 L392.0 544.4 L392.7 544.5 L393.4 544.5 L394.2 544.5 L394.9 544.6 L395.7 544.6 L396.4 544.6 L397.2 544.6 L397.9 544.6 L398.7 544.6 L399.4 544.6 L400.2 544.7 L400.9 544.7 L401.6 544.8 L402.3 544.8 L403.0 545.0 L403.7 545.1 L404.4 545.2 L405.0 545.4 L405.7 545.5 L406.3 545.6 L406.9 545.7 L407.5 545.7 L408.1 545.7 L408.6 545.5 L409.2 545.3 L409.7 544.9 L410.1 544.5 L410.5 544.0 L410.9 543.4 L411.3 542.8 L411.6 542.2 L411.9 541.5 L412.1 540.8 L412.4 540.1 L412.6 539.4 L412.8 538.7 L413.0 538.0 L413.2 537.3 L413.4 536.6 L413.6 535.8 L413.7 535.1 L413.9 534.4 L414.0 533.6 L414.2 532.9 L414.3 532.2 L414.4 531.4 L414.6 530.7 L414.7 529.9 L414.8 529.2 L414.9 528.5 L415.1 527.7 L415.2 527.0 L415.3 526.2 L415.4 525.5 L415.5 524.7 L415.6 524.0 L415.7 523.3 L415.8 522.5 L415.9 521.8 L415.9 521.0 L416.0 520.3 L416.1 519.5 L416.2 518.8 L416.3 518.0 L416.3 517.3 L416.4 516.6 L416.5 515.8 L416.6 515.1 L416.7 514.3 L416.7 513.6 L416.8 512.8 L416.9 512.1 L417.0 511.3 L417.0 510.6 L417.1 509.8 L417.2 509.1 L417.3 508.3 L417.3 507.6 L417.4 506.9 L417.5 506.1 L417.6 505.4 L417.6 504.6 L417.7 503.9 L417.8 503.1 L417.9 502.4 L417.9 501.6 L418.0 500.9 L418.1 500.1 L418.2 499.4 L418.2 498.6 L418.3 497.9 L418.4 497.1 L418.4 496.4 L418.5 495.7 L418.6 494.9 L418.6 494.2 L418.7 493.4 L418.8 492.7 L418.8 491.9 L418.9 491.2 L419.0 490.4 L419.0 489.7 L419.1 488.9 L419.1 488.2 L419.2 487.4 L419.3 486.7 L419.3 485.9 L419.4 485.2 L419.4 484.4 L419.5 483.7 L419.5 482.9 L419.6 482.2 L419.7 481.5 L419.7 480.7 L419.8 480.0 L419.8 479.2 L419.9 478.5 L419.9 477.7 L420.0 477.0 L420.0 476.2 L420.1 475.5 L420.2 474.7 L420.2 474.0 L420.3 473.2 L420.3 472.5 L420.4 471.7 L420.5 471.0 L420.5 470.2 L420.6 469.5 L420.7 468.7 L420.7 468.0 L420.8 467.2 L420.9 466.5 L420.9 465.8 L421.0 465.0 L421.1 464.3 L421.2 463.5 L421.2 462.8 L421.3 462.0 L421.4 461.3 L421.5 460.5 L421.5 459.8 L421.6 459.0 L421.7 458.3 L421.8 457.5 L421.9 456.8 L421.9 456.1 L422.0 455.3 L422.1 454.6 L422.2 453.8 L422.3 453.1 L422.3 452.3 L422.4 451.6 L422.5 450.8 L422.5 450.1 L422.6 449.3 L422.7 448.6 L422.7 447.8 L422.8 447.1 L422.9 446.4 L422.9 445.6 L423.0 444.9 L423.1 444.1 L423.1 443.4 L423.2 442.6 L423.3 441.9 L423.3 441.1 L423.4 440.4 L423.5 439.6 L423.5 438.9 L423.6 438.1 L423.7 437.4 L423.8 436.6 L423.8 435.9 L423.9 435.1 L424.0 434.4 L424.1 433.7 L424.1 432.9 L424.2 432.2 L424.3 431.4 L424.4 430.7 L424.4 429.9 L424.5 429.2 L424.6 428.4 L424.7 427.7 L424.8 427.0 L424.9 426.2 L425.0 425.5 L425.1 424.7 L425.3 424.0 L425.4 423.3 L425.6 422.5 L425.7 421.8 L425.9 421.1 L426.0 420.4 L426.3 419.7 L426.6 419.3 L427.0 419.4 L427.3 420.0 L427.5 420.7 L427.7 421.4 L427.8 422.1 L428.0 422.8 L428.1 423.6 L428.3 424.3 L428.4 425.0 L428.6 425.8 L428.7 426.5 L428.8 427.2 L428.9 428.0 L429.0 428.7 L429.1 429.5 L429.2 430.2 L429.3 430.9 L429.4 431.7 L429.5 432.4 L429.6 433.2 L429.7 433.9 L429.8 434.7 L429.9 435.4 L429.9 436.2 L430.0 436.9 L430.1 437.7 L430.2 438.4 L430.3 439.1 L430.3 439.9 L430.4 440.6 L430.5 441.4 L430.6 442.1 L430.6 442.9 L430.7 443.6 L430.8 444.4 L430.8 445.1 L430.9 445.9 L430.9 446.6 L431.0 447.4 L431.1 448.1 L431.1 448.9 L431.2 449.6 L431.2 450.3 L431.3 451.1 L431.3 451.8 L431.4 452.6 L431.5 453.3 L431.5 454.1 L431.6 454.8 L431.6 455.6 L431.7 456.3 L431.8 457.1 L431.8 457.8 L431.9 458.6 L431.9 459.3 L432.0 460.1 L432.1 460.8 L432.1 461.6 L432.2 462.3 L432.3 463.1 L432.4 463.8 L432.4 464.5 L432.5 465.3 L432.6 466.0 L432.6 466.8 L432.7 467.5 L432.8 468.3 L432.9 469.0 L432.9 469.8 L433.0 470.5 L433.1 471.3 L433.2 472.0 L433.2 472.8 L433.3 473.5 L433.4 474.3 L433.4 475.0 L433.5 475.7 L433.6 476.5 L433.7 477.2 L433.7 478.0 L433.8 478.7 L433.9 479.5 L434.0 480.2 L434.0 481.0 L434.1 481.7 L434.2 482.5 L434.3 483.2 L434.3 484.0 L434.4 484.7 L434.5 485.4 L434.6 486.2 L434.6 486.9 L434.7 487.7 L434.8 488.4 L434.9 489.2 L434.9 489.9 L435.0 490.7 L435.1 491.4 L435.2 492.2 L435.3 492.9 L435.3 493.7 L435.4 494.4 L435.5 495.1 L435.6 495.9 L435.7 496.6 L435.7 497.4 L435.8 498.1 L435.9 498.9 L436.0 499.6 L436.1 500.4 L436.2 501.1 L436.2 501.9 L436.3 502.6 L436.4 503.3 L436.5 504.1 L436.6 504.8 L436.7 505.6 L436.7 506.3 L436.8 507.1 L436.9 507.8 L437.0 508.6 L437.1 509.3 L437.2 510.0 L437.3 510.8 L437.4 511.5 L437.5 512.3 L437.6 513.0 L437.7 513.8 L437.8 514.5 L437.9 515.3 L438.0 516.0 L438.1 516.7 L438.2 517.5 L438.3 518.2 L438.4 519.0 L438.6 519.7 L438.7 520.4 L438.8 521.2 L438.9 521.9 L439.0 522.7 L439.2 523.4 L439.3 524.1 L439.4 524.9 L439.5 525.6 L439.7 526.4 L439.8 527.1 L440.0 527.8 L440.1 528.6 L440.3 529.3 L440.4 530.0 L440.6 530.8 L440.8 531.5 L441.0 532.2 L441.2 532.9 L441.5 533.6 L441.7 534.3 L442.0 535.0 L442.2 535.7 L442.5 536.4 L442.8 537.1 L443.1 537.8 L443.5 538.4 L443.8 539.1 L444.2 539.8 L444.5 540.4 L444.9 541.1 L445.3 541.7 L445.7 542.3 L446.1 542.9 L446.5 543.5 L447.0 544.1 L447.5 544.7 L448.0 545.2 L448.5 545.7 L449.0 546.1 L449.6 546.5 L450.2 546.8 L450.8 547.0 L451.5 547.2 L452.1 547.3 L452.7 547.3 L453.4 547.1 L454.0 546.9 L454.5 546.6 L455.1 546.3 L455.5 545.8 L456.0 545.3 L456.4 544.7 L456.7 544.1 L457.0 543.5 L457.3 542.8 L457.5 542.1 L457.7 541.4 L457.9 540.7 L458.0 540.0 L458.2 539.2 L458.3 538.5 L458.4 537.8 L458.5 537.0 L458.6 536.3 L458.7 535.5 L458.8 534.8 L458.9 534.1 L459.0 533.3 L459.1 532.6 L459.1 531.8 L459.2 531.1 L459.3 530.3 L459.3 529.6 L459.4 528.8 L459.5 528.1 L459.5 527.3 L459.6 526.6 L459.6 525.8 L459.7 525.1 L459.7 524.3 L459.8 523.6 L459.9 522.8 L459.9 522.1 L460.0 521.4 L460.0 520.6 L460.1 519.9 L460.1 519.1 L460.2 518.4 L460.3 517.6 L460.3 516.9 L460.4 516.1 L460.5 515.4 L460.5 514.6 L460.6 513.9 L460.7 513.1 L460.7 512.4 L460.8 511.6 L460.9 510.9 L460.9 510.1 L461.0 509.4 L461.1 508.7 L461.2 507.9 L461.2 507.2 L461.3 506.4 L461.4 505.7 L461.5 504.9 L461.5 504.2 L461.6 503.4 L461.7 502.7 L461.7 501.9 L461.8 501.2 L461.9 500.4 L462.0 499.7 L462.0 498.9 L462.1 498.2 L462.2 497.5 L462.2 496.7 L462.3 496.0 L462.4 495.2 L462.4 494.5 L462.5 493.7 L462.6 493.0 L462.6 492.2 L462.7 491.5 L462.8 490.7 L462.8 490.0 L462.9 489.2 L462.9 488.5 L463.0 487.7 L463.1 487.0 L463.1 486.2 L463.2 485.5 L463.2 484.7 L463.3 484.0 L463.4 483.3 L463.4 482.5 L463.5 481.8 L463.5 481.0 L463.6 480.3 L463.6 479.5 L463.7 478.8 L463.8 478.0 L463.8 477.3 L463.9 476.5 L463.9 475.8 L464.0 475.0 L464.0 474.3 L464.1 473.5 L464.1 472.8 L464.2 472.0 L464.2 471.3 L464.3 470.5 L464.3 469.8 L464.4 469.0 L464.4 468.3 L464.5 467.5 L464.5 466.8 L464.6 466.0 L464.6 465.3 L464.7 464.6 L464.8 463.8 L464.8 463.1 L464.9 462.3 L464.9 461.6 L465.0 460.8 L465.0 460.1 L465.1 459.3 L465.1 458.6 L465.2 457.8 L465.2 457.1 L465.3 456.3 L465.3 455.6 L465.4 454.8 L465.5 454.1 L465.5 453.3 L465.6 452.6 L465.6 451.8 L465.7 451.1 L465.7 450.3 L465.8 449.6 L465.9 448.8 L465.9 448.1 L466.0 447.3 L466.0 446.6 L466.1 445.9 L466.2 445.1 L466.2 444.4 L466.3 443.6 L466.4 442.9 L466.4 442.1 L466.5 441.4 L466.6 440.6 L466.7 439.9 L466.7 439.1 L466.8 438.4 L466.9 437.6 L467.0 436.9 L467.1 436.2 L467.2 435.4 L467.3 434.7 L467.4 433.9 L467.5 433.2 L467.6 432.4 L467.7 431.7 L467.8 431.0 L467.9 430.2 L468.1 429.5 L468.2 428.8 L468.4 428.0 L468.5 427.3 L468.7 426.6 L469.0 426.1 L469.3 426.1 L469.6 426.5 L469.8 427.2 L469.9 427.9 L470.1 428.6 L470.2 429.4 L470.3 430.1 L470.5 430.8 L470.6 431.6 L470.7 432.3 L470.8 433.1 L470.8 433.8 L470.9 434.6 L471.0 435.3 L471.1 436.0 L471.2 436.8 L471.2 437.5 L471.3 438.3 L471.4 439.0 L471.4 439.8 L471.5 440.5 L471.6 441.3 L471.6 442.0 L471.7 442.8 L471.8 443.5 L471.8 444.3 L471.9 445.0 L471.9 445.8 L472.0 446.5 L472.1 447.3 L472.1 448.0 L472.2 448.7 L472.2 449.5 L472.3 450.2 L472.3 451.0 L472.4 451.7 L472.4 452.5 L472.5 453.2 L472.5 454.0 L472.6 454.7 L472.6 455.5 L472.7 456.2 L472.8 457.0 L472.8 457.7 L472.9 458.5 L472.9 459.2 L473.0 460.0 L473.0 460.7 L473.1 461.5 L473.2 462.2 L473.2 463.0 L473.3 463.7 L473.3 464.5 L473.4 465.2 L473.5 465.9 L473.5 466.7 L473.6 467.4 L473.6 468.2 L473.7 468.9 L473.8 469.7 L473.8 470.4 L473.9 471.2 L473.9 471.9 L474.0 472.7 L474.1 473.4 L474.1 474.2 L474.2 474.9 L474.3 475.7 L474.3 476.4 L474.4 477.2 L474.4 477.9 L474.5 478.7 L474.6 479.4 L474.6 480.2 L474.7 480.9 L474.7 481.6 L474.8 482.4 L474.8 483.1 L474.9 483.9 L475.0 484.6 L475.0 485.4 L475.1 486.1 L475.1 486.9 L475.2 487.6 L475.3 488.4 L475.3 489.1 L475.4 489.9 L475.4 490.6 L475.5 491.4 L475.6 492.1 L475.6 492.9 L475.7 493.6 L475.8 494.4 L475.8 495.1 L475.9 495.8 L475.9 496.6 L476.0 497.3 L476.1 498.1 L476.1 498.8 L476.2 499.6 L476.3 500.3 L476.3 501.1 L476.4 501.8 L476.5 502.6 L476.5 503.3 L476.6 504.1 L476.7 504.8 L476.7 505.6 L476.8 506.3 L476.9 507.1 L476.9 507.8 L477.0 508.6 L477.1 509.3 L477.1 510.0 L477.2 510.8 L477.3 511.5 L477.4 512.3 L477.4 513.0 L477.5 513.8 L477.6 514.5 L477.7 515.3 L477.7 516.0 L477.8 516.8 L477.9 517.5 L478.0 518.2 L478.1 519.0 L478.2 519.7 L478.2 520.5 L478.3 521.2 L478.4 522.0 L478.5 522.7 L478.6 523.5 L478.7 524.2 L478.8 525.0 L478.8 525.7 L478.9 526.4 L479.0 527.2 L479.1 527.9 L479.3 528.7 L479.4 529.4 L479.5 530.2 L479.6 530.9 L479.8 531.6 L479.9 532.4 L480.1 533.1 L480.2 533.8 L480.4 534.6 L480.6 535.3 L480.8 536.0 L481.0 536.7 L481.2 537.4 L481.5 538.1 L481.7 538.8 L482.0 539.5 L482.3 540.2 L482.6 540.9 L482.9 541.6 L483.2 542.2 L483.6 542.9 L483.9 543.5 L484.3 544.2 L484.7 544.8 L485.2 545.4 L485.6 546.0 L486.1 546.6 L486.6 547.1 L487.1 547.7 L487.6 548.2 L488.2 548.7 L488.7 549.2 L489.3 549.6 L489.9 550.0 L490.5 550.4 L491.2 550.7 L491.8 551.0 L492.5 551.2 L493.2 551.4 L493.9 551.6 L494.6 551.7 L495.3 551.8 L496.1 551.8 L496.8 551.9 L497.6 551.9 L498.3 551.9 L499.1 551.9 L499.8 551.9 L500.6 551.9 L501.3 551.8 L502.0 551.8 L502.8 551.7 L503.5 551.7 L504.2 551.6 L505.0 551.5 L505.7 551.4 L506.4 551.3 L507.1 551.3 L507.8 551.3 L508.5 551.3 L509.2 551.4 L509.9 551.5 L510.6 551.6 L511.4 551.8 L512.1 552.0 L512.8 552.2 L513.5 552.3 L514.2 552.5 L515.0 552.7 L515.7 552.8 L516.4 552.9 L517.2 553.0 L517.9 553.1 L518.6 553.1 L519.4 553.1 L520.1 553.2 L520.9 553.2 L521.6 553.2 L522.4 553.2 L523.1 553.2 L523.9 553.2 L524.6 553.2 L525.4 553.2 L526.1 553.2 L526.9 553.2 L527.6 553.1 L528.3 553.1 L529.0 553.0 L529.7 552.9 L530.4 552.8 L531.1 552.6 L531.7 552.3 L532.2 552.0 L532.7 551.6 L533.2 551.1 L533.6 550.6 L534.0 550.0 L534.3 549.4 L534.7 548.8 L534.9 548.1 L535.2 547.4 L535.4 546.7 L535.6 546.0 L535.8 545.3 L536.0 544.5 L536.2 543.8 L536.3 543.1 L536.4 542.3 L536.6 541.6 L536.7 540.9 L536.8 540.1 L536.9 539.4 L537.0 538.6 L537.1 537.9 L537.2 537.1 L537.3 536.4 L537.4 535.7 L537.4 534.9 L537.5 534.2 L537.6 533.4 L537.7 532.7 L537.7 531.9 L537.8 531.2 L537.9 530.4 L537.9 529.7 L538.0 528.9 L538.0 528.2 L538.1 527.4 L538.2 526.7 L538.2 525.9 L538.3 525.2 L538.4 524.5 L538.4 523.7 L538.5 523.0 L538.5 522.2 L538.6 521.5 L538.6 520.7 L538.7 520.0 L538.8 519.2 L538.8 518.5 L538.9 517.7 L538.9 517.0 L539.0 516.2 L539.0 515.5 L539.1 514.7 L539.1 514.0 L539.2 513.2 L539.2 512.5 L539.3 511.7 L539.3 511.0 L539.4 510.2 L539.4 509.5 L539.5 508.7 L539.5 508.0 L539.6 507.2 L539.6 506.5 L539.7 505.7 L539.7 505.0 L539.8 504.3 L539.8 503.5 L539.9 502.8 L539.9 502.0 L540.0 501.3 L540.1 500.5 L540.1 499.8 L540.2 499.0 L540.2 498.3 L540.3 497.5 L540.3 496.8 L540.4 496.0 L540.4 495.3 L540.5 494.5 L540.5 493.8 L540.6 493.0 L540.6 492.3 L540.7 491.5 L540.7 490.8 L540.8 490.0 L540.8 489.3 L540.9 488.5 L540.9 487.8 L541.0 487.0 L541.0 486.3 L541.1 485.5 L541.1 484.8 L541.2 484.1 L541.2 483.3 L541.3 482.6 L541.3 481.8 L541.3 481.1 L541.4 480.3 L541.4 479.6 L541.5 478.8 L541.5 478.1 L541.5 477.3 L541.6 476.6 L541.6 475.8 L541.7 475.1 L541.7 474.3 L541.7 473.6 L541.8 472.8 L541.8 472.1 L541.8 471.3 L541.9 470.6 L541.9 469.8 L542.0 469.1 L542.0 468.3 L542.0 467.6 L542.1 466.8 L542.1 466.1 L542.1 465.3 L542.1 464.6 L542.2 463.8 L542.2 463.1 L542.2 462.3 L542.2 461.6 L542.3 460.8 L542.3 460.1 L542.3 459.3 L542.4 458.6 L542.4 457.8 L542.4 457.1 L542.4 456.3 L542.5 455.6 L542.5 454.8 L542.5 454.1 L542.5 453.3 L542.6 452.6 L542.6 451.8 L542.6 451.1 L542.7 450.3 L542.7 449.6 L542.8 448.8 L542.8 448.1 L542.8 447.3 L542.9 446.6 L542.9 445.8 L543.0 445.1 L543.0 444.3 L543.1 443.6 L543.1 442.8 L543.2 442.1 L543.2 441.4 L543.3 440.6 L543.3 439.9 L543.4 439.1 L543.4 438.4 L543.4 437.6 L543.5 436.9 L543.5 436.1 L543.6 435.4 L543.6 434.6 L543.6 433.9 L543.7 433.1 L543.7 432.4 L543.7 431.6 L543.8 430.9 L543.8 430.1 L543.9 429.4 L543.9 428.6 L543.9 427.9 L544.0 427.1 L544.0 426.4 L544.0 425.6 L544.1 424.9 L544.1 424.1 L544.1 423.4 L544.2 422.6 L544.2 421.9 L544.3 421.1 L544.3 420.4 L544.3 419.6 L544.4 418.9 L544.4 418.1 L544.4 417.4 L544.5 416.6 L544.5 415.9 L544.5 415.1 L544.6 414.4 L544.6 413.6 L544.6 412.9 L544.7 412.1 L544.7 411.4 L544.7 410.6 L544.8 409.9 L544.8 409.1 L544.8 408.4 L544.9 407.6 L544.9 406.9 L544.9 406.1 L545.0 405.4 L545.0 404.6 L545.1 403.9 L545.1 403.1 L545.1 402.4 L545.2 401.7 L545.2 400.9 L545.3 400.2 L545.3 399.4 L545.4 398.7 L545.4 397.9 L545.5 397.2 L545.6 396.4 L545.6 395.7 L545.7 394.9 L545.7 394.2 L545.8 393.4 L545.9 392.7 L545.9 392.0 L546.0 391.2 L546.1 390.5 L546.2 389.7 L546.3 389.0 L546.4 388.4 L546.7 388.3 L546.8 388.7 L547.0 389.3 L547.1 390.1 L547.2 390.8 L547.2 391.6 L547.3 392.3 L547.4 393.0 L547.5 393.8 L547.5 394.5 L547.6 395.3 L547.7 396.0 L547.8 396.8 L547.8 397.5 L547.9 398.3 L548.0 399.0 L548.1 399.7 L548.1 400.5 L548.2 401.2 L548.3 402.0 L548.4 402.7 L548.5 403.5 L548.5 404.2 L548.6 405.0 L548.7 405.7 L548.8 406.5 L548.8 407.2 L548.9 408.0 L549.0 408.7 L549.0 409.4 L549.1 410.2 L549.2 410.9 L549.2 411.7 L549.3 412.4 L549.4 413.2 L549.4 413.9 L549.5 414.7 L549.5 415.4 L549.6 416.2 L549.6 416.9 L549.7 417.7 L549.7 418.4 L549.8 419.2 L549.8 419.9 L549.9 420.7 L549.9 421.4 L550.0 422.2 L550.0 422.9 L550.1 423.7 L550.1 424.4 L550.1 425.2 L550.2 425.9 L550.2 426.7 L550.2 427.4 L550.3 428.2 L550.3 428.9 L550.3 429.7 L550.3 430.4 L550.4 431.2 L550.4 431.9 L550.4 432.7 L550.4 433.4 L550.5 434.2 L550.5 434.9 L550.5 435.7 L550.6 436.4 L550.6 437.1 L550.6 437.9 L550.6 438.6 L550.7 439.4 L550.7 440.1 L550.7 440.9 L550.8 441.6 L550.8 442.4 L550.8 443.1 L550.9 443.9 L550.9 444.6 L550.9 445.4 L551.0 446.1 L551.0 446.9 L551.0 447.6 L551.1 448.4 L551.1 449.1 L551.1 449.9 L551.2 450.6 L551.2 451.4 L551.3 452.1 L551.3 452.9 L551.3 453.6 L551.4 454.4 L551.4 455.1 L551.4 455.9 L551.5 456.6 L551.5 457.4 L551.6 458.1 L551.6 458.9 L551.6 459.6 L551.7 460.4 L551.7 461.1 L551.8 461.9 L551.8 462.6 L551.8 463.4 L551.9 464.1 L551.9 464.9 L551.9 465.6 L552.0 466.4 L552.0 467.1 L552.1 467.9 L552.1 468.6 L552.1 469.4 L552.2 470.1 L552.2 470.9 L552.3 471.6 L552.3 472.4 L552.3 473.1 L552.4 473.9 L552.4 474.6 L552.5 475.4 L552.5 476.1 L552.6 476.8 L552.6 477.6 L552.7 478.3 L552.7 479.1 L552.8 479.8 L552.8 480.6 L552.9 481.3 L552.9 482.1 L552.9 482.8 L553.0 483.6 L553.1 484.3 L553.1 485.1 L553.2 485.8 L553.2 486.6 L553.3 487.3 L553.3 488.1 L553.4 488.8 L553.4 489.6 L553.5 490.3 L553.5 491.1 L553.6 491.8 L553.6 492.6 L553.7 493.3 L553.7 494.1 L553.8 494.8 L553.9 495.6 L553.9 496.3 L554.0 497.1 L554.0 497.8 L554.1 498.5 L554.1 499.3 L554.2 500.0 L554.2 500.8 L554.3 501.5 L554.3 502.3 L554.4 503.0 L554.4 503.8 L554.5 504.5 L554.5 505.3 L554.6 506.0 L554.6 506.8 L554.7 507.5 L554.8 508.3 L554.8 509.0 L554.9 509.8 L554.9 510.5 L555.0 511.3 L555.1 512.0 L555.1 512.8 L555.2 513.5 L555.3 514.2 L555.4 515.0 L555.5 515.7 L555.6 516.5 L555.7 517.2 L555.8 518.0 L555.9 518.7 L556.0 519.5 L556.1 520.2 L556.2 520.9 L556.3 521.7 L556.4 522.4 L556.6 523.2 L556.7 523.9 L556.8 524.6 L556.9 525.4 L557.1 526.1 L557.2 526.8 L557.3 527.6 L557.5 528.3 L557.6 529.1 L557.8 529.8 L557.9 530.5 L558.1 531.3 L558.3 532.0 L558.4 532.7 L558.6 533.4 L558.8 534.2 L559.0 534.9 L559.2 535.6 L559.5 536.3 L559.7 537.0 L560.0 537.7 L560.2 538.4 L560.5 539.1 L560.8 539.8 L561.1 540.5 L561.4 541.2 L561.7 541.9 L562.0 542.5 L562.4 543.2 L562.7 543.9 L563.1 544.5 L563.5 545.1 L563.9 545.7 L564.4 546.3 L564.8 546.9 L565.3 547.5 L565.8 548.0 L566.3 548.5 L566.9 549.0 L567.5 549.5 L568.1 549.9 L568.7 550.3 L569.3 550.7 L570.0 551.0 L570.6 551.4 L571.3 551.7 L572.0 552.0 L572.7 552.2 L573.4 552.5 L574.1 552.7 L574.8 552.9 L575.5 553.1 L576.3 553.3 L577.0 553.5 L577.7 553.7 L578.4 553.9 L579.2 554.0 L579.9 554.2 L580.6 554.3 L581.4 554.4 L582.1 554.5 L582.8 554.6 L583.6 554.6 L584.3 554.6 L585.1 554.7 L585.8 554.7 L586.6 554.7 L587.3 554.7 L588.1 554.7 L588.8 554.7 L589.6 554.7 L590.3 554.7 L591.1 554.7 L591.8 554.7 L592.6 554.7 L593.3 554.7 L594.1 554.7 L594.8 554.7 L595.6 554.7 L596.3 554.7 L597.1 554.7 L597.8 554.7 L598.6 554.7 L599.3 554.7 L600.1 554.7 L600.8 554.7 L601.6 554.7 L602.3 554.7 L603.1 554.7 L603.8 554.7 L604.6 554.7 L605.3 554.6 L606.0 554.6 L606.8 554.5 L607.5 554.4 L608.2 554.3 L608.9 554.1 L609.5 553.9 L610.2 553.7 L610.9 553.5 L611.5 553.2 L612.2 553.0 L612.9 552.8 L613.6 552.6 L614.3 552.5 L615.0 552.5 L615.6 552.5 L616.3 552.6 L617.0 552.7 L617.7 552.9 L618.4 553.1 L619.1 553.3 L619.8 553.5 L620.5 553.7 L621.2 554.0 L621.9 554.1 L622.6 554.3 L623.3 554.4 L624.0 554.5 L624.7 554.6 L625.5 554.6 L626.2 554.7 L627.0 554.7 L627.7 554.7 L628.5 554.7 L629.2 554.6 L629.9 554.6 L630.6 554.5 L631.4 554.4 L632.1 554.3 L632.8 554.2 L633.5 554.1 L634.2 553.9 L634.9 553.8 L635.5 553.6 L636.3 553.5 L637.0 553.4 L637.7 553.3 L638.4 553.3 L639.2 553.3 L639.9 553.2 L640.6 553.2 L641.4 553.2 L642.1 553.2 L642.9 553.2 L643.6 553.2 L644.4 553.2 L645.1 553.2 L645.9 553.2 L646.6 553.2 L647.4 553.2 L648.1 553.2 L648.9 553.2 L649.6 553.2 L650.4 553.2 L651.1 553.1 L651.8 553.1 L652.6 553.0 L653.3 553.0 L654.0 552.8 L654.7 552.6 L655.3 552.4 L655.9 552.1 L656.5 551.7 L657.0 551.3 L657.5 550.8 L657.9 550.3 L658.3 549.7 L658.7 549.1 L659.0 548.5 L659.3 547.8 L659.6 547.1 L659.8 546.4 L660.0 545.7 L660.2 545.0 L660.3 544.3 L660.5 543.5 L660.6 542.8 L660.8 542.0 L660.9 541.3 L661.0 540.6 L661.1 539.8 L661.2 539.1 L661.3 538.3 L661.4 537.6 L661.5 536.9 L661.6 536.1 L661.7 535.4 L661.8 534.6 L661.9 533.9 L662.0 533.1 L662.1 532.4 L662.1 531.6 L662.2 530.9 L662.3 530.1 L662.3 529.4 L662.4 528.7 L662.5 527.9 L662.5 527.2 L662.6 526.4 L662.7 525.7 L662.7 524.9 L662.8 524.2 L662.8 523.4 L662.9 522.7 L662.9 521.9 L663.0 521.2 L663.0 520.4 L663.0 519.7 L663.1 518.9 L663.1 518.2 L663.2 517.4 L663.2 516.7 L663.2 515.9 L663.3 515.2 L663.3 514.4 L663.3 513.7 L663.4 512.9 L663.4 512.2 L663.4 511.4 L663.5 510.7 L663.5 509.9 L663.5 509.2 L663.6 508.4 L663.6 507.7 L663.6 506.9 L663.7 506.2 L663.7 505.4 L663.7 504.7 L663.8 503.9 L663.8 503.2 L663.9 502.4 L663.9 501.7 L663.9 500.9 L664.0 500.2 L664.0 499.5 L664.1 498.7 L664.1 498.0 L664.1 497.2 L664.2 496.5 L664.2 495.7 L664.3 495.0 L664.3 494.2 L664.3 493.5 L664.4 492.7 L664.4 492.0 L664.5 491.2 L664.5 490.5 L664.5 489.7 L664.6 489.0 L664.6 488.2 L664.7 487.5 L664.7 486.7 L664.7 486.0 L664.8 485.2 L664.8 484.5 L664.9 483.7 L664.9 483.0 L664.9 482.2 L665.0 481.5 L665.0 480.7 L665.0 480.0 L665.1 479.2 L665.1 478.5 L665.2 477.7 L665.2 477.0 L665.2 476.2 L665.3 475.5 L665.3 474.7 L665.3 474.0 L665.4 473.2 L665.4 472.5 L665.4 471.7 L665.5 471.0 L665.5 470.2 L665.5 469.5 L665.6 468.7 L665.6 468.0 L665.6 467.2 L665.7 466.5 L665.7 465.7 L665.7 465.0 L665.8 464.2 L665.8 463.5 L665.8 462.7 L665.8 462.0 L665.9 461.2 L665.9 460.5 L665.9 459.7 L665.9 459.0 L666.0 458.2 L666.0 457.5 L666.0 456.8 L666.0 456.0 L666.1 455.3 L666.1 454.5 L666.1 453.8 L666.2 453.0 L666.2 452.3 L666.2 451.5 L666.3 450.8 L666.3 450.0 L666.3 449.3 L666.4 448.5 L666.4 447.8 L666.4 447.0 L666.5 446.3 L666.5 445.5 L666.5 444.8 L666.6 444.0 L666.6 443.3 L666.7 442.5 L666.7 441.8 L666.8 441.0 L666.8 440.3 L666.9 439.5 L666.9 438.8 L667.0 438.0 L667.0 437.3 L667.1 436.5 L667.2 435.8 L667.2 435.0 L667.3 434.3 L667.4 433.5 L667.4 432.8 L667.5 432.0 L667.6 431.3 L667.7 430.6 L667.7 429.8 L667.8 429.1 L667.9 428.3 L668.0 427.6 L668.1 426.8 L668.2 426.1 L668.3 425.4 L668.4 424.6 L668.5 423.9 L668.6 423.2 L668.7 422.5 L668.9 422.1 L669.2 422.2 L669.4 422.7 L669.6 423.5 L669.7 424.2 L669.8 424.9 L669.9 425.7 L670.0 426.4 L670.1 427.1 L670.2 427.9 L670.3 428.6 L670.4 429.4 L670.5 430.1 L670.6 430.8 L670.7 431.6 L670.8 432.3 L670.9 433.1 L671.0 433.8 L671.1 434.6 L671.2 435.3 L671.3 436.1 L671.3 436.8 L671.4 437.5 L671.5 438.3 L671.6 439.0 L671.6 439.8 L671.7 440.5 L671.8 441.3 L671.9 442.0 L671.9 442.8 L672.0 443.5 L672.1 444.3 L672.1 445.0 L672.2 445.8 L672.3 446.5 L672.3 447.3 L672.4 448.0 L672.4 448.8 L672.5 449.5 L672.5 450.2 L672.6 451.0 L672.6 451.7 L672.7 452.5 L672.7 453.2 L672.7 454.0 L672.8 454.7 L672.8 455.5 L672.9 456.2 L672.9 457.0 L672.9 457.7 L673.0 458.5 L673.0 459.2 L673.0 460.0 L673.1 460.7 L673.1 461.5 L673.1 462.2 L673.2 463.0 L673.2 463.7 L673.2 464.5 L673.3 465.2 L673.3 466.0 L673.3 466.7 L673.4 467.5 L673.4 468.2 L673.4 469.0 L673.5 469.7 L673.5 470.5 L673.5 471.2 L673.6 472.0 L673.6 472.7 L673.6 473.5 L673.7 474.2 L673.7 475.0 L673.8 475.7 L673.8 476.5 L673.8 477.2 L673.9 478.0 L673.9 478.7 L673.9 479.5 L674.0 480.2 L674.0 481.0 L674.0 481.7 L674.1 482.5 L674.1 483.2 L674.2 484.0 L674.2 484.7 L674.2 485.5 L674.3 486.2 L674.3 487.0 L674.4 487.7 L674.4 488.5 L674.4 489.2 L674.5 489.9 L674.5 490.7 L674.6 491.4 L674.6 492.2 L674.6 492.9 L674.7 493.7 L674.7 494.4 L674.8 495.2 L674.8 495.9 L674.8 496.7 L674.9 497.4 L674.9 498.2 L675.0 498.9 L675.0 499.7 L675.1 500.4 L675.1 501.2 L675.2 501.9 L675.2 502.7 L675.3 503.4 L675.3 504.2 L675.4 504.9 L675.4 505.7 L675.5 506.4 L675.5 507.2 L675.6 507.9 L675.7 508.7 L675.7 509.4 L675.8 510.2 L675.8 510.9 L675.9 511.7 L676.0 512.4 L676.0 513.1 L676.1 513.9 L676.2 514.6 L676.2 515.4 L676.3 516.1 L676.4 516.9 L676.4 517.6 L676.5 518.4 L676.6 519.1 L676.7 519.9 L676.7 520.6 L676.8 521.4 L676.9 522.1 L677.0 522.8 L677.1 523.6 L677.1 524.3 L677.2 525.1 L677.3 525.8 L677.4 526.6 L677.5 527.3 L677.6 528.1 L677.7 528.8 L677.8 529.6 L677.9 530.3 L678.0 531.0 L678.1 531.8 L678.2 532.5 L678.3 533.3 L678.4 534.0 L678.5 534.7 L678.6 535.5 L678.8 536.2 L678.9 537.0 L679.0 537.7 L679.2 538.4 L679.3 539.2 L679.5 539.9 L679.7 540.6 L679.9 541.3 L680.1 542.1 L680.3 542.8 L680.5 543.5 L680.8 544.2 L681.0 544.9 L681.3 545.6 L681.6 546.2 L682.0 546.9 L682.3 547.5 L682.7 548.2 L683.2 548.8 L683.6 549.4 L684.1 549.9 L684.6 550.4 L685.1 550.9 L685.7 551.4 L686.2 551.7 L686.9 552.1 L687.5 552.4 L688.2 552.6 L688.8 552.8 L689.6 552.9 L690.3 553.0 L691.0 553.1 L691.7 553.1 L692.5 553.2 L693.2 553.2 L693.9 553.3 L694.7 553.3 L695.4 553.4 L696.1 553.4 L696.8 553.5 L697.5 553.6 L698.2 553.8 L698.9 553.9 L699.6 554.1 L700.3 554.2 L701.0 554.3 L701.7 554.5 L702.4 554.5 L703.2 554.6 L703.9 554.7 L704.6 554.7 L705.4 554.7 L706.1 554.7 L706.9 554.8 L707.6 554.8 L708.4 554.8 L709.1 554.8 L709.9 554.8 L710.6 554.8 L711.4 554.8 L712.1 554.8 L712.9 554.8 L713.6 554.8 L714.4 554.8 L715.1 554.8 L715.9 554.8 L716.6 554.8 L717.4 554.8 L718.1 554.8 L718.9 554.8 L719.6 554.8 L720.4 554.8 L721.1 554.8 L721.9 554.8 L722.6 554.8 L723.4 554.8 L724.1 554.9 L724.9 554.9 L725.6 554.9 L726.4 554.9 L727.1 554.9 L727.9 554.9 L728.6 554.9 L729.4 554.9 L730.1 554.9 L730.9 554.9 L731.6 554.9 L732.4 554.9 L733.1 554.9 L733.9 554.9 L734.6 554.9 L735.4 554.9 L736.1 554.9 L736.9 554.9 L737.6 554.9 L738.4 554.9 L739.1 554.9 L739.9 554.9 L740.6 554.9 L741.4 554.9 L742.1 554.9 L742.9 554.9 L743.6 554.9 L744.4 554.9 L745.1 554.9 L745.9 554.9 L746.6 554.9 L747.4 554.9 L748.1 554.9 L748.9 554.9 L749.6 554.9 L750.4 554.9 L751.1 554.9 L751.9 554.9 L752.6 554.9 L753.4 554.9 L754.1 554.9 L754.9 554.9 L755.6 554.9 L756.4 554.9 L757.1 554.9 L757.9 554.9 L758.6 554.9 L759.4 554.8 L760.1 554.8 L760.8 554.7 L761.6 554.6 L762.3 554.5 L763.0 554.4 L763.7 554.2 L764.5 554.0 L765.2 553.8 L765.9 553.6 L766.6 553.4 L767.3 553.2 L768.0 553.0 L768.7 552.9 L769.4 552.8 L770.2 552.7 L770.9 552.7 L771.6 552.7 L772.3 552.8 L773.0 552.9 L773.7 553.1 L774.4 553.3 L775.1 553.5 L775.8 553.7 L776.5 553.9 L777.2 554.2 L777.9 554.3 L778.6 554.5 L779.3 554.6 L780.0 554.7 L780.8 554.8 L781.5 554.8 L782.3 554.9 L783.0 554.9 L783.7 554.9 L784.5 554.9 L785.2 554.9 L786.0 554.9 L786.7 554.9 L787.5 554.9 L788.2 554.9 L789.0 554.9 L789.7 554.9 L790.5 554.9 L791.2 554.9 L792.0 554.9 L792.7 554.9 L793.5 554.9 L794.2 554.9 L795.0 554.9 L795.7 554.9 L796.5 554.9 L797.2 554.9 L798.0 554.9 L798.7 554.9 L799.5 554.9 L800.2 554.9 L801.0 554.9 L801.7 554.9 L802.5 554.9 L803.2 554.9 L804.0 554.9 L804.7 554.9 L805.5 554.9 L806.2 554.9 L807.0 554.9 L807.7 554.9 L808.5 554.9 L809.2 554.9 L810.0 554.9 L810.7 554.9 L811.5 554.9 L812.2 554.9 L813.0 554.9 L813.7 554.9 L814.5 554.9 L815.2 554.9 L816.0 554.9 L816.7 554.9 L817.5 554.9 L818.2 554.9 L819.0 554.9 L819.7 554.9 L820.5 554.9 L821.2 554.9 L822.0 554.9 L822.7 554.9 L823.5 554.9 L824.2 554.9 L825.0 554.9 L825.7 554.9 L826.5 554.9 L827.2 554.9 L828.0 554.9 L828.7 554.9 L829.5 554.9 L830.2 554.9 L831.0 554.9 L831.7 554.9 L832.5 554.9 L833.2 554.9 L834.0 554.9 L834.7 554.9 L835.5 554.9 L836.2 554.9 L837.0 554.9 L837.7 554.9 L838.5 554.9 L839.2 554.9 L840.0 554.9 L840.7 554.9 L841.5 554.9 L842.2 554.9 L843.0 554.9 L843.7 554.9 L844.5 554.9 L845.2 554.9 L846.0 554.9 L846.7 554.9 L847.5 554.9 L848.2 554.9 L849.0 554.9 L849.7 554.9 L850.5 554.9 L851.2 554.9 L852.0 554.9 L852.7 554.9 L853.5 554.9 L854.2 554.9 L855.0 554.9 L855.7 554.9 L856.5 554.9 L857.2 554.9 L858.0 554.9 L858.7 554.9 L859.5 554.9 L860.2 554.9 L861.0 554.9 L861.7 554.9 L862.5 554.9 L863.2 554.9 L864.0 554.9 L864.7 554.9 L865.5 554.9 L866.2 554.9 L867.0 554.9 L867.7 554.9 L868.5 554.9 L869.2 554.9 L870.0 554.9 L870.7 554.9 L871.5 554.9 L872.2 554.9 L873.0 554.9 L873.7 554.9 L874.5 554.9 L875.2 554.9 L876.0 554.9 L876.7 554.9 L877.5 554.9 L878.2 554.9 L879.0 554.9 L879.7 554.9 L880.5 554.9 L881.2 554.9 L882.0 554.9 L882.7 554.9 L883.5 554.9 L884.2 554.9 L885.0 554.9 L885.7 554.9 L886.5 554.9 L887.2 554.9 L888.0 554.9 L888.7 554.9 L889.5 554.9 L890.2 554.9 L891.0 554.9 L891.7 554.9 L892.5 554.9 L893.2 554.9 L894.0 554.9 L894.7 554.9 L895.5 554.9 L896.2 554.9 L897.0 554.9 L897.7 554.9 L898.5 554.9 L899.2 554.9 L900.0 554.9 L900.7 554.9 L901.5 554.9 L902.2 554.9 L903.0 554.9 L903.7 554.9 L904.5 554.9 L905.2 554.9 L906.0 554.9 L906.7 554.9 L907.5 554.9 L908.2 554.9 L909.0 554.9 L909.7 554.9 L910.5 554.9 L911.2 554.9 L912.0 554.9 L912.7 554.9 L913.5 554.9 L914.2 554.9 L915.0 554.9 L915.7 554.9 L916.5 554.9 L917.2 554.9 L918.0 554.9 L918.7 554.9 L919.5 554.9 L920.2 554.9 L921.0 554.9 L921.7 554.9 L922.5 554.9 L923.2 554.9 L924.0 554.9 L924.7 554.9 L925.5 554.9 L926.2 554.9 L927.0 554.9 L927.7 554.9 L928.5 554.9 L929.2 554.9 L930.0 554.9 L930.7 554.9 L931.5 554.9 L932.2 554.9 L933.0 554.9 L933.7 554.9 L934.5 554.9 L935.2 554.9 L936.0 554.9 L936.7 554.9 L937.5 554.9 L938.2 554.9 L939.0 554.9 L939.7 554.9 L940.4 554.9 L941.1 554.9 L941.8 554.9 L942.5 554.9 L943.0 554.9 L943.6 554.9 L944.0 554.9 L945.5 554.9" fill="none" stroke="#2a2a2a" stroke-width="1.15" stroke-linejoin="round"/>
<path d="M466.1 77.9 L458.1 149.5" stroke="#2b2b2b" stroke-width="1.3" fill="none"/>
<path d="M456.9 399.2 L448.7 470.7" stroke="#2b2b2b" stroke-width="1.3" fill="none"/>
<path d="M564.2 70.3 L574.3 60.9" stroke="#5f7f9c" stroke-width="2.8" fill="none"/>
<g fill="#1e1e1e" stroke="#1e1e1e" stroke-width="0.25">
<text x="59.0" y="58.8" font-size="15.2" text-anchor="start" textLength="47.2" lengthAdjust="spacingAndGlyphs">0.028</text>
<text x="59.0" y="113.6" font-size="15.2" text-anchor="start" textLength="47.2" lengthAdjust="spacingAndGlyphs">0.021</text>
<text x="59.0" y="168.3" font-size="15.2" text-anchor="start" textLength="47.2" lengthAdjust="spacingAndGlyphs">0.014</text>
<text x="59.0" y="223.1" font-size="15.2" text-anchor="start" textLength="47.2" lengthAdjust="spacingAndGlyphs">0.007</text>
<text x="59.0" y="277.8" font-size="15.2" text-anchor="start" textLength="47.2" lengthAdjust="spacingAndGlyphs">0.000</text>
<text x="70.2" y="558.9" font-size="15.2" text-anchor="start" textLength="35.6" lengthAdjust="spacingAndGlyphs">0.00</text>
<text x="70.2" y="525.0" font-size="15.2" text-anchor="start" textLength="35.6" lengthAdjust="spacingAndGlyphs">0.02</text>
<text x="70.2" y="491.1" font-size="15.2" text-anchor="start" textLength="35.6" lengthAdjust="spacingAndGlyphs">0.04</text>
<text x="70.2" y="457.3" font-size="15.2" text-anchor="start" textLength="35.6" lengthAdjust="spacingAndGlyphs">0.06</text>
<text x="70.2" y="423.4" font-size="15.2" text-anchor="start" textLength="35.6" lengthAdjust="spacingAndGlyphs">0.08</text>
<text x="70.2" y="389.5" font-size="15.2" text-anchor="start" textLength="35.6" lengthAdjust="spacingAndGlyphs">0.10</text>
<text x="70.2" y="355.6" font-size="15.2" text-anchor="start" textLength="35.6" lengthAdjust="spacingAndGlyphs">0.12</text>
<text x="108.7" y="591.1" font-size="15.2" text-anchor="start" textLength="27.0" lengthAdjust="spacingAndGlyphs">0.0</text>
<text x="191.6" y="591.1" font-size="15.2" text-anchor="start" textLength="27.0" lengthAdjust="spacingAndGlyphs">1.0</text>
<text x="274.6" y="591.1" font-size="15.2" text-anchor="start" textLength="27.0" lengthAdjust="spacingAndGlyphs">2.0</text>
<text x="357.5" y="591.1" font-size="15.2" text-anchor="start" textLength="27.0" lengthAdjust="spacingAndGlyphs" stroke-width="0.55">3.0</text>
<text x="440.4" y="591.1" font-size="15.2" text-anchor="start" textLength="27.0" lengthAdjust="spacingAndGlyphs">4.0</text>
<text x="523.4" y="591.1" font-size="15.2" text-anchor="start" textLength="27.0" lengthAdjust="spacingAndGlyphs">5.0</text>
<text x="606.3" y="591.1" font-size="15.2" text-anchor="start" textLength="27.0" lengthAdjust="spacingAndGlyphs">6.0</text>
<text x="689.2" y="591.1" font-size="15.2" text-anchor="start" textLength="27.0" lengthAdjust="spacingAndGlyphs">7.0</text>
<text x="772.1" y="591.1" font-size="15.2" text-anchor="start" textLength="27.0" lengthAdjust="spacingAndGlyphs">8.0</text>
<text x="855.1" y="591.1" font-size="15.2" text-anchor="start" textLength="27.0" lengthAdjust="spacingAndGlyphs">9.0</text>
<text x="933.1" y="591.1" font-size="15.2" text-anchor="start" textLength="36.2" lengthAdjust="spacingAndGlyphs">10.0</text>
<text x="130.5" y="70.6" font-size="23.2" textLength="172.8" lengthAdjust="spacingAndGlyphs">4.6 x 150 mm</text>
<rect x="131.3" y="71.9" width="40" height="2.5" stroke="none"/>
<text x="129.4" y="356.9" font-size="23.3" textLength="173.5" lengthAdjust="spacingAndGlyphs">7.8 x 150 mm</text>
<rect x="130.3" y="358.7" width="40.5" height="2.8" stroke="none"/>
<text x="457.5" y="61.9" font-size="18" textLength="72.3" lengthAdjust="spacingAndGlyphs">R<tspan font-size="13" dy="3.7">s</tspan><tspan dy="-3.7">= 2.4</tspan></text>
<text x="454.8" y="382.6" font-size="18" textLength="72.3" lengthAdjust="spacingAndGlyphs">R<tspan font-size="13" dy="4.6">s</tspan><tspan dy="-4.6">= 3.1</tspan></text>
<text x="379.9" y="66.9" font-size="16.5" text-anchor="start">1</text>
<text x="434.9" y="87.2" font-size="16.5" text-anchor="start">2</text>
<text x="485.8" y="96.0" font-size="16.5" text-anchor="start">3</text>
<text x="580.2" y="59.8" font-size="16.5" text-anchor="start">4</text>
<text x="676.2" y="71.8" font-size="16.5" text-anchor="start">5</text>
<text x="730.2" y="55.4" font-size="20.8" text-anchor="start" textLength="130.6" lengthAdjust="spacingAndGlyphs">Compounds</text>
<text x="730.2" y="91.6" font-size="21" text-anchor="start" textLength="303.6" lengthAdjust="spacingAndGlyphs">1. Thyroglobulin (669 KDa)</text>
<text x="730.2" y="120.1" font-size="21" text-anchor="start" textLength="191.6" lengthAdjust="spacingAndGlyphs">2. IgG (150 KDa)</text>
<text x="730.2" y="148.6" font-size="21" text-anchor="start" textLength="183.6" lengthAdjust="spacingAndGlyphs">3. BSA (67 KDa)</text>
<text x="730.2" y="176.9" font-size="21" text-anchor="start" textLength="250.2" lengthAdjust="spacingAndGlyphs">4. Myoglobin (14 KDa)</text>
<text x="730.4" y="204.6" font-size="21" text-anchor="start" textLength="198.8" lengthAdjust="spacingAndGlyphs">5. Uracil (112 Da)</text>
<text x="495.7" y="619.4" font-size="19" text-anchor="start" textLength="77.9" lengthAdjust="spacingAndGlyphs">Minutes</text>
<text transform="translate(44.3 434.6) rotate(-90)" font-size="19" textLength="252.2" lengthAdjust="spacingAndGlyphs">UV Absorbance (280 nm)</text>
</g>
</svg>
</body></html>
